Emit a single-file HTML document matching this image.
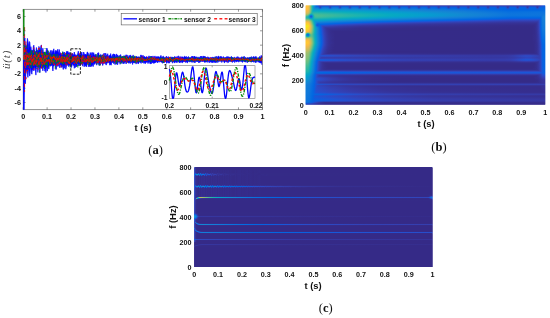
<!DOCTYPE html>
<html><head><meta charset="utf-8"><title>figure</title>
<style>
html,body{margin:0;padding:0;background:#fff;}
svg{display:block}
text{font-family:"Liberation Sans",sans-serif;font-weight:bold;fill:#111}
.tk{font-size:7.2px}
.ti{font-size:6.8px}
.ax{font-size:9.4px}
.cap{font-family:"Liberation Serif",serif;font-weight:normal;font-size:12.5px;fill:#111}
.cap tspan{font-weight:bold}
.lg{font-size:6.6px}
</style></head><body>
<svg width="550" height="318" viewBox="0 0 550 318">
<rect width="550" height="318" fill="#fff"/>

<g id="plotA">
<clipPath id="ca"><rect x="23.2" y="9.3" width="239.2" height="100.4"/></clipPath>
<g clip-path="url(#ca)" fill="none" stroke-linejoin="round">
<path d="M23.4,36.6L23.9,27.9L24.4,41.0L24.9,38.0L25.4,45.4L25.9,45.4L26.4,48.7L26.9,46.0L27.4,38.4L27.9,40.9L28.4,43.6L28.9,49.9L29.4,41.5L29.9,42.6L30.4,50.5L30.9,46.7L31.4,51.0L31.9,51.0L32.4,50.2L32.9,51.1L33.4,45.9L33.9,45.2L34.4,50.6L34.9,50.9L35.4,51.8L35.9,51.9L36.4,47.5L36.9,49.0L37.4,52.2L37.9,50.3L38.4,51.0L38.9,46.4L39.4,48.2L39.9,49.6L40.4,50.2L40.9,45.5L41.4,45.1L41.9,52.0L42.4,52.5L42.9,48.2L43.4,53.1L43.9,52.2L44.4,53.3L44.9,52.6L45.4,53.4L45.9,52.9L46.4,49.2L46.9,48.0L47.4,49.4L47.9,51.6L48.4,51.2L48.9,53.0L49.4,53.7L49.9,52.7L50.4,50.4L50.9,54.0L51.4,54.0L51.9,50.3L52.4,53.6L52.9,51.0L53.3,50.8L53.8,48.8L54.3,53.3L54.8,53.5L55.3,50.4L55.8,50.8L56.3,51.9L56.8,50.5L57.3,52.1L57.8,49.2L58.3,53.9L58.8,51.5L59.3,49.5L59.8,54.1L60.3,52.6L60.8,54.0L61.3,53.6L61.8,54.8L62.3,54.8L62.8,51.7L63.3,53.8L63.8,52.8L64.3,52.0L64.8,54.0L65.3,54.3L65.8,54.9L66.3,51.7L66.8,51.4L67.3,52.3L67.8,51.2L68.3,53.0L68.8,52.7L69.3,55.0L69.8,52.3L70.3,54.7L70.8,54.4L71.3,54.8L71.8,53.8L72.3,53.2L72.8,53.8L73.3,54.9L73.8,55.2L74.3,52.0L74.8,55.0L75.3,54.6L75.8,55.5L76.3,55.1L76.8,55.5L77.3,55.0L77.8,53.2L78.3,51.2L78.8,53.8L79.3,55.3L79.8,53.7L80.3,53.9L80.8,52.6L81.3,54.4L81.8,52.0L82.3,55.0L82.8,55.4L83.2,54.6L83.7,52.0L84.2,53.5L84.7,54.8L85.2,54.8L85.7,54.1L86.2,55.0L86.7,54.6L87.2,51.9L87.7,52.3L88.2,53.0L88.7,55.9L89.2,54.7L89.7,55.5L90.2,52.6L90.7,55.7L91.2,52.5L91.7,55.9L92.2,55.4L92.7,52.4L93.2,54.7L93.7,52.7L94.2,55.0L94.7,56.0L95.2,54.2L95.7,55.2L96.2,55.3L96.7,56.2L97.2,56.2L97.7,53.0L98.2,52.8L98.7,52.8L99.2,55.9L99.7,56.3L100.2,55.2L100.7,54.4L101.2,54.8L101.7,56.4L102.2,56.2L102.7,54.6L103.2,56.4L103.7,53.9L104.2,53.0L104.7,56.3L105.2,56.5L105.7,53.1L106.2,54.5L106.7,55.8L107.2,55.8L107.7,53.7L108.2,56.1L108.7,56.6L109.2,55.3L109.7,56.3L110.2,55.1L110.7,53.6L111.2,56.2L111.7,56.5L112.2,56.7L112.7,54.4L113.1,56.7L113.6,53.8L114.1,55.1L114.6,54.1L115.1,54.6L115.6,56.7L116.1,56.7L116.6,53.9L117.1,56.6L117.6,54.9L118.1,56.8L118.6,56.6L119.1,55.5L119.6,56.7L120.1,55.2L120.6,54.6L121.1,56.6L121.6,56.7L122.1,57.0L122.6,56.4L123.1,57.0L123.6,56.0L124.1,55.6L124.6,56.1L125.1,56.0L125.6,56.0L126.1,54.7L126.6,56.2L127.1,54.9L127.6,56.7L128.1,57.0L128.6,57.0L129.1,55.3L129.6,57.0L130.1,55.5L130.6,54.9L131.1,56.3L131.6,57.1L132.1,56.1L132.6,56.8L133.1,54.9L133.6,57.1L134.1,57.1L134.6,56.6L135.1,56.6L135.6,57.2L136.1,56.9L136.6,56.1L137.1,56.7L137.6,57.3L138.1,56.9L138.6,56.9L139.1,56.8L139.6,57.3L140.1,57.2L140.6,55.1L141.1,55.4L141.6,55.2L142.1,56.0L142.6,56.9L143.0,55.2L143.5,57.2L144.0,56.6L144.5,56.6L145.0,57.0L145.5,57.3L146.0,57.2L146.5,56.5L147.0,57.3L147.5,57.2L148.0,57.2L148.5,57.2L149.0,55.8L149.5,56.8L150.0,57.5L150.5,56.2L151.0,56.9L151.5,56.1L152.0,57.0L152.5,57.3L153.0,55.9L153.5,57.5L154.0,57.4L154.5,57.0L155.0,55.9L155.5,57.5L156.0,57.3L156.5,56.9L157.0,56.5L157.5,57.6L158.0,56.3L158.5,56.9L159.0,57.0L159.5,57.3L160.0,57.4L160.5,55.9L161.0,55.4L161.5,57.6L162.0,57.6L162.5,56.7L163.0,56.4L163.5,56.2L164.0,57.5L164.5,57.6L165.0,57.7L165.5,57.4L166.0,57.0L166.5,56.1L167.0,57.7L167.5,57.7L168.0,56.8L168.5,56.8L169.0,57.7L169.5,57.7L170.0,57.7L170.5,56.8L171.0,57.6L171.5,57.6L172.0,56.8L172.5,57.7L172.9,57.1L173.4,57.7L173.9,57.7L174.4,56.8L174.9,56.4L175.4,57.3L175.9,57.4L176.4,56.7L176.9,57.7L177.4,57.6L177.9,56.1L178.4,55.9L178.9,57.8L179.4,57.8L179.9,56.6L180.4,57.4L180.9,56.6L181.4,56.9L181.9,57.4L182.4,56.8L182.9,57.0L183.4,57.8L183.9,57.3L184.4,56.2L184.9,56.6L185.4,56.9L185.9,57.0L186.4,56.5L186.9,57.6L187.4,57.5L187.9,57.0L188.4,56.5L188.9,57.6L189.4,57.8L189.9,57.7L190.4,57.4L190.9,57.8L191.4,57.0L191.9,56.2L192.4,57.6L192.9,56.0L193.4,57.5L193.9,57.3L194.4,56.0L194.9,56.8L195.4,57.3L195.9,56.7L196.4,57.4L196.9,56.8L197.4,57.8L197.9,57.8L198.4,57.2L198.9,57.3L199.4,57.4L199.9,57.8L200.4,56.2L200.9,57.8L201.4,56.1L201.9,57.7L202.4,57.7L202.8,56.2L203.3,56.1L203.8,56.9L204.3,56.1L204.8,57.8L205.3,56.5L205.8,57.2L206.3,57.7L206.8,57.2L207.3,57.9L207.8,56.7L208.3,57.1L208.8,57.9L209.3,57.8L209.8,57.8L210.3,57.5L210.8,57.8L211.3,57.8L211.8,57.3L212.3,57.9L212.8,56.9L213.3,57.5L213.8,57.6L214.3,57.3L214.8,57.9L215.3,56.5L215.8,57.9L216.3,57.4L216.8,56.2L217.3,57.9L217.8,57.0L218.3,56.2L218.8,56.1L219.3,57.7L219.8,57.2L220.3,56.3L220.8,57.2L221.3,56.5L221.8,57.0L222.3,57.9L222.8,57.7L223.3,56.5L223.8,57.5L224.3,57.6L224.8,57.8L225.3,57.9L225.8,57.1L226.3,57.7L226.8,56.5L227.3,58.0L227.8,56.5L228.3,57.9L228.8,56.7L229.3,57.6L229.8,57.0L230.3,57.6L230.8,57.9L231.3,56.3L231.8,57.2L232.3,57.9L232.7,57.3L233.2,57.9L233.7,57.7L234.2,57.3L234.7,57.3L235.2,57.9L235.7,57.9L236.2,57.6L236.7,57.5L237.2,56.6L237.7,57.4L238.2,56.8L238.7,57.7L239.2,57.9L239.7,57.8L240.2,58.0L240.7,57.7L241.2,57.2L241.7,56.7L242.2,57.9L242.7,57.1L243.2,57.0L243.7,57.1L244.2,56.3L244.7,57.4L245.2,57.6L245.7,57.5L246.2,58.0L246.7,58.0L247.2,57.5L247.7,57.7L248.2,58.0L248.7,57.8L249.2,57.3L249.7,57.5L250.2,57.7L250.7,56.9L251.2,58.0L251.7,56.6L252.2,57.2L252.7,57.7L253.2,57.1L253.7,56.4L254.2,57.2L254.7,57.2L255.2,57.1L255.7,56.5L256.2,56.6L256.7,57.9L257.2,58.0L257.7,57.9L258.2,57.8L258.7,57.9L259.2,57.6L259.7,56.4L260.2,57.8L260.7,57.2L261.2,55.3L261.7,56.8L262.2,56.1L262.2,65.0L261.7,62.6L261.2,63.0L260.7,62.9L260.2,62.8L259.7,62.5L259.2,62.5L258.7,61.0L258.2,62.3L257.7,61.0L257.2,61.2L256.7,61.6L256.2,62.4L255.7,62.2L255.2,62.7L254.7,61.3L254.2,61.1L253.7,62.3L253.2,61.7L252.7,61.2L252.2,62.0L251.7,61.2L251.2,62.3L250.7,61.4L250.2,61.4L249.7,61.2L249.2,61.7L248.7,61.1L248.2,62.1L247.7,61.6L247.2,62.8L246.7,61.1L246.2,61.1L245.7,62.0L245.2,62.0L244.7,61.9L244.2,61.2L243.7,61.1L243.2,61.1L242.7,62.2L242.2,62.3L241.7,61.4L241.2,61.2L240.7,61.3L240.2,61.2L239.7,61.3L239.2,61.2L238.7,62.2L238.2,61.3L237.7,61.1L237.2,61.4L236.7,62.0L236.2,61.8L235.7,61.3L235.2,61.1L234.7,62.6L234.2,61.1L233.7,61.4L233.2,61.2L232.7,61.8L232.3,62.5L231.8,62.0L231.3,61.1L230.8,61.2L230.3,61.5L229.8,61.6L229.3,61.3L228.8,61.4L228.3,62.5L227.8,62.7L227.3,61.1L226.8,62.1L226.3,61.8L225.8,61.5L225.3,61.6L224.8,62.5L224.3,62.8L223.8,61.4L223.3,61.1L222.8,61.1L222.3,61.3L221.8,62.5L221.3,61.3L220.8,61.5L220.3,61.1L219.8,61.1L219.3,61.4L218.8,61.6L218.3,61.2L217.8,62.6L217.3,61.3L216.8,61.1L216.3,62.6L215.8,61.8L215.3,62.7L214.8,61.4L214.3,62.5L213.8,61.5L213.3,62.4L212.8,61.8L212.3,62.8L211.8,61.8L211.3,62.5L210.8,61.2L210.3,62.2L209.8,61.1L209.3,62.8L208.8,61.1L208.3,61.4L207.8,62.4L207.3,61.3L206.8,61.5L206.3,62.2L205.8,61.7L205.3,62.3L204.8,62.2L204.3,62.2L203.8,61.3L203.3,61.1L202.8,61.8L202.4,61.3L201.9,61.4L201.4,61.1L200.9,61.8L200.4,61.1L199.9,62.4L199.4,61.2L198.9,63.0L198.4,61.2L197.9,61.2L197.4,62.0L196.9,61.3L196.4,61.5L195.9,61.5L195.4,61.7L194.9,63.0L194.4,61.4L193.9,62.3L193.4,61.6L192.9,62.3L192.4,61.3L191.9,62.4L191.4,61.2L190.9,61.7L190.4,61.2L189.9,62.2L189.4,61.2L188.9,61.2L188.4,61.6L187.9,61.7L187.4,62.9L186.9,62.6L186.4,62.0L185.9,61.4L185.4,62.5L184.9,61.2L184.4,61.6L183.9,61.9L183.4,61.3L182.9,62.4L182.4,62.8L181.9,61.2L181.4,62.3L180.9,62.6L180.4,62.1L179.9,62.2L179.4,63.0L178.9,61.5L178.4,61.3L177.9,61.2L177.4,62.4L176.9,61.7L176.4,62.5L175.9,62.5L175.4,61.4L174.9,62.5L174.4,62.9L173.9,62.3L173.4,61.4L172.9,61.7L172.5,63.2L172.0,61.8L171.5,61.3L171.0,61.4L170.5,62.0L170.0,61.3L169.5,63.2L169.0,61.8L168.5,63.2L168.0,61.4L167.5,61.7L167.0,63.2L166.5,63.2L166.0,61.6L165.5,61.3L165.0,62.2L164.5,61.9L164.0,63.0L163.5,61.5L163.0,63.2L162.5,63.1L162.0,62.1L161.5,62.0L161.0,62.3L160.5,61.4L160.0,61.4L159.5,61.8L159.0,62.3L158.5,61.6L158.0,61.4L157.5,62.9L157.0,61.7L156.5,61.4L156.0,62.5L155.5,62.2L155.0,62.9L154.5,63.0L154.0,62.7L153.5,63.4L153.0,62.6L152.5,63.1L152.0,61.8L151.5,63.5L151.0,63.5L150.5,63.6L150.0,63.9L149.5,61.8L149.0,62.0L148.5,62.6L148.0,63.6L147.5,61.9L147.0,61.8L146.5,62.3L146.0,62.5L145.5,63.4L145.0,63.4L144.5,61.6L144.0,63.5L143.5,61.6L143.0,62.8L142.6,62.6L142.1,62.1L141.6,61.7L141.1,63.4L140.6,62.6L140.1,62.3L139.6,61.7L139.1,62.5L138.6,63.5L138.1,63.9L137.6,62.9L137.1,62.0L136.6,62.1L136.1,64.1L135.6,61.8L135.1,63.1L134.6,63.0L134.1,61.9L133.6,63.0L133.1,62.4L132.6,64.5L132.1,62.1L131.6,61.9L131.1,62.9L130.6,63.4L130.1,62.6L129.6,63.0L129.1,62.6L128.6,63.3L128.1,62.7L127.6,62.0L127.1,61.9L126.6,62.0L126.1,64.0L125.6,62.0L125.1,62.0L124.6,62.2L124.1,63.6L123.6,62.5L123.1,63.9L122.6,62.4L122.1,62.2L121.6,63.2L121.1,62.1L120.6,62.1L120.1,64.3L119.6,62.1L119.1,62.3L118.6,62.1L118.1,62.5L117.6,64.8L117.1,62.2L116.6,64.3L116.1,62.4L115.6,62.5L115.1,64.7L114.6,63.3L114.1,62.8L113.6,63.6L113.1,62.3L112.7,62.3L112.2,62.5L111.7,62.4L111.2,65.2L110.7,64.5L110.2,64.8L109.7,65.1L109.2,62.7L108.7,62.5L108.2,62.6L107.7,63.0L107.2,62.5L106.7,63.8L106.2,65.1L105.7,64.2L105.2,62.5L104.7,63.1L104.2,63.6L103.7,62.8L103.2,63.9L102.7,65.5L102.2,62.7L101.7,63.0L101.2,63.5L100.7,63.3L100.2,65.3L99.7,63.5L99.2,65.6L98.7,64.3L98.2,63.0L97.7,63.1L97.2,62.7L96.7,65.2L96.2,63.3L95.7,63.1L95.2,62.8L94.7,64.5L94.2,63.0L93.7,63.7L93.2,66.6L92.7,65.6L92.2,64.4L91.7,66.5L91.2,66.0L90.7,65.5L90.2,67.0L89.7,66.5L89.2,65.0L88.7,66.8L88.2,63.2L87.7,63.4L87.2,63.1L86.7,66.9L86.2,66.4L85.7,64.5L85.2,66.3L84.7,63.9L84.2,66.8L83.7,63.2L83.2,63.3L82.8,66.2L82.3,63.6L81.8,64.5L81.3,63.3L80.8,63.5L80.3,64.4L79.8,66.1L79.3,63.4L78.8,64.2L78.3,65.8L77.8,64.3L77.3,63.6L76.8,67.0L76.3,66.5L75.8,63.8L75.3,67.6L74.8,64.0L74.3,68.3L73.8,64.7L73.3,65.4L72.8,64.0L72.3,64.3L71.8,66.3L71.3,67.6L70.8,64.7L70.3,64.0L69.8,65.6L69.3,64.4L68.8,66.7L68.3,65.1L67.8,64.6L67.3,65.4L66.8,64.0L66.3,67.1L65.8,69.2L65.3,64.8L64.8,65.5L64.3,68.3L63.8,65.3L63.3,69.5L62.8,67.7L62.3,65.1L61.8,66.8L61.3,67.5L60.8,65.1L60.3,64.4L59.8,67.9L59.3,64.4L58.8,64.6L58.3,66.2L57.8,66.4L57.3,65.4L56.8,64.7L56.3,69.3L55.8,69.4L55.3,65.0L54.8,64.9L54.3,65.1L53.8,66.1L53.3,66.1L52.9,71.0L52.4,65.7L51.9,65.4L51.4,65.6L50.9,65.8L50.4,66.2L49.9,65.3L49.4,65.2L48.9,69.1L48.4,67.9L47.9,65.8L47.4,71.1L46.9,65.6L46.4,68.5L45.9,72.6L45.4,66.9L44.9,71.2L44.4,65.8L43.9,67.7L43.4,66.2L42.9,70.9L42.4,67.6L41.9,68.1L41.4,68.0L40.9,68.0L40.4,67.0L39.9,72.5L39.4,68.0L38.9,67.2L38.4,67.1L37.9,72.4L37.4,67.1L36.9,67.0L36.4,67.0L35.9,75.1L35.4,69.8L34.9,67.4L34.4,67.4L33.9,70.9L33.4,67.7L32.9,70.3L32.4,67.8L31.9,74.2L31.4,72.4L30.9,68.2L30.4,68.7L29.9,75.8L29.4,75.8L28.9,69.5L28.4,69.3L27.9,77.4L27.4,72.1L26.9,70.3L26.4,70.5L25.9,73.0L25.4,83.8L24.9,73.7L24.4,87.3L23.9,95.4L23.4,109.7Z" stroke="#0000ff" stroke-width="0.7" fill="#0000ff"/>
<path d="M23.2,59.5L23.3,9.3L23.4,84.6L23.5,70.1L23.6,57.3L23.7,36.7L23.9,48.2L24.0,66.0L24.1,67.0L24.2,65.0L24.3,76.3L24.4,66.1L24.5,45.1L24.6,63.4L24.7,67.5L24.8,56.7L24.9,48.6L25.0,59.6L25.2,60.7L25.3,60.2L25.4,59.3L25.5,60.6L25.6,61.1L25.7,56.2L25.8,58.3L25.9,59.9L26.0,55.1L26.1,62.0L26.2,62.1L26.4,61.2L26.5,59.0L26.6,59.3L26.7,45.6L26.8,57.7L26.9,68.6L27.0,63.4L27.1,61.1L27.2,65.5L27.3,57.1L27.4,58.5L27.6,61.3L27.7,66.3L27.8,63.8L27.9,57.4L28.0,52.0L28.1,59.3L28.2,62.6L28.3,57.3L28.4,60.2L28.5,57.0L28.6,53.2L28.7,60.3L28.9,60.5L29.0,58.8L29.1,65.2L29.2,56.3L29.3,51.7L29.4,63.1L29.5,63.6L29.6,52.2L29.7,55.2L29.8,66.3L29.9,61.2L30.1,57.4L30.2,58.1L30.3,56.8L30.4,63.0L30.5,61.5L30.6,63.9L30.7,64.6L30.8,52.5L30.9,49.4L31.0,59.1L31.1,64.5L31.2,69.1L31.4,63.3L31.5,50.1L31.6,52.8L31.7,60.9L31.8,61.1L31.9,60.5L32.0,68.0L32.1,57.3L32.2,51.5L32.3,60.4L32.4,65.2L32.6,56.5L32.7,55.1L32.8,56.1L32.9,59.2L33.0,61.7L33.1,58.2L33.2,61.5L33.3,63.8L33.4,57.3L33.5,59.2L33.6,61.4L33.8,56.2L33.9,60.6L34.0,59.1L34.1,60.0L34.2,66.0L34.3,62.2L34.4,49.3L34.5,53.5L34.6,64.9L34.7,62.6L34.8,62.5L34.9,65.7L35.1,56.5L35.2,51.7L35.3,57.1L35.4,63.1L35.5,63.5L35.6,54.5L35.7,55.5L35.8,59.2L35.9,62.5L36.0,60.5L36.1,60.9L36.3,58.4L36.4,56.2L36.5,61.4L36.6,58.8L36.7,60.3L36.8,69.0L36.9,59.5L37.0,50.7L37.1,61.2L37.2,59.3L37.3,50.1L37.4,57.2L37.6,67.6L37.7,64.6L37.8,63.4L37.9,57.5L38.0,56.3L38.1,53.6L38.2,57.3L38.3,66.9L38.4,67.3L38.5,60.0L38.6,52.6L38.8,54.1L38.9,59.5L39.0,65.7L39.1,61.1L39.2,53.8L39.3,57.5L39.4,63.5L39.5,57.5L39.6,60.8L39.7,72.5L39.8,58.8L40.0,48.6L40.1,58.2L40.2,64.4L40.3,60.7L40.4,61.8L40.5,58.7L40.6,61.6L40.7,60.1L40.8,59.2L40.9,62.0L41.0,62.8L41.1,59.1L41.3,62.9L41.4,60.4L41.5,58.5L41.6,59.4L41.7,55.2L41.8,58.0L41.9,68.1L42.0,63.7L42.1,50.6L42.2,53.6L42.3,62.5L42.5,58.0L42.6,63.5L42.7,66.2L42.8,59.1L42.9,51.9L43.0,53.8L43.1,61.2L43.2,64.7L43.3,60.1L43.4,55.8L43.5,59.2L43.7,58.9L43.8,63.1L43.9,65.3L44.0,60.3L44.1,58.2L44.2,56.2L44.3,52.2L44.4,60.6L44.5,70.4L44.6,56.2L44.7,50.4L44.8,63.4L45.0,59.3L45.1,48.4L45.2,57.0L45.3,65.1L45.4,63.9L45.5,65.3L45.6,62.3L45.7,58.5L45.8,54.7L45.9,52.0L46.0,58.8L46.2,64.7L46.3,64.1L46.4,58.8L46.5,54.5L46.6,58.0L46.7,66.1L46.8,63.3L46.9,54.0L47.0,57.4L47.1,63.2L47.2,56.1L47.3,61.5L47.5,68.8L47.6,57.5L47.7,48.9L47.8,54.8L47.9,59.5L48.0,61.8L48.1,62.4L48.2,63.2L48.3,60.3L48.4,59.2L48.5,55.6L48.7,57.9L48.8,58.2L48.9,59.3L49.0,60.3L49.1,61.0L49.2,60.7L49.3,60.1L49.4,52.6L49.5,56.0L49.6,65.9L49.7,63.7L49.9,55.2L50.0,59.6L50.1,61.6L50.2,56.1L50.3,59.4L50.4,65.2L50.5,59.9L50.6,54.6L50.7,52.6L50.8,58.5L50.9,62.4L51.0,61.6L51.2,59.0L51.3,58.9L51.4,57.6L51.5,60.2L51.6,61.2L51.7,61.5L51.8,63.3L51.9,59.9L52.0,53.9L52.1,61.4L52.2,65.2L52.4,57.5L52.5,55.8L52.6,62.7L52.7,60.0L52.8,55.8L52.9,60.6L53.0,63.2L53.1,60.2L53.2,62.3L53.3,61.0L53.4,60.0L53.5,56.5L53.7,53.8L53.8,56.7L53.9,62.4L54.0,63.9L54.1,58.5L54.2,53.7L54.3,54.6L54.4,62.0L54.5,60.4L54.6,56.6L54.7,59.2L54.9,59.3L55.0,53.9L55.1,61.2L55.2,68.6L55.3,58.5L55.4,55.9L55.5,55.7L55.6,58.0L55.7,60.9L55.8,62.2L55.9,62.2L56.1,63.8L56.2,60.5L56.3,58.2L56.4,56.7L56.5,58.7L56.6,58.2L56.7,60.0L56.8,59.3L56.9,63.4L57.0,62.5L57.1,54.1L57.2,53.0L57.4,63.7L57.5,61.7L57.6,56.5L57.7,60.2L57.8,60.7L57.9,57.1L58.0,60.2L58.1,63.0L58.2,60.3L58.3,56.0L58.4,55.9L58.6,58.2L58.7,64.5L58.8,64.5L58.9,61.1L59.0,58.3L59.1,57.4L59.2,58.5L59.3,58.7L59.4,60.3L59.5,62.7L59.6,59.7L59.7,56.3L59.9,60.6L60.0,62.9L60.1,56.5L60.2,57.6L60.3,62.0L60.4,60.9L60.5,60.1L60.6,59.5L60.7,59.2L60.8,59.7L60.9,60.1L61.1,59.9L61.2,59.3L61.3,59.3L61.4,56.5L61.5,59.0L61.6,61.9L61.7,64.3L61.8,61.7L61.9,56.5L62.0,54.9L62.1,63.3L62.3,60.5L62.4,59.8L62.5,65.1L62.6,58.5L62.7,50.8L62.8,58.9L62.9,64.8L63.0,61.9L63.1,56.5L63.2,59.6L63.3,57.6L63.4,58.0L63.6,59.9L63.7,59.5L63.8,63.6L63.9,60.9L64.0,58.4L64.1,57.4L64.2,58.9L64.3,58.8L64.4,59.0L64.5,58.6L64.6,63.9L64.8,63.2L64.9,54.0L65.0,55.1L65.1,63.5L65.2,61.4L65.3,59.0L65.4,62.9L65.5,60.4L65.6,57.1L65.7,59.5L65.8,61.4L65.9,59.7L66.1,58.6L66.2,55.0L66.3,55.6L66.4,63.1L66.5,63.1L66.6,62.9L66.7,60.2L66.8,57.8L66.9,57.4L67.0,56.1L67.1,58.5L67.3,62.4L67.4,60.8L67.5,54.3L67.6,61.1L67.7,62.8L67.8,55.8L67.9,55.6L68.0,62.2L68.1,60.7L68.2,59.5L68.3,61.5L68.5,60.3L68.6,60.3L68.7,59.4L68.8,57.0L68.9,61.3L69.0,59.8L69.1,57.2L69.2,57.5L69.3,63.1L69.4,64.8L69.5,62.3L69.6,56.9L69.8,56.9L69.9,59.2L70.0,56.6L70.1,62.0L70.2,67.3L70.3,60.7L70.4,52.4L70.5,56.6L70.6,58.8L70.7,59.4L70.8,61.5L71.0,59.6L71.1,58.1L71.2,60.6L71.3,60.5L71.4,60.2L71.5,59.6L71.6,59.1L71.7,59.3L71.8,59.3L71.9,61.4L72.0,61.1L72.1,57.5L72.3,57.9L72.4,62.7L72.5,61.4L72.6,56.1L72.7,58.4L72.8,62.5L72.9,60.0L73.0,60.5L73.1,61.7L73.2,59.0L73.3,57.4L73.5,57.2L73.6,59.7L73.7,61.0L73.8,60.1L73.9,57.3L74.0,58.0L74.1,59.5L74.2,60.7L74.3,61.1L74.4,58.6L74.5,58.6L74.7,58.2L74.8,57.1L74.9,58.2L75.0,63.7L75.1,59.4L75.2,57.2L75.3,60.7L75.4,62.2L75.5,58.3L75.6,59.6L75.7,61.2L75.8,59.7L76.0,60.0L76.1,60.1L76.2,59.4L76.3,59.1L76.4,58.0L76.5,56.7L76.6,60.1L76.7,61.8L76.8,58.1L76.9,55.6L77.0,59.3L77.2,66.6L77.3,63.6L77.4,58.1L77.5,56.8L77.6,58.3L77.7,55.0L77.8,59.1L77.9,68.4L78.0,62.8L78.1,54.5L78.2,56.0L78.3,58.5L78.5,59.0L78.6,60.7L78.7,61.3L78.8,59.0L78.9,62.3L79.0,59.7L79.1,59.3L79.2,60.3L79.3,60.3L79.4,57.8L79.5,58.7L79.7,59.2L79.8,62.4L79.9,58.5L80.0,57.5L80.1,62.3L80.2,61.3L80.3,56.8L80.4,56.5L80.5,60.2L80.6,60.0L80.7,61.5L80.9,63.9L81.0,59.0L81.1,54.8L81.2,55.7L81.3,58.8L81.4,62.3L81.5,65.4L81.6,60.3L81.7,57.4L81.8,59.7L81.9,60.3L82.0,59.2L82.2,61.4L82.3,61.3L82.4,60.0L82.5,55.8L82.6,58.0L82.7,63.3L82.8,59.1L82.9,55.1L83.0,59.6L83.1,60.6L83.2,58.1L83.4,59.2L83.5,60.3L83.6,58.3L83.7,59.5L83.8,60.3L83.9,59.2L84.0,60.0L84.1,58.6L84.2,59.5L84.3,59.0L84.4,61.4L84.6,59.5L84.7,58.7L84.8,59.1L84.9,60.7L85.0,61.4L85.1,59.6L85.2,60.3L85.3,60.4L85.4,58.6L85.5,58.7L85.6,62.8L85.7,59.2L85.9,57.7L86.0,58.8L86.1,58.8L86.2,58.9L86.3,61.1L86.4,59.9L86.5,60.0L86.6,60.8L86.7,59.3L86.8,59.3L86.9,61.5L87.1,59.6L87.2,56.8L87.3,57.5L87.4,59.9L87.5,62.2L87.6,58.9L87.7,57.5L87.8,64.6L87.9,63.3L88.0,55.3L88.1,59.2L88.2,60.4L88.4,57.6L88.5,61.0L88.6,65.0L88.7,61.7L88.8,56.4L88.9,54.7L89.0,53.9L89.1,61.3L89.2,64.3L89.3,62.3L89.4,58.9L89.6,59.0L89.7,58.3L89.8,58.8L89.9,58.4L90.0,60.5L90.1,58.7L90.2,56.6L90.3,59.2L90.4,65.2L90.5,60.4L90.6,57.1L90.8,61.0L90.9,60.5L91.0,58.0L91.1,60.5L91.2,60.1L91.3,60.9L91.4,61.4L91.5,60.2L91.6,58.2L91.7,59.0L91.8,57.2L91.9,57.5L92.1,60.7L92.2,62.4L92.3,62.6L92.4,58.0L92.5,57.3L92.6,58.7L92.7,60.4L92.8,57.9L92.9,60.7L93.0,59.9L93.1,56.3L93.3,58.0L93.4,61.5L93.5,60.9L93.6,59.1L93.7,59.5L93.8,57.6L93.9,60.8L94.0,63.0L94.1,60.1L94.2,60.1L94.3,59.9L94.4,58.3L94.6,58.3L94.7,60.0L94.8,60.9L94.9,59.6L95.0,58.1L95.1,61.3L95.2,62.5L95.3,57.3L95.4,57.5L95.5,62.2L95.6,61.5L95.8,58.3L95.9,59.4L96.0,60.1L96.1,54.5L96.2,59.3L96.3,62.7L96.4,60.8L96.5,60.3L96.6,56.4L96.7,54.1L96.8,59.4L97.0,64.6L97.1,61.4L97.2,59.7L97.3,59.0L97.4,58.5L97.5,57.8L97.6,60.0L97.7,62.9L97.8,60.6L97.9,55.1L98.0,59.5L98.1,64.4L98.3,61.1L98.4,58.5L98.5,61.0L98.6,58.7L98.7,56.3L98.8,60.3L98.9,58.0L99.0,59.5L99.1,61.0L99.2,59.8L99.3,56.7L99.5,59.8L99.6,56.7L99.7,55.1L99.8,59.8L99.9,65.4L100.0,62.8L100.1,59.1L100.2,56.9L100.3,59.1L100.4,58.4L100.5,58.3L100.6,62.6L100.8,61.3L100.9,55.8L101.0,58.7L101.1,62.2L101.2,60.8L101.3,60.9L101.4,57.0L101.5,56.7L101.6,59.1L101.7,62.0L101.8,59.6L102.0,60.9L102.1,60.7L102.2,55.2L102.3,55.6L102.4,59.2L102.5,61.0L102.6,59.5L102.7,59.9L102.8,61.5L102.9,61.6L103.0,57.3L103.2,56.5L103.3,60.7L103.4,59.5L103.5,59.8L103.6,63.0L103.7,59.8L103.8,56.7L103.9,56.6L104.0,60.1L104.1,61.7L104.2,62.6L104.3,59.5L104.5,56.6L104.6,61.0L104.7,62.1L104.8,59.9L104.9,60.3L105.0,58.8L105.1,57.2L105.2,57.1L105.3,59.3L105.4,62.4L105.5,60.4L105.7,56.1L105.8,58.6L105.9,60.0L106.0,59.9L106.1,59.8L106.2,62.1L106.3,59.6L106.4,59.5L106.5,59.8L106.6,59.2L106.7,59.4L106.8,59.8L107.0,59.1L107.1,59.9L107.2,60.7L107.3,59.0L107.4,57.6L107.5,59.5L107.6,60.9L107.7,61.3L107.8,59.6L107.9,58.9L108.0,60.1L108.2,58.4L108.3,58.9L108.4,61.9L108.5,59.9L108.6,57.9L108.7,58.2L108.8,59.6L108.9,60.0L109.0,60.5L109.1,58.9L109.2,59.2L109.4,59.1L109.5,60.7L109.6,59.1L109.7,60.9L109.8,61.2L109.9,58.8L110.0,57.9L110.1,59.1L110.2,60.5L110.3,60.1L110.4,59.8L110.5,61.1L110.7,61.2L110.8,58.4L110.9,58.9L111.0,59.2L111.1,58.8L111.2,59.9L111.3,61.6L111.4,60.1L111.5,59.6L111.6,58.5L111.7,59.0L111.9,59.2L112.0,61.0L112.1,60.7L112.2,58.0L112.3,60.1L112.4,60.4L112.5,59.9L112.6,60.5L112.7,59.9L112.8,58.0L112.9,56.5L113.0,58.8L113.2,62.4L113.3,62.0L113.4,59.1L113.5,58.9L113.6,60.0L113.7,57.9L113.8,59.7L113.9,60.8L114.0,59.9L114.1,61.0L114.2,59.9L114.4,58.0L114.5,58.7L114.6,58.8L114.7,57.3L114.8,59.1L114.9,62.7L115.0,60.6L115.1,56.9L115.2,58.7L115.3,61.1L115.4,60.7L115.6,59.3L115.7,59.2L115.8,58.7L115.9,56.5L116.0,58.4L116.1,63.9L116.2,62.1L116.3,57.3L116.4,57.3L116.5,57.4L116.6,60.7L116.7,63.2L116.9,61.1L117.0,57.7L117.1,59.3L117.2,58.4L117.3,57.2L117.4,61.1L117.5,62.7L117.6,57.8L117.7,56.9L117.8,60.1L117.9,60.1L118.1,59.1L118.2,58.0L118.3,62.4L118.4,62.5L118.5,57.9L118.6,58.4L118.7,59.4L118.8,56.2L118.9,59.2L119.0,61.0L119.1,61.1L119.2,59.9L119.4,59.0L119.5,56.9L119.6,60.6L119.7,62.6L119.8,60.2L119.9,57.6L120.0,59.8L120.1,60.3L120.2,59.4L120.3,60.3L120.4,60.9L120.6,58.6L120.7,55.5L120.8,57.6L120.9,62.2L121.0,63.6L121.1,58.8L121.2,59.4L121.3,59.5L121.4,57.4L121.5,58.2L121.6,59.1L121.8,59.3L121.9,60.7L122.0,60.7L122.1,57.9L122.2,60.6L122.3,59.6L122.4,56.4L122.5,59.4L122.6,62.9L122.7,61.3L122.8,59.0L122.9,59.5L123.1,60.5L123.2,60.0L123.3,59.2L123.4,59.8L123.5,58.8L123.6,56.3L123.7,58.3L123.8,62.5L123.9,61.8L124.0,59.0L124.1,58.4L124.3,56.3L124.4,58.3L124.5,61.6L124.6,60.2L124.7,60.3L124.8,59.8L124.9,58.4L125.0,55.9L125.1,59.6L125.2,60.3L125.3,58.9L125.5,57.8L125.6,60.5L125.7,61.0L125.8,59.4L125.9,58.3L126.0,60.5L126.1,60.4L126.2,58.8L126.3,59.7L126.4,59.9L126.5,57.9L126.6,59.6L126.8,60.7L126.9,60.6L127.0,60.5L127.1,58.8L127.2,56.7L127.3,58.9L127.4,62.5L127.5,60.5L127.6,58.5L127.7,59.0L127.8,58.4L128.0,58.1L128.1,59.9L128.2,61.1L128.3,60.2L128.4,57.2L128.5,58.1L128.6,60.7L128.7,60.9L128.8,59.9L128.9,60.4L129.0,59.4L129.1,58.9L129.3,59.3L129.4,59.5L129.5,58.9L129.6,60.8L129.7,59.8L129.8,58.1L129.9,60.3L130.0,60.2L130.1,56.8L130.2,58.8L130.3,61.6L130.5,61.0L130.6,59.1L130.7,58.5L130.8,58.8L130.9,59.2L131.0,58.9L131.1,59.3L131.2,59.5L131.3,56.5L131.4,57.5L131.5,61.4L131.7,62.2L131.8,61.5L131.9,59.7L132.0,56.3L132.1,57.2L132.2,60.4L132.3,60.0L132.4,60.5L132.5,61.9L132.6,58.4L132.7,56.4L132.8,59.3L133.0,61.2L133.1,58.5L133.2,58.8L133.3,60.7L133.4,62.4L133.5,60.3L133.6,58.4L133.7,59.9L133.8,58.4L133.9,57.9L134.0,59.7L134.2,60.0L134.3,57.9L134.4,59.2L134.5,60.2L134.6,59.4L134.7,61.3L134.8,58.8L134.9,54.4L135.0,58.9L135.1,63.3L135.2,61.5L135.3,60.5L135.5,60.8L135.6,57.2L135.7,56.0L135.8,58.5L135.9,62.3L136.0,62.1L136.1,58.3L136.2,58.1L136.3,60.5L136.4,59.7L136.5,59.8L136.7,60.8L136.8,58.9L136.9,59.0L137.0,60.2L137.1,59.1L137.2,59.4L137.3,61.3L137.4,58.5L137.5,57.9L137.6,61.3L137.7,60.6L137.9,57.4L138.0,59.1L138.1,61.8L138.2,61.2L138.3,58.9L138.4,59.1L138.5,58.6L138.6,58.4L138.7,59.2L138.8,61.6L138.9,62.1L139.0,57.9L139.2,57.9L139.3,59.7L139.4,61.0L139.5,61.7L139.6,60.4L139.7,57.7L139.8,57.8L139.9,60.1L140.0,58.0L140.1,60.0L140.2,61.0L140.4,59.1L140.5,56.9L140.6,59.4L140.7,60.4L140.8,59.5L140.9,58.8L141.0,59.7L141.1,61.2L141.2,59.5L141.3,58.7L141.4,59.6L141.5,58.9L141.7,58.6L141.8,59.8L141.9,60.0L142.0,59.6L142.1,59.4L142.2,58.9L142.3,59.9L142.4,62.2L142.5,59.1L142.6,57.0L142.7,59.0L142.9,60.3L143.0,60.1L143.1,60.7L143.2,60.5L143.3,58.0L143.4,56.9L143.5,58.4L143.6,60.4L143.7,61.1L143.8,59.5L143.9,59.3L144.1,59.8L144.2,59.9L144.3,59.1L144.4,59.5L144.5,58.8L144.6,59.0L144.7,59.4L144.8,58.8L144.9,59.9L145.0,61.0L145.1,58.9L145.2,58.2L145.4,60.4L145.5,60.1L145.6,58.4L145.7,59.4L145.8,60.2L145.9,60.2L146.0,59.6L146.1,59.3L146.2,58.4L146.3,58.6L146.4,58.9L146.6,60.4L146.7,60.7L146.8,60.0L146.9,59.2L147.0,58.9L147.1,59.1L147.2,59.7L147.3,59.7L147.4,58.5L147.5,59.3L147.6,58.9L147.7,58.8L147.9,60.0L148.0,60.9L148.1,58.9L148.2,58.0L148.3,59.4L148.4,60.2L148.5,59.8L148.6,59.7L148.7,59.9L148.8,59.8L148.9,58.5L149.1,58.4L149.2,59.7L149.3,58.8L149.4,59.3L149.5,60.2L149.6,59.5L149.7,59.2L149.8,59.4L149.9,58.1L150.0,59.1L150.1,62.5L150.3,60.2L150.4,57.3L150.5,58.8L150.6,59.3L150.7,58.3L150.8,60.2L150.9,61.5L151.0,59.2L151.1,56.8L151.2,57.8L151.3,60.4L151.4,61.3L151.6,59.9L151.7,59.0L151.8,59.5L151.9,59.4L152.0,59.6L152.1,59.5L152.2,58.9L152.3,59.2L152.4,59.2L152.5,58.3L152.6,60.8L152.8,61.6L152.9,59.3L153.0,58.9L153.1,60.8L153.2,59.6L153.3,58.0L153.4,59.4L153.5,59.6L153.6,60.1L153.7,59.6L153.8,59.5L153.9,59.4L154.1,58.5L154.2,58.7L154.3,60.2L154.4,60.3L154.5,59.3L154.6,59.7L154.7,59.3L154.8,59.6L154.9,59.0L155.0,59.6L155.1,59.6L155.3,60.0L155.4,58.9L155.5,59.0L155.6,60.4L155.7,60.6L155.8,59.4L155.9,58.6L156.0,59.4L156.1,59.5L156.2,60.2L156.3,59.8L156.5,59.5L156.6,59.6L156.7,59.3L156.8,58.9L156.9,58.8L157.0,59.0L157.1,59.4L157.2,60.2L157.3,60.2L157.4,60.1L157.5,59.5L157.6,57.9L157.8,58.8L157.9,60.8L158.0,60.7L158.1,59.0L158.2,59.2L158.3,59.3L158.4,58.3L158.5,59.7L158.6,60.3L158.7,59.7L158.8,58.7L159.0,58.5L159.1,59.9L159.2,60.8L159.3,60.5L159.4,59.8L159.5,59.0L159.6,59.1L159.7,58.8L159.8,59.1L159.9,59.6L160.0,60.6L160.1,59.0L160.3,58.1L160.4,60.0L160.5,60.6L160.6,58.8L160.7,59.2L160.8,60.8L160.9,60.2L161.0,59.3L161.1,58.3L161.2,59.4L161.3,59.3L161.5,60.5L161.6,60.1L161.7,60.1L161.8,58.5L161.9,57.2L162.0,59.9L162.1,61.3L162.2,61.2L162.3,60.4L162.4,57.5L162.5,57.8L162.7,60.1L162.8,58.8L162.9,58.6L163.0,60.9L163.1,59.3L163.2,57.2L163.3,60.4L163.4,62.8L163.5,59.5L163.6,58.5L163.7,58.6L163.8,59.7L164.0,59.5L164.1,59.9L164.2,60.1L164.3,60.5L164.4,59.2L164.5,58.5L164.6,59.2L164.7,59.0L164.8,59.5L164.9,60.5L165.0,60.8L165.2,61.4L165.3,60.2L165.4,56.9L165.5,58.0L165.6,60.8L165.7,59.9L165.8,58.8L165.9,60.3L166.0,59.6L166.1,58.1L166.2,58.6L166.4,60.5L166.5,60.4L166.6,59.0L166.7,58.2L166.8,59.8L166.9,60.3L167.0,60.1L167.1,60.0L167.2,58.9L167.3,58.4L167.4,58.9L167.5,59.1L167.7,59.9L167.8,61.3L167.9,60.1L168.0,58.0L168.1,60.2L168.2,60.4L168.3,58.2L168.4,59.3L168.5,60.6L168.6,60.1L168.7,58.9L168.9,58.9L169.0,58.8L169.1,58.6L169.2,59.4L169.3,59.9L169.4,60.3L169.5,59.4L169.6,58.3L169.7,59.1L169.8,60.6L169.9,61.0L170.0,60.4L170.2,57.5L170.3,58.3L170.4,60.4L170.5,59.1L170.6,59.9L170.7,62.2L170.8,59.5L170.9,56.9L171.0,59.3L171.1,61.7L171.2,60.2L171.4,59.1L171.5,60.0L171.6,59.6L171.7,58.9L171.8,59.4L171.9,59.4L172.0,60.1L172.1,59.3L172.2,59.2L172.3,58.4L172.4,59.4L172.6,59.2L172.7,58.9L172.8,59.7L172.9,61.7L173.0,61.3L173.1,57.0L173.2,57.8L173.3,60.2L173.4,58.9L173.5,59.9L173.6,61.3L173.7,59.5L173.9,57.9L174.0,59.1L174.1,60.5L174.2,61.0L174.3,59.7L174.4,58.5L174.5,58.6L174.6,60.3L174.7,60.2L174.8,59.9L174.9,59.6L175.1,58.8L175.2,58.8L175.3,58.6L175.4,59.5L175.5,61.7L175.6,60.0L175.7,58.1L175.8,60.0L175.9,60.0L176.0,58.5L176.1,59.2L176.2,59.8L176.4,59.9L176.5,60.0L176.6,59.9L176.7,59.2L176.8,59.4L176.9,58.6L177.0,59.8L177.1,60.8L177.2,60.1L177.3,59.0L177.4,59.1L177.6,59.5L177.7,60.7L177.8,60.0L177.9,58.5L178.0,58.3L178.1,59.3L178.2,58.8L178.3,60.4L178.4,62.2L178.5,59.9L178.6,58.0L178.8,58.9L178.9,59.7L179.0,59.9L179.1,60.1L179.2,59.6L179.3,59.8L179.4,59.4L179.5,58.9L179.6,59.4L179.7,59.4L179.8,60.1L179.9,59.3L180.1,59.6L180.2,60.0L180.3,59.9L180.4,59.1L180.5,59.3L180.6,60.1L180.7,60.2L180.8,58.2L180.9,58.9L181.0,59.7L181.1,59.3L181.3,60.2L181.4,60.5L181.5,59.5L181.6,58.7L181.7,59.2L181.8,59.4L181.9,60.4L182.0,59.7L182.1,59.2L182.2,59.2L182.3,59.1L182.4,59.7L182.6,59.5L182.7,59.4L182.8,59.9L182.9,59.5L183.0,58.6L183.1,59.3L183.2,60.5L183.3,59.8L183.4,59.1L183.5,59.9L183.6,59.8L183.8,59.3L183.9,59.5L184.0,58.9L184.1,59.8L184.2,59.8L184.3,60.0L184.4,59.3L184.5,59.7L184.6,58.4L184.7,59.0L184.8,60.1L185.0,59.7L185.1,59.5L185.2,58.9L185.3,59.2L185.4,60.4L185.5,60.2L185.6,59.0L185.7,58.9L185.8,58.8L185.9,58.5L186.0,60.1L186.1,61.5L186.3,60.1L186.4,58.5L186.5,59.0L186.6,59.0L186.7,59.7L186.8,60.1L186.9,59.9L187.0,60.1L187.1,59.8L187.2,59.0L187.3,59.1L187.5,59.8L187.6,59.5L187.7,60.0L187.8,59.8L187.9,60.2L188.0,60.6L188.1,58.6L188.2,58.4L188.3,60.7L188.4,59.6L188.5,58.2L188.6,59.4L188.8,59.8L188.9,59.0L189.0,60.3L189.1,61.1L189.2,59.8L189.3,58.5L189.4,57.7L189.5,59.2L189.6,61.1L189.7,61.6L189.8,59.6L190.0,58.5L190.1,58.6L190.2,58.9L190.3,59.1L190.4,59.8L190.5,60.5L190.6,59.9L190.7,58.0L190.8,59.6L190.9,61.5L191.0,59.2L191.2,58.1L191.3,60.1L191.4,59.6L191.5,58.2L191.6,58.8L191.7,59.5L191.8,59.2L191.9,59.8L192.0,59.5L192.1,59.6L192.2,59.5L192.3,58.5L192.5,59.0L192.6,60.4L192.7,60.8L192.8,59.7L192.9,57.6L193.0,58.4L193.1,60.3L193.2,59.8L193.3,58.8L193.4,60.3L193.5,59.4L193.7,57.7L193.8,59.3L193.9,61.7L194.0,60.3L194.1,58.6L194.2,58.8L194.3,58.8L194.4,59.3L194.5,59.4L194.6,59.1L194.7,60.3L194.8,59.8L195.0,59.0L195.1,59.3L195.2,60.0L195.3,59.7L195.4,59.0L195.5,59.0L195.6,60.2L195.7,60.8L195.8,58.3L195.9,58.3L196.0,60.2L196.2,59.6L196.3,59.1L196.4,59.8L196.5,59.5L196.6,58.5L196.7,59.8L196.8,60.9L196.9,60.4L197.0,59.2L197.1,58.3L197.2,57.8L197.4,60.0L197.5,60.9L197.6,60.5L197.7,59.3L197.8,59.1L197.9,58.4L198.0,58.5L198.1,59.4L198.2,60.7L198.3,60.3L198.4,58.6L198.5,59.9L198.7,60.7L198.8,58.9L198.9,58.5L199.0,59.6L199.1,59.3L199.2,58.9L199.3,59.6L199.4,59.4L199.5,59.6L199.6,60.0L199.7,59.5L199.9,59.6L200.0,59.7L200.1,58.8L200.2,59.2L200.3,60.6L200.4,61.2L200.5,60.1L200.6,58.0L200.7,58.2L200.8,59.2L200.9,59.1L201.0,59.3L201.2,61.0L201.3,59.9L201.4,57.8L201.5,59.2L201.6,60.4L201.7,59.7L201.8,59.1L201.9,58.8L202.0,58.9L202.1,59.3L202.2,59.8L202.4,59.3L202.5,60.1L202.6,59.8L202.7,58.6L202.8,58.9L202.9,60.4L203.0,60.3L203.1,59.7L203.2,59.5L203.3,60.5L203.4,60.9L203.6,58.1L203.7,57.6L203.8,60.3L203.9,59.7L204.0,59.0L204.1,60.7L204.2,59.2L204.3,57.9L204.4,58.8L204.5,60.1L204.6,61.1L204.7,60.5L204.9,57.7L205.0,56.7L205.1,58.9L205.2,61.0L205.3,60.4L205.4,59.9L205.5,59.4L205.6,58.9L205.7,58.4L205.8,59.5L205.9,62.1L206.1,61.1L206.2,57.6L206.3,59.7L206.4,61.5L206.5,59.1L206.6,58.9L206.7,60.0L206.8,58.8L206.9,58.7L207.0,59.6L207.1,59.3L207.3,59.7L207.4,60.0L207.5,58.9L207.6,59.1L207.7,60.1L207.8,58.6L207.9,58.0L208.0,59.4L208.1,60.9L208.2,60.6L208.3,58.9L208.4,58.6L208.6,59.4L208.7,58.9L208.8,59.3L208.9,61.6L209.0,60.6L209.1,58.9L209.2,59.3L209.3,60.2L209.4,59.8L209.5,59.7L209.6,59.4L209.8,58.7L209.9,59.9L210.0,59.5L210.1,59.7L210.2,60.0L210.3,59.5L210.4,58.3L210.5,58.8L210.6,59.9L210.7,60.6L210.8,59.3L210.9,59.3L211.1,59.8L211.2,60.2L211.3,58.1L211.4,58.3L211.5,59.3L211.6,59.4L211.7,60.0L211.8,61.0L211.9,59.9L212.0,58.6L212.1,58.9L212.3,59.0L212.4,60.5L212.5,60.7L212.6,59.5L212.7,58.4L212.8,59.0L212.9,59.7L213.0,59.7L213.1,60.3L213.2,59.8L213.3,59.0L213.5,58.2L213.6,59.9L213.7,61.8L213.8,60.3L213.9,57.9L214.0,59.1L214.1,60.1L214.2,58.7L214.3,58.9L214.4,60.2L214.5,58.9L214.6,60.0L214.8,59.9L214.9,58.9L215.0,59.5L215.1,59.5L215.2,59.4L215.3,60.2L215.4,60.9L215.5,58.9L215.6,57.6L215.7,58.8L215.8,60.9L216.0,60.7L216.1,59.1L216.2,59.1L216.3,59.0L216.4,57.8L216.5,59.0L216.6,62.1L216.7,60.8L216.8,58.7L216.9,58.5L217.0,59.0L217.1,59.4L217.3,60.3L217.4,59.3L217.5,58.9L217.6,59.7L217.7,59.5L217.8,59.6L217.9,60.5L218.0,60.4L218.1,58.8L218.2,58.2L218.3,59.7L218.5,60.1L218.6,59.4L218.7,59.1L218.8,60.4L218.9,60.4L219.0,58.3L219.1,59.0L219.2,59.3L219.3,59.0L219.4,60.0L219.5,61.6L219.7,60.8L219.8,59.1L219.9,58.0L220.0,57.5L220.1,59.4L220.2,60.9L220.3,59.2L220.4,58.2L220.5,59.4L220.6,59.8L220.7,59.1L220.8,60.0L221.0,60.0L221.1,59.0L221.2,58.1L221.3,59.4L221.4,61.9L221.5,60.7L221.6,58.1L221.7,59.8L221.8,59.1L221.9,57.9L222.0,59.7L222.2,60.1L222.3,59.9L222.4,60.3L222.5,60.3L222.6,58.9L222.7,59.9L222.8,59.3L222.9,58.6L223.0,59.9L223.1,61.7L223.2,59.7L223.3,58.3L223.5,57.9L223.6,59.7L223.7,59.9L223.8,59.3L223.9,59.6L224.0,60.0L224.1,57.7L224.2,59.2L224.3,61.0L224.4,60.7L224.5,58.6L224.7,58.9L224.8,58.3L224.9,59.1L225.0,60.9L225.1,59.8L225.2,59.6L225.3,60.1L225.4,59.3L225.5,58.9L225.6,60.2L225.7,60.7L225.9,59.0L226.0,58.6L226.1,60.2L226.2,59.7L226.3,58.6L226.4,58.5L226.5,59.8L226.6,59.9L226.7,58.9L226.8,58.9L226.9,59.6L227.0,58.6L227.2,59.4L227.3,60.3L227.4,60.0L227.5,59.7L227.6,59.3L227.7,58.2L227.8,59.2L227.9,60.3L228.0,59.6L228.1,59.5L228.2,59.4L228.4,59.6L228.5,59.4L228.6,60.3L228.7,59.9L228.8,59.4L228.9,57.8L229.0,59.0L229.1,60.4L229.2,59.8L229.3,59.2L229.4,59.5L229.5,58.9L229.7,58.1L229.8,59.6L229.9,59.7L230.0,59.8L230.1,60.6L230.2,60.0L230.3,59.5L230.4,60.1L230.5,58.8L230.6,57.5L230.7,59.5L230.9,61.3L231.0,60.5L231.1,58.6L231.2,58.4L231.3,59.3L231.4,59.3L231.5,59.1L231.6,60.6L231.7,60.4L231.8,58.0L231.9,59.3L232.1,61.0L232.2,60.4L232.3,59.8L232.4,58.6L232.5,57.7L232.6,58.8L232.7,60.6L232.8,60.2L232.9,60.2L233.0,60.4L233.1,58.1L233.2,57.9L233.4,59.9L233.5,59.8L233.6,59.5L233.7,58.7L233.8,59.8L233.9,60.2L234.0,59.1L234.1,57.9L234.2,60.0L234.3,59.8L234.4,59.3L234.6,60.3L234.7,60.6L234.8,58.9L234.9,59.1L235.0,59.7L235.1,60.2L235.2,60.0L235.3,58.7L235.4,57.0L235.5,59.4L235.6,61.3L235.7,60.0L235.9,59.4L236.0,59.6L236.1,58.6L236.2,58.4L236.3,59.8L236.4,61.0L236.5,60.1L236.6,58.3L236.7,58.4L236.8,59.9L236.9,59.3L237.1,59.5L237.2,59.9L237.3,59.1L237.4,58.6L237.5,60.0L237.6,59.5L237.7,59.7L237.8,60.1L237.9,60.0L238.0,60.0L238.1,60.3L238.3,59.2L238.4,58.7L238.5,59.3L238.6,60.1L238.7,59.9L238.8,59.1L238.9,59.1L239.0,59.6L239.1,59.0L239.2,59.1L239.3,60.5L239.4,60.1L239.6,58.4L239.7,58.7L239.8,60.4L239.9,59.9L240.0,59.9L240.1,59.3L240.2,58.3L240.3,59.5L240.4,59.7L240.5,59.9L240.6,60.7L240.8,60.8L240.9,58.9L241.0,58.1L241.1,59.6L241.2,60.0L241.3,59.0L241.4,59.0L241.5,60.0L241.6,60.3L241.7,59.0L241.8,58.7L241.9,59.7L242.1,59.0L242.2,59.4L242.3,60.8L242.4,59.9L242.5,59.7L242.6,59.3L242.7,59.2L242.8,58.8L242.9,60.2L243.0,58.7L243.1,56.8L243.3,59.4L243.4,60.6L243.5,59.8L243.6,60.5L243.7,60.3L243.8,58.5L243.9,57.8L244.0,59.4L244.1,61.3L244.2,61.3L244.3,58.9L244.5,59.1L244.6,59.3L244.7,59.1L244.8,59.2L244.9,60.3L245.0,59.1L245.1,59.7L245.2,60.4L245.3,59.3L245.4,59.5L245.5,60.1L245.6,58.3L245.8,59.1L245.9,61.0L246.0,59.3L246.1,58.1L246.2,59.1L246.3,60.1L246.4,60.5L246.5,59.5L246.6,59.1L246.7,59.5L246.8,58.8L247.0,59.0L247.1,61.7L247.2,61.0L247.3,58.3L247.4,58.1L247.5,58.6L247.6,59.8L247.7,61.1L247.8,59.7L247.9,58.3L248.0,59.0L248.2,59.5L248.3,58.5L248.4,60.7L248.5,61.9L248.6,59.0L248.7,57.3L248.8,59.0L248.9,59.7L249.0,58.6L249.1,58.5L249.2,59.9L249.3,60.9L249.5,59.3L249.6,59.0L249.7,59.6L249.8,59.1L249.9,59.3L250.0,61.0L250.1,60.9L250.2,59.5L250.3,59.3L250.4,58.4L250.5,59.5L250.7,61.5L250.8,59.4L250.9,57.3L251.0,59.2L251.1,60.2L251.2,59.9L251.3,61.5L251.4,61.4L251.5,58.7L251.6,57.5L251.7,57.9L251.8,60.3L252.0,61.2L252.1,59.1L252.2,59.2L252.3,59.5L252.4,58.6L252.5,59.1L252.6,59.9L252.7,59.4L252.8,59.9L252.9,60.4L253.0,59.1L253.2,60.2L253.3,60.1L253.4,58.0L253.5,58.6L253.6,60.5L253.7,60.1L253.8,58.8L253.9,59.1L254.0,60.6L254.1,60.9L254.2,60.1L254.4,59.7L254.5,59.5L254.6,58.4L254.7,58.7L254.8,61.0L254.9,61.4L255.0,59.3L255.1,58.2L255.2,57.6L255.3,58.2L255.4,60.5L255.5,60.5L255.7,59.0L255.8,60.0L255.9,59.2L256.0,58.0L256.1,60.6L256.2,60.9L256.3,59.0L256.4,58.5L256.5,59.5L256.6,60.5L256.7,59.7L256.9,59.0L257.0,59.7L257.1,60.3L257.2,58.7L257.3,59.4L257.4,60.1L257.5,59.2L257.6,59.6L257.7,61.0L257.8,60.0L257.9,59.6L258.0,58.9L258.2,57.2L258.3,58.8L258.4,61.7L258.5,59.9L258.6,58.1L258.7,59.3L258.8,59.1L258.9,58.9L259.0,60.3L259.1,61.2L259.2,59.6L259.4,57.7L259.5,57.7L259.6,60.2L259.7,60.8L259.8,59.1L259.9,59.5L260.0,59.8L260.1,59.3L260.2,59.3L260.3,59.7L260.4,59.8L260.6,60.0L260.7,59.2L260.8,58.7L260.9,60.6L261.0,60.4L261.1,57.9L261.2,58.9L261.3,61.4L261.4,59.3L261.5,58.5L261.6,60.3L261.7,60.8L261.9,57.5L262.0,58.1L262.1,58.4L262.2,57.0L262.3,58.5L262.4,55.9" stroke="#0a8a0a" stroke-width="0.8" stroke-dasharray="3 3 1 3"/>
<path d="M23.2,59.5L23.3,27.2L23.4,88.2L23.5,48.5L23.6,61.9L23.7,51.1L23.9,50.4L24.0,73.2L24.1,68.4L24.2,47.1L24.3,49.3L24.4,64.5L24.5,58.4L24.6,64.3L24.7,68.6L24.8,65.6L24.9,68.3L25.0,55.4L25.2,45.5L25.3,53.0L25.4,54.2L25.5,63.3L25.6,68.5L25.7,64.2L25.8,64.3L25.9,54.3L26.0,39.9L26.1,61.1L26.2,79.1L26.4,58.9L26.5,52.2L26.6,64.7L26.7,53.5L26.8,57.9L26.9,66.0L27.0,61.6L27.1,52.1L27.2,50.9L27.3,55.9L27.4,70.9L27.6,69.1L27.7,59.0L27.8,54.4L27.9,54.8L28.0,54.9L28.1,56.4L28.2,61.2L28.3,60.0L28.4,65.1L28.5,56.9L28.6,56.5L28.7,63.9L28.9,59.5L29.0,52.4L29.1,61.8L29.2,68.9L29.3,58.6L29.4,58.3L29.5,56.8L29.6,55.9L29.7,59.6L29.8,58.0L29.9,58.3L30.1,54.7L30.2,55.6L30.3,59.0L30.4,63.5L30.5,65.2L30.6,60.2L30.7,55.0L30.8,54.0L30.9,61.2L31.0,65.2L31.1,60.0L31.2,59.4L31.4,61.4L31.5,55.0L31.6,52.8L31.7,63.6L31.8,62.3L31.9,57.5L32.0,58.0L32.1,63.2L32.2,60.0L32.3,60.8L32.4,56.7L32.6,59.7L32.7,64.0L32.8,59.5L32.9,56.1L33.0,55.9L33.1,54.8L33.2,58.5L33.3,61.9L33.4,61.7L33.5,65.6L33.6,56.2L33.8,46.3L33.9,59.2L34.0,70.0L34.1,59.2L34.2,56.4L34.3,60.9L34.4,55.5L34.5,58.1L34.6,66.5L34.7,61.9L34.8,60.3L34.9,54.4L35.1,55.0L35.2,62.6L35.3,66.3L35.4,64.8L35.5,58.6L35.6,55.2L35.7,57.1L35.8,57.0L35.9,56.6L36.0,59.7L36.1,65.2L36.3,60.1L36.4,58.2L36.5,63.5L36.6,58.9L36.7,51.9L36.8,60.2L36.9,66.9L37.0,63.5L37.1,59.4L37.2,58.0L37.3,57.1L37.4,59.0L37.6,59.4L37.7,60.0L37.8,59.4L37.9,57.7L38.0,55.1L38.1,65.5L38.2,69.9L38.3,66.8L38.4,55.5L38.5,48.2L38.6,57.0L38.8,63.0L38.9,60.0L39.0,63.5L39.1,67.7L39.2,51.5L39.3,47.5L39.4,62.2L39.5,62.9L39.6,57.9L39.7,59.6L39.8,62.3L40.0,61.1L40.1,59.8L40.2,54.5L40.3,54.9L40.4,62.0L40.5,63.2L40.6,59.4L40.7,60.8L40.8,60.6L40.9,60.1L41.0,58.2L41.1,62.8L41.3,68.4L41.4,57.4L41.5,45.2L41.6,61.4L41.7,68.7L41.8,58.4L41.9,60.6L42.0,61.1L42.1,51.8L42.2,52.1L42.3,63.0L42.5,64.4L42.6,64.3L42.7,56.2L42.8,51.7L42.9,58.7L43.0,61.7L43.1,62.0L43.2,59.4L43.3,60.2L43.4,58.6L43.5,58.4L43.7,58.0L43.8,62.0L43.9,65.1L44.0,59.0L44.1,59.7L44.2,66.8L44.3,59.9L44.4,53.2L44.5,59.4L44.6,61.5L44.7,60.0L44.8,59.1L45.0,56.8L45.1,56.6L45.2,58.4L45.3,59.1L45.4,61.1L45.5,62.5L45.6,58.8L45.7,56.0L45.8,58.9L45.9,62.6L46.0,62.3L46.2,58.7L46.3,54.4L46.4,56.8L46.5,59.5L46.6,57.8L46.7,63.4L46.8,64.3L46.9,56.5L47.0,55.3L47.1,60.7L47.2,60.6L47.3,58.9L47.5,61.0L47.6,60.8L47.7,61.7L47.8,61.3L47.9,56.9L48.0,55.1L48.1,59.1L48.2,59.2L48.3,58.3L48.4,60.5L48.5,62.3L48.7,59.4L48.8,58.4L48.9,59.4L49.0,64.0L49.1,58.2L49.2,53.3L49.3,59.5L49.4,62.8L49.5,60.1L49.6,62.7L49.7,61.4L49.9,55.6L50.0,56.0L50.1,58.7L50.2,63.9L50.3,63.4L50.4,61.7L50.5,57.2L50.6,59.5L50.7,61.1L50.8,61.1L50.9,59.0L51.0,58.9L51.2,61.6L51.3,57.8L51.4,57.1L51.5,61.9L51.6,62.3L51.7,56.9L51.8,58.2L51.9,62.5L52.0,58.7L52.1,55.8L52.2,60.9L52.4,61.1L52.5,59.9L52.6,59.3L52.7,58.5L52.8,57.2L52.9,59.3L53.0,60.0L53.1,60.3L53.2,63.3L53.3,58.7L53.4,55.6L53.5,55.8L53.7,62.3L53.8,64.5L53.9,58.8L54.0,56.3L54.1,58.8L54.2,56.6L54.3,56.2L54.4,62.9L54.5,65.0L54.6,56.8L54.7,56.8L54.9,61.0L55.0,58.5L55.1,59.5L55.2,59.7L55.3,57.3L55.4,60.1L55.5,59.8L55.6,57.3L55.7,58.0L55.8,58.7L55.9,58.4L56.1,58.4L56.2,61.5L56.3,61.9L56.4,60.8L56.5,57.0L56.6,60.2L56.7,66.3L56.8,58.1L56.9,54.4L57.0,58.8L57.1,60.1L57.2,59.2L57.4,65.6L57.5,64.4L57.6,57.6L57.7,55.8L57.8,55.6L57.9,58.5L58.0,65.5L58.1,62.3L58.2,57.9L58.3,57.7L58.4,59.3L58.6,58.5L58.7,55.9L58.8,58.1L58.9,61.3L59.0,58.8L59.1,56.8L59.2,64.4L59.3,63.2L59.4,55.7L59.5,56.8L59.6,64.0L59.7,59.1L59.9,57.6L60.0,61.1L60.1,60.9L60.2,59.9L60.3,61.8L60.4,56.2L60.5,56.0L60.6,58.5L60.7,58.6L60.8,62.0L60.9,67.6L61.1,62.8L61.2,55.6L61.3,51.9L61.4,57.6L61.5,62.5L61.6,58.3L61.7,59.3L61.8,60.3L61.9,58.0L62.0,53.9L62.1,62.6L62.3,63.8L62.4,58.6L62.5,59.0L62.6,60.5L62.7,59.2L62.8,62.1L62.9,59.4L63.0,58.4L63.1,59.4L63.2,61.4L63.3,57.3L63.4,59.5L63.6,59.8L63.7,59.6L63.8,58.6L63.9,60.3L64.0,61.1L64.1,60.3L64.2,55.5L64.3,58.4L64.4,64.7L64.5,60.6L64.6,55.6L64.8,58.4L64.9,56.3L65.0,56.7L65.1,64.2L65.2,64.4L65.3,60.3L65.4,58.1L65.5,53.1L65.6,59.0L65.7,66.3L65.8,65.2L65.9,58.1L66.1,58.3L66.2,59.3L66.3,57.6L66.4,58.3L66.5,60.3L66.6,62.2L66.7,58.3L66.8,55.7L66.9,65.2L67.0,64.2L67.1,54.5L67.3,57.6L67.4,62.9L67.5,57.3L67.6,56.4L67.7,59.1L67.8,59.3L67.9,60.8L68.0,63.5L68.1,58.3L68.2,58.3L68.3,56.9L68.5,56.7L68.6,58.9L68.7,66.2L68.8,65.1L68.9,58.2L69.0,53.5L69.1,57.0L69.2,60.5L69.3,59.2L69.4,61.5L69.5,63.9L69.6,60.2L69.8,55.6L69.9,61.6L70.0,63.6L70.1,58.4L70.2,56.4L70.3,57.3L70.4,57.9L70.5,62.1L70.6,61.6L70.7,58.4L70.8,58.6L71.0,59.7L71.1,55.3L71.2,57.2L71.3,62.4L71.4,60.4L71.5,60.4L71.6,60.7L71.7,63.5L71.8,58.5L71.9,53.3L72.0,57.0L72.1,63.1L72.3,61.3L72.4,59.9L72.5,61.9L72.6,56.9L72.7,57.5L72.8,61.3L72.9,62.2L73.0,61.7L73.1,59.9L73.2,55.4L73.3,57.8L73.5,64.0L73.6,61.9L73.7,56.0L73.8,58.3L73.9,58.4L74.0,56.9L74.1,57.7L74.2,61.6L74.3,64.0L74.4,57.6L74.5,56.1L74.7,61.0L74.8,60.7L74.9,56.1L75.0,59.8L75.1,60.8L75.2,59.7L75.3,59.4L75.4,58.5L75.5,55.6L75.6,60.8L75.7,63.3L75.8,60.4L76.0,62.8L76.1,60.8L76.2,57.3L76.3,57.2L76.4,63.2L76.5,63.8L76.6,60.3L76.7,56.3L76.8,58.1L76.9,59.2L77.0,58.2L77.2,61.8L77.3,62.5L77.4,58.9L77.5,55.9L77.6,61.1L77.7,61.7L77.8,59.6L77.9,58.8L78.0,56.3L78.1,58.1L78.2,60.9L78.3,60.9L78.5,60.2L78.6,61.4L78.7,60.1L78.8,56.6L78.9,57.6L79.0,61.6L79.1,61.2L79.2,58.9L79.3,62.2L79.4,63.4L79.5,60.1L79.7,53.6L79.8,56.2L79.9,60.3L80.0,60.5L80.1,60.9L80.2,62.6L80.3,57.4L80.4,57.0L80.5,59.3L80.6,59.1L80.7,60.7L80.9,60.9L81.0,54.8L81.1,56.8L81.2,62.8L81.3,61.4L81.4,58.5L81.5,59.5L81.6,57.6L81.7,57.2L81.8,58.5L81.9,63.8L82.0,66.1L82.2,60.7L82.3,57.2L82.4,61.1L82.5,59.9L82.6,55.1L82.7,59.4L82.8,61.8L82.9,60.6L83.0,62.0L83.1,59.6L83.2,56.3L83.4,58.1L83.5,58.5L83.6,58.7L83.7,62.1L83.8,61.4L83.9,57.8L84.0,55.4L84.1,60.3L84.2,61.9L84.3,60.2L84.4,57.8L84.6,58.6L84.7,59.2L84.8,58.2L84.9,62.4L85.0,63.5L85.1,58.7L85.2,57.1L85.3,59.0L85.4,60.6L85.5,61.0L85.6,62.4L85.7,57.8L85.9,57.7L86.0,61.0L86.1,57.4L86.2,57.7L86.3,62.1L86.4,61.6L86.5,57.6L86.6,59.4L86.7,60.7L86.8,58.8L86.9,56.8L87.1,59.0L87.2,63.6L87.3,60.0L87.4,54.7L87.5,55.6L87.6,58.6L87.7,59.2L87.8,63.3L87.9,64.0L88.0,58.6L88.1,57.3L88.2,57.8L88.4,59.0L88.5,63.6L88.6,62.5L88.7,55.7L88.8,55.3L88.9,61.7L89.0,60.7L89.1,60.1L89.2,60.3L89.3,59.5L89.4,56.7L89.6,56.5L89.7,61.1L89.8,63.6L89.9,58.6L90.0,57.7L90.1,60.0L90.2,58.1L90.3,55.3L90.4,58.3L90.5,58.9L90.6,60.3L90.8,61.3L90.9,60.3L91.0,57.2L91.1,59.7L91.2,58.2L91.3,57.6L91.4,63.2L91.5,63.2L91.6,58.7L91.7,57.3L91.8,60.0L91.9,61.0L92.1,59.4L92.2,58.4L92.3,58.3L92.4,58.0L92.5,58.3L92.6,61.8L92.7,62.9L92.8,60.1L92.9,57.4L93.0,56.5L93.1,57.4L93.3,59.8L93.4,62.5L93.5,58.5L93.6,58.6L93.7,60.4L93.8,58.7L93.9,57.3L94.0,61.2L94.1,60.5L94.2,58.7L94.3,60.4L94.4,62.3L94.6,60.6L94.7,56.8L94.8,58.4L94.9,61.8L95.0,59.9L95.1,57.5L95.2,59.5L95.3,59.3L95.4,58.3L95.5,60.6L95.6,62.7L95.8,58.6L95.9,58.6L96.0,57.0L96.1,57.7L96.2,63.1L96.3,62.7L96.4,57.6L96.5,57.3L96.6,59.0L96.7,58.5L96.8,59.8L97.0,61.7L97.1,60.2L97.2,57.8L97.3,56.5L97.4,60.0L97.5,62.4L97.6,58.5L97.7,59.3L97.8,61.0L97.9,58.2L98.0,58.0L98.1,59.4L98.3,58.4L98.4,60.0L98.5,63.0L98.6,59.7L98.7,59.4L98.8,61.0L98.9,57.2L99.0,56.4L99.1,62.8L99.2,63.2L99.3,58.3L99.5,55.3L99.6,57.7L99.7,60.7L99.8,59.5L99.9,58.4L100.0,61.0L100.1,57.6L100.2,57.2L100.3,61.2L100.4,64.0L100.5,61.4L100.6,57.5L100.8,56.8L100.9,55.2L101.0,59.9L101.1,61.4L101.2,59.5L101.3,60.7L101.4,62.7L101.5,57.1L101.6,57.9L101.7,60.9L101.8,59.3L102.0,58.5L102.1,61.4L102.2,63.4L102.3,61.1L102.4,56.2L102.5,56.8L102.6,60.5L102.7,59.4L102.8,57.7L102.9,59.4L103.0,59.4L103.2,58.5L103.3,61.7L103.4,63.1L103.5,60.0L103.6,59.3L103.7,54.1L103.8,54.2L103.9,64.3L104.0,65.1L104.1,58.2L104.2,58.6L104.3,58.3L104.5,56.8L104.6,58.5L104.7,62.1L104.8,63.7L104.9,60.6L105.0,57.1L105.1,60.5L105.2,61.0L105.3,57.8L105.4,57.7L105.5,59.9L105.7,58.8L105.8,59.7L105.9,59.0L106.0,58.1L106.1,60.0L106.2,61.4L106.3,57.8L106.4,58.8L106.5,61.9L106.6,57.2L106.7,55.6L106.8,61.7L107.0,62.7L107.1,58.0L107.2,55.9L107.3,57.9L107.4,58.7L107.5,59.8L107.6,61.6L107.7,61.7L107.8,59.0L107.9,56.2L108.0,59.0L108.2,62.2L108.3,60.9L108.4,61.0L108.5,57.9L108.6,56.2L108.7,59.9L108.8,60.3L108.9,58.8L109.0,61.3L109.1,61.4L109.2,57.2L109.4,59.1L109.5,60.9L109.6,59.8L109.7,58.3L109.8,59.5L109.9,61.1L110.0,60.3L110.1,58.9L110.2,58.5L110.3,59.5L110.4,59.4L110.5,59.9L110.7,60.1L110.8,59.2L110.9,59.1L111.0,60.3L111.1,60.7L111.2,61.0L111.3,61.4L111.4,56.6L111.5,56.2L111.6,61.1L111.7,61.8L111.9,60.6L112.0,60.3L112.1,59.7L112.2,57.5L112.3,58.2L112.4,60.1L112.5,61.7L112.6,60.5L112.7,58.4L112.8,59.5L112.9,59.5L113.0,58.1L113.2,58.8L113.3,59.1L113.4,58.5L113.5,60.9L113.6,60.0L113.7,59.0L113.8,60.1L113.9,60.9L114.0,57.7L114.1,59.9L114.2,60.9L114.4,57.4L114.5,57.3L114.6,60.9L114.7,62.2L114.8,59.5L114.9,57.4L115.0,57.3L115.1,57.8L115.2,58.8L115.3,61.1L115.4,63.0L115.6,60.9L115.7,57.0L115.8,57.9L115.9,58.6L116.0,60.8L116.1,60.6L116.2,59.0L116.3,57.7L116.4,60.7L116.5,59.8L116.6,58.5L116.7,61.3L116.9,60.7L117.0,57.4L117.1,58.3L117.2,61.0L117.3,59.6L117.4,58.8L117.5,58.7L117.6,60.4L117.7,59.6L117.8,57.4L117.9,57.3L118.1,59.9L118.2,59.3L118.3,60.3L118.4,61.2L118.5,59.2L118.6,59.1L118.7,58.6L118.8,58.8L118.9,61.1L119.0,61.0L119.1,57.1L119.2,56.0L119.4,59.8L119.5,59.8L119.6,59.3L119.7,60.9L119.8,60.4L119.9,58.6L120.0,57.6L120.1,59.8L120.2,61.5L120.3,59.8L120.4,59.4L120.6,58.7L120.7,60.1L120.8,59.3L120.9,58.6L121.0,59.0L121.1,58.8L121.2,60.3L121.3,60.0L121.4,58.4L121.5,60.6L121.6,60.5L121.8,58.0L121.9,59.6L122.0,60.6L122.1,57.7L122.2,57.5L122.3,59.3L122.4,61.0L122.5,60.6L122.6,59.2L122.7,58.5L122.8,58.1L122.9,58.3L123.1,60.2L123.2,62.0L123.3,60.9L123.4,59.3L123.5,58.0L123.6,57.5L123.7,59.7L123.8,61.3L123.9,58.9L124.0,59.1L124.1,61.3L124.3,59.9L124.4,58.2L124.5,61.1L124.6,60.4L124.7,57.0L124.8,58.4L124.9,61.1L125.0,60.0L125.1,59.2L125.2,60.1L125.3,60.0L125.5,60.1L125.6,57.6L125.7,57.8L125.8,58.4L125.9,59.6L126.0,61.8L126.1,61.9L126.2,59.7L126.3,58.8L126.4,57.0L126.5,56.4L126.6,60.8L126.8,63.0L126.9,59.2L127.0,57.8L127.1,60.1L127.2,59.6L127.3,58.5L127.4,60.9L127.5,60.8L127.6,58.5L127.7,57.8L127.8,59.8L128.0,61.2L128.1,60.2L128.2,58.2L128.3,58.8L128.4,59.1L128.5,58.9L128.6,59.1L128.7,59.0L128.8,59.7L128.9,60.8L129.0,58.3L129.1,58.7L129.3,60.4L129.4,59.4L129.5,57.5L129.6,61.6L129.7,61.7L129.8,58.4L129.9,57.1L130.0,59.2L130.1,61.0L130.2,61.0L130.3,60.3L130.5,60.0L130.6,58.7L130.7,57.6L130.8,58.7L130.9,62.1L131.0,61.8L131.1,59.2L131.2,56.9L131.3,56.9L131.4,59.6L131.5,60.8L131.7,58.9L131.8,59.3L131.9,61.2L132.0,59.2L132.1,58.1L132.2,61.5L132.3,59.7L132.4,58.5L132.5,59.0L132.6,59.6L132.7,59.8L132.8,59.6L133.0,59.4L133.1,60.2L133.2,60.5L133.3,59.4L133.4,58.7L133.5,59.3L133.6,59.1L133.7,60.7L133.8,60.7L133.9,60.3L134.0,59.7L134.2,57.4L134.3,55.9L134.4,59.7L134.5,62.1L134.6,59.1L134.7,58.4L134.8,60.7L134.9,59.0L135.0,58.9L135.1,60.8L135.2,60.4L135.3,58.5L135.5,57.5L135.6,58.8L135.7,61.5L135.8,61.5L135.9,59.2L136.0,58.1L136.1,58.4L136.2,58.8L136.3,60.1L136.4,59.7L136.5,60.8L136.7,62.7L136.8,59.8L136.9,58.0L137.0,61.0L137.1,57.9L137.2,55.8L137.3,60.5L137.4,62.8L137.5,59.5L137.6,58.0L137.7,58.3L137.9,58.7L138.0,59.8L138.1,60.4L138.2,61.0L138.3,59.7L138.4,57.8L138.5,58.7L138.6,60.6L138.7,60.8L138.8,59.4L138.9,58.7L139.0,58.0L139.2,59.7L139.3,61.0L139.4,59.5L139.5,60.2L139.6,60.6L139.7,58.1L139.8,58.3L139.9,61.1L140.0,60.8L140.1,58.8L140.2,59.1L140.4,59.3L140.5,59.2L140.6,59.0L140.7,59.0L140.8,59.8L140.9,60.2L141.0,60.1L141.1,59.6L141.2,59.2L141.3,58.4L141.4,59.3L141.5,59.4L141.7,59.8L141.8,60.4L141.9,57.8L142.0,56.5L142.1,59.9L142.2,61.3L142.3,59.9L142.4,60.1L142.5,60.0L142.6,58.5L142.7,59.3L142.9,60.3L143.0,60.4L143.1,58.9L143.2,58.2L143.3,58.7L143.4,60.6L143.5,60.4L143.6,60.1L143.7,59.0L143.8,58.3L143.9,58.9L144.1,59.2L144.2,59.2L144.3,60.1L144.4,60.5L144.5,59.3L144.6,58.8L144.7,60.8L144.8,57.7L144.9,56.9L145.0,60.1L145.1,61.0L145.2,60.3L145.4,59.9L145.5,59.4L145.6,59.0L145.7,59.6L145.8,59.6L145.9,60.5L146.0,60.3L146.1,58.8L146.2,58.4L146.3,59.1L146.4,60.4L146.6,60.7L146.7,57.9L146.8,57.2L146.9,60.0L147.0,60.5L147.1,59.4L147.2,60.7L147.3,61.6L147.4,57.7L147.5,57.1L147.6,59.8L147.7,59.7L147.9,59.5L148.0,59.8L148.1,59.7L148.2,59.7L148.3,59.3L148.4,58.5L148.5,58.4L148.6,59.3L148.7,59.8L148.8,59.5L148.9,59.9L149.1,59.2L149.2,59.4L149.3,58.6L149.4,59.8L149.5,60.4L149.6,59.4L149.7,58.1L149.8,59.6L149.9,59.7L150.0,59.6L150.1,60.0L150.3,60.0L150.4,58.2L150.5,58.9L150.6,59.4L150.7,60.1L150.8,60.4L150.9,58.6L151.0,58.4L151.1,59.1L151.2,59.3L151.3,59.5L151.4,59.7L151.6,58.9L151.7,60.2L151.8,59.1L151.9,58.9L152.0,60.1L152.1,60.3L152.2,58.2L152.3,59.4L152.4,61.2L152.5,58.7L152.6,57.4L152.8,59.3L152.9,60.3L153.0,60.3L153.1,60.5L153.2,59.6L153.3,58.6L153.4,58.8L153.5,59.7L153.6,60.2L153.7,60.1L153.8,58.6L153.9,58.0L154.1,58.3L154.2,60.0L154.3,60.9L154.4,59.0L154.5,57.4L154.6,59.4L154.7,59.9L154.8,59.8L154.9,61.5L155.0,61.8L155.1,58.0L155.3,57.8L155.4,58.9L155.5,59.5L155.6,59.9L155.7,59.7L155.8,60.3L155.9,60.9L156.0,60.1L156.1,58.7L156.2,59.2L156.3,59.4L156.5,59.6L156.6,60.4L156.7,60.5L156.8,60.0L156.9,58.6L157.0,57.3L157.1,59.7L157.2,60.8L157.3,58.8L157.4,57.5L157.5,60.3L157.6,60.2L157.8,59.7L157.9,61.3L158.0,59.9L158.1,58.5L158.2,57.7L158.3,59.0L158.4,60.4L158.5,60.8L158.6,59.8L158.7,58.6L158.8,59.4L159.0,59.5L159.1,60.1L159.2,59.4L159.3,59.4L159.4,60.9L159.5,59.8L159.6,59.2L159.7,60.4L159.8,59.6L159.9,58.3L160.0,59.6L160.1,60.8L160.3,59.7L160.4,59.1L160.5,59.7L160.6,60.0L160.7,59.7L160.8,60.0L160.9,59.5L161.0,59.1L161.1,59.0L161.2,59.0L161.3,60.1L161.5,60.8L161.6,59.4L161.7,58.7L161.8,58.2L161.9,60.4L162.0,61.5L162.1,60.2L162.2,59.1L162.3,60.4L162.4,59.0L162.5,58.3L162.7,61.0L162.8,61.3L162.9,58.5L163.0,58.5L163.1,59.3L163.2,59.3L163.3,59.2L163.4,59.5L163.5,60.1L163.6,60.5L163.7,59.9L163.8,59.0L164.0,59.2L164.1,58.8L164.2,59.6L164.3,59.8L164.4,59.9L164.5,60.3L164.6,59.6L164.7,57.4L164.8,59.5L164.9,61.8L165.0,59.0L165.2,58.2L165.3,60.1L165.4,59.3L165.5,59.9L165.6,62.3L165.7,61.0L165.8,58.6L165.9,58.0L166.0,57.5L166.1,59.5L166.2,61.9L166.4,60.4L166.5,59.0L166.6,59.3L166.7,59.2L166.8,58.7L166.9,58.8L167.0,59.6L167.1,60.8L167.2,59.0L167.3,58.7L167.4,60.5L167.5,59.5L167.7,57.1L167.8,59.0L167.9,61.3L168.0,59.8L168.1,59.5L168.2,60.1L168.3,59.7L168.4,60.6L168.5,60.6L168.6,59.2L168.7,58.7L168.9,58.7L169.0,58.2L169.1,60.1L169.2,61.7L169.3,60.4L169.4,57.9L169.5,56.6L169.6,58.9L169.7,60.5L169.8,59.7L169.9,59.8L170.0,60.9L170.2,58.9L170.3,57.7L170.4,59.8L170.5,60.0L170.6,58.7L170.7,58.7L170.8,59.4L170.9,59.9L171.0,60.3L171.1,59.8L171.2,59.3L171.4,59.9L171.5,59.6L171.6,59.4L171.7,59.4L171.8,59.6L171.9,59.7L172.0,59.6L172.1,59.7L172.2,60.3L172.3,58.7L172.4,57.5L172.6,59.4L172.7,61.3L172.8,60.0L172.9,59.1L173.0,59.8L173.1,58.6L173.2,58.8L173.3,60.4L173.4,60.4L173.5,59.7L173.6,59.1L173.7,57.7L173.9,58.9L174.0,60.9L174.1,60.1L174.2,59.7L174.3,59.5L174.4,59.8L174.5,59.5L174.6,59.2L174.7,60.2L174.8,60.7L174.9,59.2L175.1,58.9L175.2,60.6L175.3,59.9L175.4,57.8L175.5,59.3L175.6,60.2L175.7,59.6L175.8,59.2L175.9,59.1L176.0,59.3L176.1,59.8L176.2,60.0L176.4,59.7L176.5,58.7L176.6,59.0L176.7,58.0L176.8,59.3L176.9,61.2L177.0,61.0L177.1,59.2L177.2,57.9L177.3,58.9L177.4,60.1L177.6,59.3L177.7,61.0L177.8,61.0L177.9,59.2L178.0,58.2L178.1,60.0L178.2,59.6L178.3,59.1L178.4,59.5L178.5,59.6L178.6,59.5L178.8,60.9L178.9,59.8L179.0,58.9L179.1,59.9L179.2,59.4L179.3,58.9L179.4,59.4L179.5,60.1L179.6,60.1L179.7,59.3L179.8,59.7L179.9,60.9L180.1,58.8L180.2,56.7L180.3,59.3L180.4,61.1L180.5,60.3L180.6,60.6L180.7,60.4L180.8,58.3L180.9,58.3L181.0,59.7L181.1,60.2L181.3,60.5L181.4,60.5L181.5,58.1L181.6,58.9L181.7,60.5L181.8,60.0L181.9,59.2L182.0,59.0L182.1,59.9L182.2,59.4L182.3,59.1L182.4,60.3L182.6,60.1L182.7,58.3L182.8,58.2L182.9,59.9L183.0,59.3L183.1,58.0L183.2,59.6L183.3,60.3L183.4,59.8L183.5,60.0L183.6,59.5L183.8,58.6L183.9,59.4L184.0,59.6L184.1,59.4L184.2,60.2L184.3,59.3L184.4,58.3L184.5,58.7L184.6,60.3L184.7,61.3L184.8,59.2L185.0,58.9L185.1,58.9L185.2,59.6L185.3,58.4L185.4,60.4L185.5,60.6L185.6,58.4L185.7,58.3L185.8,59.5L185.9,59.9L186.0,59.2L186.1,59.5L186.3,59.0L186.4,59.8L186.5,60.0L186.6,59.9L186.7,59.4L186.8,59.8L186.9,59.8L187.0,59.1L187.1,59.5L187.2,59.6L187.3,59.4L187.5,59.3L187.6,59.7L187.7,60.8L187.8,59.5L187.9,58.1L188.0,59.0L188.1,59.6L188.2,59.6L188.3,60.2L188.4,60.4L188.5,58.9L188.6,58.2L188.8,59.0L188.9,59.0L189.0,60.4L189.1,59.7L189.2,59.3L189.3,59.2L189.4,59.9L189.5,59.9L189.6,59.1L189.7,59.1L189.8,59.8L190.0,59.4L190.1,59.0L190.2,60.5L190.3,60.8L190.4,59.0L190.5,58.9L190.6,60.0L190.7,59.5L190.8,58.4L190.9,59.9L191.0,60.2L191.2,60.3L191.3,60.5L191.4,59.0L191.5,57.8L191.6,59.0L191.7,58.8L191.8,59.4L191.9,61.1L192.0,60.7L192.1,58.1L192.2,57.8L192.3,59.4L192.5,61.0L192.6,59.8L192.7,59.2L192.8,59.7L192.9,59.4L193.0,58.0L193.1,60.3L193.2,61.4L193.3,58.6L193.4,57.9L193.5,59.0L193.7,59.5L193.8,60.9L193.9,60.7L194.0,59.3L194.1,59.8L194.2,60.3L194.3,58.6L194.4,59.1L194.5,60.1L194.6,59.5L194.7,59.1L194.8,59.5L195.0,59.7L195.1,58.9L195.2,58.2L195.3,59.5L195.4,61.5L195.5,59.9L195.6,58.5L195.7,59.0L195.8,59.4L195.9,59.0L196.0,61.3L196.2,61.0L196.3,58.8L196.4,58.4L196.5,58.1L196.6,58.9L196.7,61.0L196.8,60.8L196.9,58.9L197.0,58.9L197.1,60.2L197.2,59.9L197.4,59.9L197.5,60.0L197.6,59.8L197.7,58.9L197.8,58.5L197.9,59.9L198.0,60.1L198.1,59.2L198.2,58.9L198.3,59.9L198.4,59.4L198.5,58.9L198.7,59.9L198.8,59.7L198.9,60.2L199.0,61.4L199.1,59.4L199.2,58.6L199.3,58.9L199.4,58.4L199.5,58.7L199.6,60.8L199.7,61.2L199.9,59.0L200.0,58.8L200.1,59.2L200.2,60.7L200.3,59.5L200.4,59.6L200.5,60.1L200.6,58.8L200.7,58.7L200.8,60.4L200.9,60.5L201.0,58.9L201.2,58.5L201.3,58.4L201.4,59.0L201.5,60.4L201.6,60.7L201.7,59.4L201.8,60.1L201.9,59.5L202.0,58.1L202.1,58.9L202.2,60.0L202.4,59.4L202.5,59.0L202.6,59.9L202.7,61.0L202.8,59.5L202.9,57.8L203.0,59.0L203.1,61.1L203.2,60.4L203.3,59.5L203.4,60.1L203.6,58.9L203.7,58.6L203.8,60.2L203.9,60.1L204.0,59.5L204.1,59.1L204.2,58.1L204.3,59.2L204.4,61.0L204.5,61.0L204.6,59.0L204.7,58.7L204.9,59.3L205.0,58.7L205.1,59.3L205.2,59.9L205.3,60.2L205.4,58.8L205.5,58.6L205.6,59.9L205.7,60.4L205.8,59.0L205.9,59.3L206.1,60.4L206.2,59.6L206.3,59.8L206.4,59.8L206.5,59.0L206.6,60.1L206.7,60.2L206.8,59.4L206.9,59.1L207.0,60.2L207.1,57.9L207.3,58.7L207.4,61.1L207.5,61.1L207.6,59.9L207.7,58.5L207.8,58.8L207.9,59.8L208.0,59.1L208.1,59.4L208.2,60.0L208.3,58.4L208.4,57.5L208.6,60.1L208.7,60.8L208.8,59.9L208.9,59.4L209.0,58.4L209.1,58.6L209.2,60.5L209.3,60.4L209.4,59.8L209.5,60.7L209.6,60.4L209.8,58.4L209.9,58.5L210.0,59.5L210.1,59.7L210.2,59.2L210.3,60.3L210.4,61.0L210.5,59.8L210.6,57.7L210.7,58.8L210.8,60.1L210.9,59.6L211.1,59.9L211.2,60.3L211.3,58.8L211.4,58.9L211.5,59.3L211.6,59.6L211.7,59.4L211.8,59.2L211.9,58.2L212.0,58.3L212.1,60.9L212.3,61.4L212.4,59.3L212.5,59.5L212.6,58.8L212.7,58.5L212.8,58.9L212.9,60.2L213.0,60.7L213.1,59.5L213.2,58.8L213.3,60.2L213.5,59.8L213.6,59.0L213.7,59.4L213.8,60.0L213.9,59.6L214.0,59.9L214.1,59.9L214.2,58.7L214.3,59.4L214.4,60.0L214.5,58.9L214.6,59.3L214.8,59.8L214.9,58.2L215.0,58.5L215.1,60.2L215.2,60.7L215.3,59.5L215.4,58.6L215.5,58.4L215.6,59.5L215.7,59.6L215.8,60.2L216.0,60.9L216.1,58.6L216.2,57.9L216.3,59.3L216.4,60.2L216.5,60.3L216.6,60.5L216.7,59.1L216.8,58.5L216.9,60.2L217.0,59.8L217.1,59.1L217.3,60.5L217.4,59.9L217.5,58.6L217.6,58.6L217.7,59.7L217.8,59.2L217.9,58.9L218.0,59.5L218.1,60.8L218.2,60.1L218.3,58.7L218.5,58.8L218.6,59.6L218.7,59.1L218.8,59.9L218.9,60.6L219.0,59.3L219.1,58.8L219.2,59.3L219.3,59.2L219.4,60.3L219.5,60.7L219.7,58.0L219.8,57.9L219.9,60.5L220.0,60.7L220.1,60.1L220.2,59.9L220.3,59.4L220.4,57.6L220.5,57.9L220.6,59.9L220.7,61.1L220.8,59.7L221.0,58.8L221.1,59.8L221.2,59.9L221.3,58.7L221.4,59.2L221.5,59.8L221.6,59.3L221.7,61.0L221.8,59.9L221.9,58.8L222.0,59.6L222.2,59.4L222.3,58.1L222.4,60.1L222.5,60.9L222.6,58.8L222.7,58.8L222.8,60.4L222.9,61.3L223.0,59.9L223.1,59.0L223.2,58.8L223.3,58.7L223.5,58.7L223.6,60.4L223.7,61.7L223.8,59.9L223.9,58.0L224.0,58.1L224.1,58.8L224.2,60.3L224.3,61.2L224.4,59.8L224.5,59.2L224.7,60.2L224.8,58.9L224.9,58.5L225.0,60.3L225.1,59.9L225.2,58.0L225.3,59.6L225.4,60.5L225.5,59.6L225.6,58.4L225.7,59.2L225.9,60.8L226.0,60.2L226.1,58.5L226.2,59.1L226.3,59.5L226.4,59.1L226.5,60.2L226.6,60.2L226.7,59.1L226.8,58.7L226.9,58.5L227.0,58.8L227.2,60.9L227.3,61.3L227.4,58.3L227.5,57.9L227.6,59.7L227.7,59.8L227.8,59.4L227.9,60.1L228.0,59.6L228.1,58.4L228.2,58.0L228.4,59.3L228.5,61.0L228.6,59.9L228.7,58.8L228.8,59.6L228.9,59.9L229.0,58.8L229.1,59.2L229.2,59.0L229.3,59.6L229.4,60.6L229.5,59.6L229.7,58.2L229.8,59.9L229.9,58.9L230.0,57.9L230.1,60.4L230.2,61.4L230.3,58.6L230.4,58.2L230.5,59.7L230.6,59.9L230.7,59.9L230.9,59.4L231.0,58.8L231.1,58.7L231.2,58.0L231.3,59.9L231.4,61.4L231.5,60.5L231.6,58.7L231.7,58.8L231.8,58.7L231.9,60.2L232.1,60.7L232.2,59.4L232.3,60.2L232.4,60.4L232.5,58.7L232.6,58.8L232.7,59.6L232.8,59.6L232.9,58.3L233.0,59.5L233.1,60.5L233.2,59.8L233.4,59.5L233.5,59.4L233.6,60.1L233.7,59.6L233.8,58.7L233.9,59.1L234.0,58.9L234.1,59.2L234.2,60.4L234.3,60.5L234.4,59.5L234.6,59.2L234.7,58.3L234.8,58.1L234.9,60.7L235.0,61.8L235.1,59.8L235.2,59.1L235.3,59.5L235.4,58.8L235.5,58.9L235.6,60.1L235.7,60.3L235.9,58.9L236.0,58.5L236.1,59.7L236.2,60.7L236.3,59.8L236.4,58.9L236.5,59.3L236.6,59.1L236.7,59.5L236.8,59.9L236.9,59.2L237.1,59.6L237.2,60.3L237.3,58.7L237.4,58.8L237.5,60.0L237.6,58.7L237.7,58.5L237.8,60.3L237.9,61.0L238.0,59.6L238.1,58.7L238.3,59.0L238.4,59.5L238.5,60.0L238.6,59.9L238.7,60.1L238.8,58.9L238.9,58.3L239.0,59.5L239.1,60.4L239.2,60.1L239.3,59.6L239.4,58.7L239.6,58.8L239.7,59.7L239.8,60.2L239.9,58.7L240.0,59.7L240.1,60.7L240.2,58.7L240.3,58.7L240.4,59.8L240.5,59.4L240.6,58.6L240.8,59.2L240.9,60.2L241.0,60.1L241.1,59.7L241.2,59.4L241.3,60.2L241.4,59.3L241.5,59.2L241.6,59.5L241.7,59.2L241.8,59.1L241.9,60.0L242.1,60.3L242.2,60.2L242.3,60.1L242.4,58.1L242.5,58.0L242.6,60.3L242.7,60.9L242.8,59.9L242.9,59.6L243.0,59.3L243.1,58.8L243.3,58.6L243.4,59.9L243.5,60.0L243.6,59.5L243.7,59.4L243.8,59.5L243.9,60.4L244.0,59.6L244.1,59.4L244.2,59.5L244.3,58.8L244.5,59.7L244.6,59.8L244.7,59.4L244.8,60.0L244.9,60.5L245.0,58.9L245.1,59.2L245.2,59.9L245.3,59.0L245.4,58.7L245.5,60.0L245.6,60.7L245.8,59.9L245.9,59.4L246.0,58.5L246.1,59.2L246.2,59.4L246.3,59.8L246.4,60.1L246.5,59.7L246.6,58.8L246.7,59.0L246.8,60.2L247.0,60.2L247.1,60.1L247.2,59.3L247.3,58.6L247.4,60.0L247.5,60.0L247.6,58.9L247.7,59.8L247.8,60.0L247.9,58.2L248.0,58.4L248.2,60.4L248.3,60.3L248.4,59.5L248.5,59.9L248.6,60.3L248.7,60.0L248.8,59.1L248.9,58.5L249.0,59.8L249.1,59.6L249.2,59.9L249.3,59.6L249.5,58.6L249.6,58.7L249.7,59.0L249.8,59.4L249.9,60.7L250.0,61.1L250.1,58.3L250.2,57.5L250.3,59.4L250.4,60.8L250.5,59.4L250.7,59.9L250.8,59.7L250.9,58.6L251.0,58.9L251.1,59.6L251.2,60.3L251.3,59.8L251.4,59.1L251.5,59.4L251.6,60.4L251.7,59.7L251.8,59.8L252.0,59.6L252.1,59.1L252.2,59.3L252.3,59.0L252.4,58.8L252.5,60.1L252.6,60.0L252.7,58.6L252.8,59.5L252.9,60.4L253.0,58.7L253.2,58.3L253.3,60.1L253.4,61.0L253.5,60.1L253.6,59.7L253.7,59.0L253.8,58.9L253.9,58.9L254.0,59.3L254.1,60.5L254.2,59.9L254.4,59.1L254.5,59.1L254.6,59.4L254.7,60.1L254.8,60.5L254.9,59.1L255.0,58.5L255.1,60.1L255.2,59.8L255.3,58.9L255.4,60.7L255.5,60.0L255.7,57.7L255.8,58.4L255.9,60.0L256.0,60.1L256.1,59.6L256.2,60.1L256.3,59.5L256.4,59.5L256.5,59.0L256.6,58.6L256.7,59.2L256.9,59.6L257.0,60.2L257.1,60.5L257.2,59.2L257.3,59.2L257.4,59.1L257.5,58.5L257.6,60.1L257.7,61.1L257.8,59.1L257.9,58.3L258.0,60.3L258.2,60.0L258.3,59.6L258.4,60.0L258.5,59.7L258.6,58.8L258.7,58.8L258.8,59.3L258.9,60.4L259.0,60.3L259.1,59.4L259.2,58.9L259.4,59.8L259.5,59.3L259.6,59.5L259.7,59.4L259.8,59.3L259.9,60.0L260.0,59.3L260.1,58.3L260.2,59.9L260.3,59.7L260.4,58.5L260.6,59.6L260.7,60.7L260.8,58.8L260.9,58.4L261.0,59.0L261.1,59.5L261.2,61.0L261.3,61.3L261.4,58.0L261.5,57.0L261.6,60.7L261.7,58.3L261.9,60.5L262.0,58.2L262.1,61.2L262.2,62.6L262.3,55.7L262.4,57.3" stroke="#ff0000" stroke-width="0.8" stroke-dasharray="2 5.5"/>
</g>
<rect x="23.2" y="9.3" width="239.2" height="100.4" fill="none" stroke="#666" stroke-width="0.7"/>
<path d="M23.20,109.7v-2.4M23.20,9.3v2.4M47.12,109.7v-2.4M47.12,9.3v2.4M71.04,109.7v-2.4M71.04,9.3v2.4M94.96,109.7v-2.4M94.96,9.3v2.4M118.88,109.7v-2.4M118.88,9.3v2.4M142.80,109.7v-2.4M142.80,9.3v2.4M166.72,109.7v-2.4M166.72,9.3v2.4M190.64,109.7v-2.4M190.64,9.3v2.4M214.56,109.7v-2.4M214.56,9.3v2.4M238.48,109.7v-2.4M238.48,9.3v2.4M262.40,109.7v-2.4M262.40,9.3v2.4M23.2,102.53h2.4M262.4,102.53h-2.4M23.2,88.19h2.4M262.4,88.19h-2.4M23.2,73.84h2.4M262.4,73.84h-2.4M23.2,59.50h2.4M262.4,59.50h-2.4M23.2,45.16h2.4M262.4,45.16h-2.4M23.2,30.81h2.4M262.4,30.81h-2.4M23.2,16.47h2.4M262.4,16.47h-2.4" stroke="#555" stroke-width="0.6" fill="none"/>
<path d="M23.9,60V109.7" stroke="#0000ff" stroke-width="1.5" fill="none"/><path d="M24.6,27V92" stroke="#ff0000" stroke-width="0.8" stroke-dasharray="4 3" fill="none"/><path d="M23.8,9.3V36" stroke="#0a8a0a" stroke-width="1.4" fill="none"/>
<text class="tk" x="23.2" y="119.2" text-anchor="middle">0</text>
<text class="tk" x="47.1" y="119.2" text-anchor="middle">0.1</text>
<text class="tk" x="71.0" y="119.2" text-anchor="middle">0.2</text>
<text class="tk" x="95.0" y="119.2" text-anchor="middle">0.3</text>
<text class="tk" x="118.9" y="119.2" text-anchor="middle">0.4</text>
<text class="tk" x="142.8" y="119.2" text-anchor="middle">0.5</text>
<text class="tk" x="166.7" y="119.2" text-anchor="middle">0.6</text>
<text class="tk" x="190.6" y="119.2" text-anchor="middle">0.7</text>
<text class="tk" x="214.6" y="119.2" text-anchor="middle">0.8</text>
<text class="tk" x="238.5" y="119.2" text-anchor="middle">0.9</text>
<text class="tk" x="262.4" y="119.2" text-anchor="middle">1</text>
<text class="tk" x="21" y="105.1" text-anchor="end">-6</text>
<text class="tk" x="21" y="90.8" text-anchor="end">-4</text>
<text class="tk" x="21" y="76.4" text-anchor="end">-2</text>
<text class="tk" x="21" y="62.1" text-anchor="end">0</text>
<text class="tk" x="21" y="47.8" text-anchor="end">2</text>
<text class="tk" x="21" y="33.4" text-anchor="end">4</text>
<text class="tk" x="21" y="19.1" text-anchor="end">6</text>
<text class="ax" x="143" y="130.8" text-anchor="middle">t (s)</text>
<text x="10.4" y="59.4" text-anchor="middle" transform="rotate(-90 10.4 59.4)" style="font-family:'Liberation Serif',serif;font-style:italic;font-weight:normal;font-size:11.2px;letter-spacing:0.8px;fill:#444">ü(t)</text>
<rect x="70.8" y="48.8" width="9.6" height="25.4" fill="none" stroke="#222" stroke-width="1" stroke-dasharray="2.6 1.4"/>
<rect x="121.2" y="13.6" width="136" height="11.3" fill="#fff" stroke="#555" stroke-width="0.6"/>
<path d="M123.4,18.8H137" stroke="#2222ff" stroke-width="1.5"/>
<path d="M168.4,18.8H182" stroke="#1a8c1a" stroke-width="1.4" stroke-dasharray="3 1 1 1"/>
<path d="M214.2,18.8H227.6" stroke="#ff2020" stroke-width="1.4" stroke-dasharray="2.9 2.3"/>
<text class="lg" x="138.6" y="21.6">sensor 1</text>
<text class="lg" x="183.9" y="21.6">sensor 2</text>
<text class="lg" x="228.6" y="21.6">sensor 3</text>
<rect x="169.4" y="65.7" width="85.6" height="32.6" fill="#fff" stroke="#777" stroke-width="0.6"/>
<g fill="none" stroke-linejoin="round"><path d="M169.4,69.1L169.8,70.5L170.2,73.1L170.6,76.7L171.0,81.2L171.4,86.0L171.7,90.7L172.1,94.8L172.5,97.8L172.9,98.3L173.3,98.3L173.7,97.3L174.1,94.0L174.5,89.8L174.9,85.2L175.3,80.6L175.7,76.8L176.0,74.1L176.4,72.8L176.8,72.9L177.2,74.3L177.6,76.6L178.0,79.4L178.4,82.2L178.8,84.4L179.2,85.8L179.6,86.1L180.0,85.2L180.3,83.4L180.7,80.9L181.1,78.2L181.5,75.6L181.9,73.6L182.3,72.4L182.7,72.2L183.1,73.1L183.5,74.9L183.9,77.3L184.3,80.2L184.6,83.1L185.0,85.8L185.4,88.1L185.8,89.8L186.2,91.1L186.6,91.8L187.0,92.1L187.4,92.1L187.8,91.8L188.2,91.3L188.6,90.4L188.9,89.2L189.3,87.5L189.7,85.4L190.1,82.7L190.5,79.6L190.9,76.3L191.3,73.0L191.7,70.1L192.1,67.9L192.5,66.8L192.9,66.9L193.2,68.4L193.6,71.1L194.0,74.8L194.4,79.1L194.8,83.5L195.2,87.5L195.6,90.6L196.0,92.5L196.4,92.9L196.8,91.9L197.2,89.7L197.5,86.8L197.9,83.5L198.3,80.6L198.7,78.3L199.1,77.2L199.5,77.3L199.9,78.7L200.3,81.1L200.7,84.1L201.1,87.3L201.5,90.1L201.8,92.1L202.2,92.8L202.6,92.2L203.0,90.3L203.4,87.3L203.8,83.5L204.2,79.4L204.6,75.4L205.0,72.1L205.4,69.6L205.8,68.3L206.1,68.1L206.5,68.9L206.9,70.6L207.3,72.9L207.7,75.5L208.1,78.2L208.5,80.7L208.9,83.1L209.3,85.2L209.7,87.0L210.1,88.7L210.4,90.2L210.8,91.6L211.2,92.6L211.6,93.3L212.0,93.5L212.4,93.0L212.8,91.7L213.2,89.7L213.6,87.0L214.0,83.7L214.3,80.3L214.7,77.0L215.1,74.2L215.5,72.3L215.9,71.5L216.3,71.8L216.7,73.3L217.1,75.7L217.5,78.6L217.9,81.6L218.3,84.2L218.6,86.0L219.0,86.6L219.4,86.0L219.8,84.3L220.2,81.7L220.6,78.7L221.0,75.8L221.4,73.4L221.8,72.1L222.2,72.2L222.6,73.7L222.9,76.6L223.3,80.6L223.7,85.1L224.1,89.8L224.5,93.8L224.9,96.9L225.3,98.3L225.7,98.3L226.1,97.2L226.5,94.5L226.9,90.7L227.2,86.5L227.6,82.1L228.0,78.2L228.4,74.9L228.8,72.5L229.2,71.1L229.6,70.5L230.0,70.7L230.4,71.4L230.8,72.4L231.2,73.6L231.5,75.0L231.9,76.3L232.3,77.7L232.7,79.2L233.1,80.9L233.5,82.7L233.9,84.6L234.3,86.5L234.7,88.2L235.1,89.6L235.5,90.4L235.8,90.5L236.2,89.8L236.6,88.4L237.0,86.4L237.4,84.2L237.8,82.0L238.2,80.1L238.6,79.0L239.0,78.8L239.4,79.5L239.8,81.1L240.1,83.2L240.5,85.5L240.9,87.6L241.3,89.0L241.7,89.4L242.1,88.5L242.5,86.2L242.9,82.9L243.3,78.7L243.7,74.3L244.1,70.2L244.4,67.0L244.8,65.7L245.2,65.7L245.6,66.3L246.0,69.4L246.4,73.8L246.8,78.9L247.2,84.3L247.6,89.4L248.0,93.5L248.4,96.4L248.7,97.8L249.1,97.8L249.5,96.4L249.9,94.1L250.3,91.1L250.7,87.9L251.1,85.0L251.5,82.4L251.9,80.4L252.3,79.0L252.7,78.2L253.0,77.7L253.4,77.5L253.8,77.4L254.2,77.2L254.6,77.1L255.0,76.9" stroke="#0000ff" stroke-width="1.3"/>
<path d="M169.4,80.6L169.8,77.8L170.2,75.2L170.6,72.8L171.0,70.8L171.4,69.1L171.7,67.9L172.1,67.2L172.5,67.0L172.9,67.4L173.3,68.4L173.7,69.8L174.1,71.7L174.5,74.0L174.9,76.5L175.3,79.1L175.7,81.9L176.0,84.5L176.4,87.0L176.8,89.2L177.2,91.1L177.6,92.6L178.0,93.7L178.4,94.2L178.8,94.3L179.2,93.9L179.6,93.2L180.0,92.0L180.3,90.5L180.7,88.9L181.1,87.1L181.5,85.2L181.9,83.4L182.3,81.7L182.7,80.1L183.1,78.9L183.5,77.8L183.9,77.1L184.3,76.6L184.6,76.5L185.0,76.6L185.4,76.9L185.8,77.4L186.2,77.9L186.6,78.6L187.0,79.2L187.4,79.8L187.8,80.2L188.2,80.6L188.6,80.8L188.9,80.8L189.3,80.7L189.7,80.4L190.1,80.0L190.5,79.6L190.9,79.1L191.3,78.7L191.7,78.4L192.1,78.3L192.5,78.3L192.9,78.5L193.2,79.1L193.6,79.8L194.0,80.8L194.4,82.0L194.8,83.4L195.2,85.0L195.6,86.5L196.0,88.1L196.4,89.6L196.8,90.9L197.2,92.0L197.5,92.7L197.9,93.1L198.3,93.1L198.7,92.6L199.1,91.7L199.5,90.3L199.9,88.6L200.3,86.5L200.7,84.2L201.1,81.7L201.5,79.1L201.8,76.5L202.2,74.1L202.6,71.9L203.0,70.0L203.4,68.6L203.8,67.6L204.2,67.2L204.6,67.3L205.0,67.9L205.4,69.1L205.8,70.8L206.1,72.9L206.5,75.3L206.9,77.9L207.3,80.7L207.7,83.5L208.1,86.2L208.5,88.7L208.9,90.9L209.3,92.8L209.7,94.2L210.1,95.1L210.4,95.4L210.8,95.3L211.2,94.7L211.6,93.7L212.0,92.2L212.4,90.5L212.8,88.5L213.2,86.4L213.6,84.3L214.0,82.2L214.3,80.3L214.7,78.6L215.1,77.1L215.5,75.9L215.9,75.1L216.3,74.7L216.7,74.5L217.1,74.7L217.5,75.1L217.9,75.8L218.3,76.6L218.6,77.5L219.0,78.4L219.4,79.3L219.8,80.1L220.2,80.7L220.6,81.3L221.0,81.6L221.4,81.8L221.8,81.8L222.2,81.6L222.6,81.4L222.9,81.1L223.3,80.8L223.7,80.5L224.1,80.3L224.5,80.3L224.9,80.4L225.3,80.7L225.7,81.3L226.1,82.0L226.5,82.9L226.9,84.0L227.2,85.2L227.6,86.5L228.0,87.8L228.4,89.0L228.8,90.0L229.2,90.8L229.6,91.3L230.0,91.5L230.4,91.4L230.8,90.8L231.2,89.8L231.5,88.5L231.9,86.8L232.3,84.8L232.7,82.6L233.1,80.2L233.5,77.8L233.9,75.5L234.3,73.3L234.7,71.3L235.1,69.7L235.5,68.5L235.8,67.8L236.2,67.6L236.6,68.0L237.0,68.8L237.4,70.2L237.8,72.1L238.2,74.3L238.6,76.8L239.0,79.6L239.4,82.4L239.8,85.2L240.1,87.9L240.5,90.4L240.9,92.5L241.3,94.2L241.7,95.4L242.1,96.1L242.5,96.3L242.9,95.9L243.3,95.1L243.7,93.8L244.1,92.1L244.4,90.0L244.8,87.8L245.2,85.5L245.6,83.1L246.0,80.8L246.4,78.7L246.8,76.8L247.2,75.2L247.6,74.0L248.0,73.2L248.4,72.8L248.7,72.7L249.1,73.0L249.5,73.6L249.9,74.5L250.3,75.6L250.7,76.7L251.1,78.0L251.5,79.2L251.9,80.3L252.3,81.3L252.7,82.2L253.0,82.8L253.4,83.2L253.8,83.4L254.2,83.5L254.6,83.4L255.0,83.1" stroke="#0f8f0f" stroke-width="1.4" stroke-dasharray="3.4 1.2 1.2 1.2"/>
<path d="M169.4,76.7L169.8,74.9L170.2,73.3L170.6,72.0L171.0,71.2L171.4,70.8L171.7,71.0L172.1,71.6L172.5,72.6L172.9,74.0L173.3,75.7L173.7,77.6L174.1,79.6L174.5,81.6L174.9,83.6L175.3,85.4L175.7,87.0L176.0,88.2L176.4,89.2L176.8,89.8L177.2,90.0L177.6,90.0L178.0,89.6L178.4,89.1L178.8,88.3L179.2,87.4L179.6,86.5L180.0,85.5L180.3,84.5L180.7,83.5L181.1,82.6L181.5,81.8L181.9,81.1L182.3,80.4L182.7,79.9L183.1,79.5L183.5,79.1L183.9,78.9L184.3,78.8L184.6,78.7L185.0,78.8L185.4,78.9L185.8,79.1L186.2,79.4L186.6,79.7L187.0,80.0L187.4,80.3L187.8,80.6L188.2,80.8L188.6,81.0L188.9,81.1L189.3,81.1L189.7,81.0L190.1,80.9L190.5,80.7L190.9,80.4L191.3,80.2L191.7,80.1L192.1,80.1L192.5,80.2L192.9,80.5L193.2,80.9L193.6,81.6L194.0,82.5L194.4,83.5L194.8,84.6L195.2,85.8L195.6,87.0L196.0,88.1L196.4,89.1L196.8,89.8L197.2,90.2L197.5,90.3L197.9,89.9L198.3,89.2L198.7,88.1L199.1,86.7L199.5,84.9L199.9,83.0L200.3,80.9L200.7,78.9L201.1,76.9L201.5,75.1L201.8,73.6L202.2,72.5L202.6,71.7L203.0,71.4L203.4,71.5L203.8,72.0L204.2,72.9L204.6,74.1L205.0,75.6L205.4,77.3L205.8,79.1L206.1,81.0L206.5,82.8L206.9,84.5L207.3,86.0L207.7,87.3L208.1,88.4L208.5,89.2L208.9,89.8L209.3,90.1L209.7,90.2L210.1,90.0L210.4,89.6L210.8,89.0L211.2,88.2L211.6,87.2L212.0,86.1L212.4,85.0L212.8,83.8L213.2,82.5L213.6,81.3L214.0,80.2L214.3,79.1L214.7,78.2L215.1,77.5L215.5,76.9L215.9,76.6L216.3,76.5L216.7,76.7L217.1,77.0L217.5,77.6L217.9,78.3L218.3,79.0L218.6,79.8L219.0,80.6L219.4,81.4L219.8,82.0L220.2,82.4L220.6,82.7L221.0,82.8L221.4,82.7L221.8,82.4L222.2,82.0L222.6,81.6L222.9,81.1L223.3,80.7L223.7,80.4L224.1,80.3L224.5,80.4L224.9,80.7L225.3,81.3L225.7,82.1L226.1,83.0L226.5,84.1L226.9,85.3L227.2,86.4L227.6,87.5L228.0,88.4L228.4,89.1L228.8,89.4L229.2,89.4L229.6,89.1L230.0,88.4L230.4,87.4L230.8,86.0L231.2,84.5L231.5,82.8L231.9,81.0L232.3,79.2L232.7,77.5L233.1,76.0L233.5,74.7L233.9,73.7L234.3,72.9L234.7,72.6L235.1,72.5L235.5,72.8L235.8,73.4L236.2,74.3L236.6,75.5L237.0,76.8L237.4,78.2L237.8,79.8L238.2,81.4L238.6,83.0L239.0,84.6L239.4,86.1L239.8,87.5L240.1,88.7L240.5,89.7L240.9,90.4L241.3,90.9L241.7,91.1L242.1,91.0L242.5,90.6L242.9,89.9L243.3,88.9L243.7,87.7L244.1,86.3L244.4,84.7L244.8,83.0L245.2,81.3L245.6,79.7L246.0,78.2L246.4,76.9L246.8,75.9L247.2,75.2L247.6,74.8L248.0,74.8L248.4,75.1L248.7,75.7L249.1,76.5L249.5,77.5L249.9,78.6L250.3,79.8L250.7,80.9L251.1,81.9L251.5,82.7L251.9,83.3L252.3,83.6L252.7,83.7L253.0,83.6L253.4,83.4L253.8,83.0L254.2,82.5L254.6,82.0L255.0,81.5" stroke="#ff0000" stroke-width="1.4" stroke-dasharray="2.4 2"/></g>
<path d="M212.2,98.3v-1.6M212.2,65.7v1.6M169.4,82.0h1.6M255.0,82.0h-1.6" stroke="#555" stroke-width="0.6"/>
<text class="tk ti" x="167.6" y="68.6" text-anchor="end">1</text>
<text class="tk ti" x="167.6" y="84.6" text-anchor="end">0</text>
<text class="tk ti" x="167.6" y="100.4" text-anchor="end">-1</text>
<text class="tk ti" x="169.4" y="107.8" text-anchor="middle">0.2</text>
<text class="tk ti" x="212.2" y="107.8" text-anchor="middle">0.21</text>
<text class="tk ti" x="256" y="107.8" text-anchor="middle">0.22</text>
<text class="cap" x="155.5" y="154.2" text-anchor="middle">(<tspan>a</tspan>)</text>
</g>
<g id="plotB">
<defs><linearGradient id="b0"><stop offset="0.0021" stop-color="#ffc337"/><stop offset="0.0063" stop-color="#ffc337"/><stop offset="0.0104" stop-color="#fdbe3d"/><stop offset="0.0146" stop-color="#ddba54"/><stop offset="0.0187" stop-color="#a8be6a"/><stop offset="0.0229" stop-color="#5fbe88"/><stop offset="0.0271" stop-color="#1cb3af"/><stop offset="0.0312" stop-color="#06a3ca"/><stop offset="0.0354" stop-color="#128cd2"/><stop offset="0.0396" stop-color="#1079da"/><stop offset="0.0437" stop-color="#036be1"/><stop offset="0.0479" stop-color="#125adc"/><stop offset="0.0521" stop-color="#2d49c4"/><stop offset="0.0563" stop-color="#343fb0"/><stop offset="0.0604" stop-color="#353cab"/><stop offset="0.0729" stop-color="#343fb1"/><stop offset="0.0896" stop-color="#343fb1"/><stop offset="0.1021" stop-color="#353baa"/><stop offset="0.1146" stop-color="#343fb0"/><stop offset="0.1313" stop-color="#343eb0"/><stop offset="0.1437" stop-color="#353ba9"/><stop offset="0.1521" stop-color="#353eaf"/><stop offset="0.1688" stop-color="#353eaf"/><stop offset="0.1854" stop-color="#353ba8"/><stop offset="0.1938" stop-color="#353dae"/><stop offset="0.2104" stop-color="#353dae"/><stop offset="0.2229" stop-color="#353ba8"/><stop offset="0.2354" stop-color="#353dad"/><stop offset="0.2521" stop-color="#353dad"/><stop offset="0.2646" stop-color="#363aa7"/><stop offset="0.2771" stop-color="#353cac"/><stop offset="0.2979" stop-color="#353cab"/><stop offset="0.3063" stop-color="#363aa6"/><stop offset="0.3187" stop-color="#353cab"/><stop offset="0.3396" stop-color="#353baa"/><stop offset="0.3479" stop-color="#3639a5"/><stop offset="0.3646" stop-color="#353baa"/><stop offset="0.3812" stop-color="#353ba9"/><stop offset="0.3896" stop-color="#3638a4"/><stop offset="0.3979" stop-color="#353aa8"/><stop offset="0.4188" stop-color="#353ba8"/><stop offset="0.4313" stop-color="#3638a3"/><stop offset="0.4396" stop-color="#363aa7"/><stop offset="0.4604" stop-color="#363aa7"/><stop offset="0.4729" stop-color="#3637a1"/><stop offset="0.4979" stop-color="#3639a6"/><stop offset="0.5146" stop-color="#3637a0"/><stop offset="0.5312" stop-color="#3639a5"/><stop offset="0.5563" stop-color="#36369f"/><stop offset="0.5646" stop-color="#3638a3"/><stop offset="0.5854" stop-color="#3638a3"/><stop offset="0.5979" stop-color="#36369e"/><stop offset="0.6062" stop-color="#3638a2"/><stop offset="0.6396" stop-color="#36369e"/><stop offset="0.6479" stop-color="#3638a2"/><stop offset="0.6687" stop-color="#3638a2"/><stop offset="0.6771" stop-color="#36369e"/><stop offset="0.6896" stop-color="#3638a2"/><stop offset="0.7104" stop-color="#3638a2"/><stop offset="0.7188" stop-color="#36369e"/><stop offset="0.7312" stop-color="#3638a2"/><stop offset="0.7521" stop-color="#3638a2"/><stop offset="0.7604" stop-color="#36369e"/><stop offset="0.7729" stop-color="#3638a2"/><stop offset="0.7937" stop-color="#3637a2"/><stop offset="0.8021" stop-color="#36369e"/><stop offset="0.8146" stop-color="#3638a2"/><stop offset="0.8354" stop-color="#3637a2"/><stop offset="0.8438" stop-color="#36369e"/><stop offset="0.8521" stop-color="#3637a2"/><stop offset="0.8771" stop-color="#3637a2"/><stop offset="0.8854" stop-color="#36369e"/><stop offset="0.8938" stop-color="#3637a2"/><stop offset="0.9187" stop-color="#3637a2"/><stop offset="0.9271" stop-color="#36369e"/><stop offset="0.9354" stop-color="#3637a2"/><stop offset="0.9563" stop-color="#3638a2"/><stop offset="0.9688" stop-color="#36369e"/><stop offset="0.9771" stop-color="#363aa7"/><stop offset="0.9812" stop-color="#3342b6"/><stop offset="0.9854" stop-color="#2a4bc8"/><stop offset="0.9896" stop-color="#1a56d7"/><stop offset="0.9979" stop-color="#1559da"/></linearGradient><linearGradient id="b1"><stop offset="0.0021" stop-color="#fec239"/><stop offset="0.0063" stop-color="#fec239"/><stop offset="0.0104" stop-color="#fcbd3f"/><stop offset="0.0146" stop-color="#dbba55"/><stop offset="0.0187" stop-color="#a7be6a"/><stop offset="0.0229" stop-color="#60be88"/><stop offset="0.0271" stop-color="#1db3af"/><stop offset="0.0312" stop-color="#06a4ca"/><stop offset="0.0354" stop-color="#118dd2"/><stop offset="0.0396" stop-color="#117ad9"/><stop offset="0.0437" stop-color="#046ce0"/><stop offset="0.0521" stop-color="#0269e1"/><stop offset="0.0563" stop-color="#1e54d5"/><stop offset="0.0604" stop-color="#3341b4"/><stop offset="0.0646" stop-color="#1f53d4"/><stop offset="0.0688" stop-color="#0268e1"/><stop offset="0.0813" stop-color="#036ce0"/><stop offset="0.0938" stop-color="#0267e1"/><stop offset="0.0979" stop-color="#254fce"/><stop offset="0.1021" stop-color="#3340b4"/><stop offset="0.1062" stop-color="#1b55d7"/><stop offset="0.1104" stop-color="#0268e1"/><stop offset="0.1313" stop-color="#026ae1"/><stop offset="0.1354" stop-color="#0364e1"/><stop offset="0.1396" stop-color="#2b4bc8"/><stop offset="0.1437" stop-color="#3340b4"/><stop offset="0.1479" stop-color="#1857d9"/><stop offset="0.1521" stop-color="#0267e1"/><stop offset="0.1688" stop-color="#0269e1"/><stop offset="0.1771" stop-color="#0562e0"/><stop offset="0.1812" stop-color="#2e48c2"/><stop offset="0.1854" stop-color="#3341b4"/><stop offset="0.1896" stop-color="#1559da"/><stop offset="0.1938" stop-color="#0267e1"/><stop offset="0.2146" stop-color="#0267e1"/><stop offset="0.2188" stop-color="#0a5edf"/><stop offset="0.2229" stop-color="#3145bc"/><stop offset="0.2271" stop-color="#3341b5"/><stop offset="0.2313" stop-color="#135adb"/><stop offset="0.2354" stop-color="#0266e1"/><stop offset="0.2562" stop-color="#0265e1"/><stop offset="0.2604" stop-color="#105bdd"/><stop offset="0.2646" stop-color="#3342b7"/><stop offset="0.2687" stop-color="#3342b7"/><stop offset="0.2729" stop-color="#125adc"/><stop offset="0.2771" stop-color="#0265e1"/><stop offset="0.2938" stop-color="#0265e1"/><stop offset="0.2979" stop-color="#0364e1"/><stop offset="0.3021" stop-color="#1957d8"/><stop offset="0.3063" stop-color="#3440b3"/><stop offset="0.3104" stop-color="#3243b9"/><stop offset="0.3146" stop-color="#115bdc"/><stop offset="0.3187" stop-color="#0364e1"/><stop offset="0.3354" stop-color="#0364e1"/><stop offset="0.3396" stop-color="#0561e0"/><stop offset="0.3438" stop-color="#2152d3"/><stop offset="0.3479" stop-color="#353eaf"/><stop offset="0.3521" stop-color="#3144bb"/><stop offset="0.3563" stop-color="#115bdc"/><stop offset="0.3604" stop-color="#0462e1"/><stop offset="0.3771" stop-color="#0462e1"/><stop offset="0.3812" stop-color="#0a5fdf"/><stop offset="0.3854" stop-color="#264ecd"/><stop offset="0.3896" stop-color="#353dac"/><stop offset="0.3937" stop-color="#3145bc"/><stop offset="0.3979" stop-color="#125adc"/><stop offset="0.4021" stop-color="#0760e0"/><stop offset="0.4146" stop-color="#0760e0"/><stop offset="0.4229" stop-color="#0e5cde"/><stop offset="0.4271" stop-color="#2c4ac6"/><stop offset="0.4313" stop-color="#353baa"/><stop offset="0.4354" stop-color="#3046be"/><stop offset="0.4396" stop-color="#1459db"/><stop offset="0.4437" stop-color="#0a5edf"/><stop offset="0.4562" stop-color="#0b5edf"/><stop offset="0.4604" stop-color="#0c5ede"/><stop offset="0.4646" stop-color="#1459db"/><stop offset="0.4688" stop-color="#2f47c0"/><stop offset="0.4729" stop-color="#353ba8"/><stop offset="0.4771" stop-color="#2f47c0"/><stop offset="0.4813" stop-color="#1658d9"/><stop offset="0.4854" stop-color="#0e5dde"/><stop offset="0.4979" stop-color="#0e5cde"/><stop offset="0.5021" stop-color="#0f5cdd"/><stop offset="0.5062" stop-color="#1b55d7"/><stop offset="0.5104" stop-color="#3244ba"/><stop offset="0.5146" stop-color="#363aa7"/><stop offset="0.5188" stop-color="#2e47c1"/><stop offset="0.5229" stop-color="#1957d8"/><stop offset="0.5271" stop-color="#125adc"/><stop offset="0.5312" stop-color="#125adc"/><stop offset="0.5437" stop-color="#1559da"/><stop offset="0.5479" stop-color="#2152d2"/><stop offset="0.5521" stop-color="#3341b5"/><stop offset="0.5563" stop-color="#363aa6"/><stop offset="0.5604" stop-color="#2e48c1"/><stop offset="0.5646" stop-color="#1c55d6"/><stop offset="0.5729" stop-color="#1757d9"/><stop offset="0.5854" stop-color="#1956d8"/><stop offset="0.5896" stop-color="#254fce"/><stop offset="0.5938" stop-color="#343fb0"/><stop offset="0.5979" stop-color="#363aa7"/><stop offset="0.6021" stop-color="#2d49c4"/><stop offset="0.6062" stop-color="#1c55d6"/><stop offset="0.6104" stop-color="#1857d8"/><stop offset="0.6271" stop-color="#1a56d7"/><stop offset="0.6312" stop-color="#274ecc"/><stop offset="0.6354" stop-color="#353dad"/><stop offset="0.6396" stop-color="#353ba9"/><stop offset="0.6438" stop-color="#2c4ac6"/><stop offset="0.6479" stop-color="#1b55d6"/><stop offset="0.6521" stop-color="#1857d8"/><stop offset="0.6687" stop-color="#1a56d7"/><stop offset="0.6729" stop-color="#294cc9"/><stop offset="0.6771" stop-color="#353cab"/><stop offset="0.6813" stop-color="#353cab"/><stop offset="0.6854" stop-color="#294cc9"/><stop offset="0.6896" stop-color="#1a56d7"/><stop offset="0.7021" stop-color="#1757d9"/><stop offset="0.7104" stop-color="#1b55d6"/><stop offset="0.7146" stop-color="#2c4ac6"/><stop offset="0.7188" stop-color="#353ba9"/><stop offset="0.7229" stop-color="#353dad"/><stop offset="0.7271" stop-color="#274ecc"/><stop offset="0.7312" stop-color="#1a56d7"/><stop offset="0.7479" stop-color="#1857d8"/><stop offset="0.7521" stop-color="#1c55d6"/><stop offset="0.7562" stop-color="#2d49c4"/><stop offset="0.7604" stop-color="#363aa7"/><stop offset="0.7646" stop-color="#343fb0"/><stop offset="0.7688" stop-color="#254fce"/><stop offset="0.7729" stop-color="#1956d8"/><stop offset="0.7854" stop-color="#1757d9"/><stop offset="0.7937" stop-color="#1d54d5"/><stop offset="0.7979" stop-color="#2f47c0"/><stop offset="0.8021" stop-color="#3639a6"/><stop offset="0.8063" stop-color="#3340b3"/><stop offset="0.8104" stop-color="#2350d0"/><stop offset="0.8146" stop-color="#1957d8"/><stop offset="0.8271" stop-color="#1757d9"/><stop offset="0.8313" stop-color="#1857d8"/><stop offset="0.8354" stop-color="#1f53d4"/><stop offset="0.8396" stop-color="#3045bd"/><stop offset="0.8438" stop-color="#3639a5"/><stop offset="0.8479" stop-color="#3342b7"/><stop offset="0.8521" stop-color="#2251d2"/><stop offset="0.8562" stop-color="#1857d8"/><stop offset="0.8688" stop-color="#1757d9"/><stop offset="0.8729" stop-color="#1857d8"/><stop offset="0.8771" stop-color="#2052d3"/><stop offset="0.8812" stop-color="#3244ba"/><stop offset="0.8854" stop-color="#3639a5"/><stop offset="0.8896" stop-color="#3244ba"/><stop offset="0.8938" stop-color="#2052d3"/><stop offset="0.8979" stop-color="#1857d8"/><stop offset="0.9104" stop-color="#1757d9"/><stop offset="0.9146" stop-color="#1857d8"/><stop offset="0.9187" stop-color="#2251d2"/><stop offset="0.9229" stop-color="#3342b7"/><stop offset="0.9271" stop-color="#3639a5"/><stop offset="0.9313" stop-color="#3045bd"/><stop offset="0.9354" stop-color="#1f53d4"/><stop offset="0.9396" stop-color="#1857d8"/><stop offset="0.9521" stop-color="#1857d9"/><stop offset="0.9563" stop-color="#1957d8"/><stop offset="0.9604" stop-color="#2350d0"/><stop offset="0.9646" stop-color="#3340b3"/><stop offset="0.9688" stop-color="#3639a6"/><stop offset="0.9729" stop-color="#2f47c0"/><stop offset="0.9771" stop-color="#1d54d5"/><stop offset="0.9854" stop-color="#1757d9"/><stop offset="0.9938" stop-color="#0a5fdf"/><stop offset="0.9979" stop-color="#0a5fdf"/></linearGradient><linearGradient id="b2"><stop offset="0.0021" stop-color="#fec03b"/><stop offset="0.0063" stop-color="#fec03b"/><stop offset="0.0104" stop-color="#fbbc41"/><stop offset="0.0146" stop-color="#daba55"/><stop offset="0.0187" stop-color="#a6be6a"/><stop offset="0.0229" stop-color="#60be88"/><stop offset="0.0271" stop-color="#1eb3ae"/><stop offset="0.0312" stop-color="#06a4c9"/><stop offset="0.0354" stop-color="#118ed2"/><stop offset="0.0396" stop-color="#137dd8"/><stop offset="0.0479" stop-color="#127cd8"/><stop offset="0.0521" stop-color="#0f77db"/><stop offset="0.0563" stop-color="#0c5dde"/><stop offset="0.0604" stop-color="#353ba9"/><stop offset="0.0646" stop-color="#0d5dde"/><stop offset="0.0688" stop-color="#0e77db"/><stop offset="0.0729" stop-color="#127cd8"/><stop offset="0.0896" stop-color="#117bd9"/><stop offset="0.0938" stop-color="#0c75dc"/><stop offset="0.0979" stop-color="#1a56d7"/><stop offset="0.1021" stop-color="#353ba9"/><stop offset="0.1062" stop-color="#0761e0"/><stop offset="0.1104" stop-color="#0e77db"/><stop offset="0.1187" stop-color="#117bd9"/><stop offset="0.1313" stop-color="#1079da"/><stop offset="0.1354" stop-color="#0a72de"/><stop offset="0.1396" stop-color="#254fce"/><stop offset="0.1437" stop-color="#353caa"/><stop offset="0.1479" stop-color="#0363e1"/><stop offset="0.1521" stop-color="#0e76dc"/><stop offset="0.1562" stop-color="#1079da"/><stop offset="0.1729" stop-color="#0f78db"/><stop offset="0.1771" stop-color="#076fdf"/><stop offset="0.1812" stop-color="#2d49c4"/><stop offset="0.1854" stop-color="#353dac"/><stop offset="0.1896" stop-color="#0265e1"/><stop offset="0.1938" stop-color="#0d75dc"/><stop offset="0.1979" stop-color="#0f78db"/><stop offset="0.2146" stop-color="#0e76dc"/><stop offset="0.2188" stop-color="#046ce0"/><stop offset="0.2229" stop-color="#3144bb"/><stop offset="0.2271" stop-color="#343eb0"/><stop offset="0.2313" stop-color="#0267e1"/><stop offset="0.2354" stop-color="#0c75dc"/><stop offset="0.2521" stop-color="#0e76dc"/><stop offset="0.2562" stop-color="#0c74dd"/><stop offset="0.2604" stop-color="#0269e1"/><stop offset="0.2646" stop-color="#3340b4"/><stop offset="0.2687" stop-color="#3340b4"/><stop offset="0.2729" stop-color="#0268e1"/><stop offset="0.2771" stop-color="#0b74dd"/><stop offset="0.2938" stop-color="#0c75dd"/><stop offset="0.2979" stop-color="#0a72de"/><stop offset="0.3021" stop-color="#0365e1"/><stop offset="0.3063" stop-color="#353dad"/><stop offset="0.3104" stop-color="#3243b8"/><stop offset="0.3146" stop-color="#0269e1"/><stop offset="0.3187" stop-color="#0a72de"/><stop offset="0.3354" stop-color="#0a73dd"/><stop offset="0.3396" stop-color="#0870df"/><stop offset="0.3438" stop-color="#0860df"/><stop offset="0.3479" stop-color="#353aa8"/><stop offset="0.3521" stop-color="#3045bd"/><stop offset="0.3563" stop-color="#0269e1"/><stop offset="0.3604" stop-color="#0971de"/><stop offset="0.3646" stop-color="#0972de"/><stop offset="0.3812" stop-color="#066ee0"/><stop offset="0.3854" stop-color="#135adb"/><stop offset="0.3896" stop-color="#3638a4"/><stop offset="0.3937" stop-color="#2e48c1"/><stop offset="0.3979" stop-color="#0269e1"/><stop offset="0.4021" stop-color="#0770df"/><stop offset="0.4229" stop-color="#046ce0"/><stop offset="0.4271" stop-color="#2053d4"/><stop offset="0.4313" stop-color="#3637a1"/><stop offset="0.4354" stop-color="#2c4ac6"/><stop offset="0.4396" stop-color="#0269e1"/><stop offset="0.4437" stop-color="#066edf"/><stop offset="0.4604" stop-color="#056ee0"/><stop offset="0.4646" stop-color="#0269e1"/><stop offset="0.4688" stop-color="#284dca"/><stop offset="0.4729" stop-color="#3636a0"/><stop offset="0.4771" stop-color="#294cca"/><stop offset="0.4813" stop-color="#0268e1"/><stop offset="0.4854" stop-color="#046de0"/><stop offset="0.4938" stop-color="#046de0"/><stop offset="0.5021" stop-color="#046ce0"/><stop offset="0.5062" stop-color="#0266e1"/><stop offset="0.5104" stop-color="#2e47c1"/><stop offset="0.5146" stop-color="#36369f"/><stop offset="0.5188" stop-color="#264ecd"/><stop offset="0.5229" stop-color="#0267e1"/><stop offset="0.5271" stop-color="#036be1"/><stop offset="0.5354" stop-color="#036be1"/><stop offset="0.5437" stop-color="#0269e1"/><stop offset="0.5479" stop-color="#0462e1"/><stop offset="0.5521" stop-color="#3243b8"/><stop offset="0.5563" stop-color="#36369f"/><stop offset="0.5604" stop-color="#2450cf"/><stop offset="0.5646" stop-color="#0266e1"/><stop offset="0.5687" stop-color="#0269e1"/><stop offset="0.5854" stop-color="#0267e1"/><stop offset="0.5896" stop-color="#0c5ede"/><stop offset="0.5938" stop-color="#343fb1"/><stop offset="0.5979" stop-color="#3637a0"/><stop offset="0.6021" stop-color="#2251d1"/><stop offset="0.6062" stop-color="#0364e1"/><stop offset="0.6271" stop-color="#0364e1"/><stop offset="0.6312" stop-color="#1559da"/><stop offset="0.6354" stop-color="#353caa"/><stop offset="0.6396" stop-color="#3638a2"/><stop offset="0.6438" stop-color="#2053d4"/><stop offset="0.6479" stop-color="#0364e1"/><stop offset="0.6687" stop-color="#0364e1"/><stop offset="0.6729" stop-color="#1a56d7"/><stop offset="0.6771" stop-color="#363aa6"/><stop offset="0.6813" stop-color="#363aa6"/><stop offset="0.6854" stop-color="#1a56d7"/><stop offset="0.6896" stop-color="#0364e1"/><stop offset="0.7104" stop-color="#0364e1"/><stop offset="0.7146" stop-color="#2053d4"/><stop offset="0.7188" stop-color="#3638a2"/><stop offset="0.7229" stop-color="#353caa"/><stop offset="0.7271" stop-color="#1559da"/><stop offset="0.7312" stop-color="#0364e1"/><stop offset="0.7438" stop-color="#0266e1"/><stop offset="0.7521" stop-color="#0363e1"/><stop offset="0.7562" stop-color="#2450cf"/><stop offset="0.7604" stop-color="#36369f"/><stop offset="0.7646" stop-color="#353eaf"/><stop offset="0.7688" stop-color="#105bdd"/><stop offset="0.7729" stop-color="#0265e1"/><stop offset="0.7854" stop-color="#0266e1"/><stop offset="0.7937" stop-color="#0462e1"/><stop offset="0.7979" stop-color="#294cca"/><stop offset="0.8021" stop-color="#36359d"/><stop offset="0.8063" stop-color="#3341b4"/><stop offset="0.8104" stop-color="#0d5dde"/><stop offset="0.8146" stop-color="#0265e1"/><stop offset="0.8313" stop-color="#0265e1"/><stop offset="0.8354" stop-color="#0561e0"/><stop offset="0.8396" stop-color="#2d49c4"/><stop offset="0.8438" stop-color="#36359c"/><stop offset="0.8479" stop-color="#3243b9"/><stop offset="0.8521" stop-color="#0a5fdf"/><stop offset="0.8562" stop-color="#0265e1"/><stop offset="0.8729" stop-color="#0265e1"/><stop offset="0.8771" stop-color="#0860e0"/><stop offset="0.8812" stop-color="#2f46bf"/><stop offset="0.8854" stop-color="#36349c"/><stop offset="0.8896" stop-color="#2f46bf"/><stop offset="0.8938" stop-color="#0860e0"/><stop offset="0.8979" stop-color="#0265e1"/><stop offset="0.9146" stop-color="#0265e1"/><stop offset="0.9187" stop-color="#0a5fdf"/><stop offset="0.9229" stop-color="#3243b9"/><stop offset="0.9271" stop-color="#36359c"/><stop offset="0.9313" stop-color="#2d49c4"/><stop offset="0.9354" stop-color="#0561e0"/><stop offset="0.9437" stop-color="#0266e1"/><stop offset="0.9563" stop-color="#0265e1"/><stop offset="0.9604" stop-color="#0d5dde"/><stop offset="0.9646" stop-color="#3341b4"/><stop offset="0.9688" stop-color="#36359d"/><stop offset="0.9729" stop-color="#294cca"/><stop offset="0.9771" stop-color="#0462e1"/><stop offset="0.9854" stop-color="#0266e1"/><stop offset="0.9979" stop-color="#0265e1"/></linearGradient><linearGradient id="b3"><stop offset="0.0021" stop-color="#febe3d"/><stop offset="0.0063" stop-color="#febe3d"/><stop offset="0.0104" stop-color="#f9bb43"/><stop offset="0.0146" stop-color="#d8ba56"/><stop offset="0.0187" stop-color="#a6be6b"/><stop offset="0.0229" stop-color="#60be88"/><stop offset="0.0271" stop-color="#1fb3ae"/><stop offset="0.0312" stop-color="#06a5c9"/><stop offset="0.0354" stop-color="#108fd2"/><stop offset="0.0521" stop-color="#1487d3"/><stop offset="0.0604" stop-color="#0c74dd"/><stop offset="0.0688" stop-color="#1486d3"/><stop offset="0.0854" stop-color="#1389d3"/><stop offset="0.0938" stop-color="#1485d4"/><stop offset="0.1021" stop-color="#0b73dd"/><stop offset="0.1104" stop-color="#1485d4"/><stop offset="0.1271" stop-color="#1487d3"/><stop offset="0.1354" stop-color="#1482d5"/><stop offset="0.1396" stop-color="#0f77db"/><stop offset="0.1437" stop-color="#0a72de"/><stop offset="0.1479" stop-color="#127cd8"/><stop offset="0.1521" stop-color="#1484d4"/><stop offset="0.1688" stop-color="#1485d4"/><stop offset="0.1771" stop-color="#1480d6"/><stop offset="0.1812" stop-color="#0d75dc"/><stop offset="0.1854" stop-color="#0971de"/><stop offset="0.1896" stop-color="#127bd9"/><stop offset="0.1938" stop-color="#1482d5"/><stop offset="0.2104" stop-color="#1483d5"/><stop offset="0.2188" stop-color="#137dd8"/><stop offset="0.2229" stop-color="#0a73de"/><stop offset="0.2271" stop-color="#0871de"/><stop offset="0.2313" stop-color="#117bd9"/><stop offset="0.2354" stop-color="#1481d6"/><stop offset="0.2521" stop-color="#1481d6"/><stop offset="0.2604" stop-color="#117bd9"/><stop offset="0.2646" stop-color="#0870df"/><stop offset="0.2687" stop-color="#0770df"/><stop offset="0.2729" stop-color="#117ad9"/><stop offset="0.2771" stop-color="#137fd7"/><stop offset="0.2938" stop-color="#137fd7"/><stop offset="0.3021" stop-color="#0f78db"/><stop offset="0.3063" stop-color="#056ee0"/><stop offset="0.3104" stop-color="#076fdf"/><stop offset="0.3146" stop-color="#1079da"/><stop offset="0.3187" stop-color="#137dd8"/><stop offset="0.3396" stop-color="#127cd9"/><stop offset="0.3479" stop-color="#046ce0"/><stop offset="0.3521" stop-color="#066fdf"/><stop offset="0.3563" stop-color="#0f78db"/><stop offset="0.3604" stop-color="#127bd9"/><stop offset="0.3771" stop-color="#117bd9"/><stop offset="0.3812" stop-color="#1079da"/><stop offset="0.3896" stop-color="#026ae1"/><stop offset="0.3979" stop-color="#0e77db"/><stop offset="0.4188" stop-color="#1079da"/><stop offset="0.4229" stop-color="#0f77db"/><stop offset="0.4313" stop-color="#0267e1"/><stop offset="0.4396" stop-color="#0d75dc"/><stop offset="0.4437" stop-color="#0f77db"/><stop offset="0.4646" stop-color="#0c75dc"/><stop offset="0.4688" stop-color="#046de0"/><stop offset="0.4729" stop-color="#0265e1"/><stop offset="0.4771" stop-color="#046de0"/><stop offset="0.4813" stop-color="#0c74dd"/><stop offset="0.4854" stop-color="#0d75dc"/><stop offset="0.5021" stop-color="#0c75dd"/><stop offset="0.5104" stop-color="#036ae1"/><stop offset="0.5146" stop-color="#0363e1"/><stop offset="0.5229" stop-color="#0a72de"/><stop offset="0.5271" stop-color="#0b73dd"/><stop offset="0.5479" stop-color="#0770df"/><stop offset="0.5521" stop-color="#0267e1"/><stop offset="0.5563" stop-color="#0561e0"/><stop offset="0.5604" stop-color="#036be1"/><stop offset="0.5687" stop-color="#0971de"/><stop offset="0.5854" stop-color="#0770df"/><stop offset="0.5896" stop-color="#046de0"/><stop offset="0.5938" stop-color="#0364e1"/><stop offset="0.5979" stop-color="#095fdf"/><stop offset="0.6021" stop-color="#0269e1"/><stop offset="0.6104" stop-color="#066fdf"/><stop offset="0.6271" stop-color="#056ee0"/><stop offset="0.6312" stop-color="#036ae1"/><stop offset="0.6354" stop-color="#0960df"/><stop offset="0.6396" stop-color="#0c5dde"/><stop offset="0.6438" stop-color="#0268e1"/><stop offset="0.6521" stop-color="#046de0"/><stop offset="0.6687" stop-color="#036be0"/><stop offset="0.6729" stop-color="#0267e1"/><stop offset="0.6771" stop-color="#0f5cdd"/><stop offset="0.6813" stop-color="#105bdd"/><stop offset="0.6854" stop-color="#0266e1"/><stop offset="0.6896" stop-color="#026ae1"/><stop offset="0.7104" stop-color="#0268e1"/><stop offset="0.7146" stop-color="#0363e1"/><stop offset="0.7188" stop-color="#1857d8"/><stop offset="0.7229" stop-color="#1559da"/><stop offset="0.7271" stop-color="#0364e1"/><stop offset="0.7312" stop-color="#0267e1"/><stop offset="0.7521" stop-color="#0266e1"/><stop offset="0.7562" stop-color="#0860e0"/><stop offset="0.7604" stop-color="#1d54d5"/><stop offset="0.7646" stop-color="#1558da"/><stop offset="0.7688" stop-color="#0364e1"/><stop offset="0.7729" stop-color="#0267e1"/><stop offset="0.7937" stop-color="#0266e1"/><stop offset="0.7979" stop-color="#0a5fdf"/><stop offset="0.8021" stop-color="#1f53d5"/><stop offset="0.8104" stop-color="#0364e1"/><stop offset="0.8146" stop-color="#0267e1"/><stop offset="0.8354" stop-color="#0265e1"/><stop offset="0.8396" stop-color="#0c5ede"/><stop offset="0.8438" stop-color="#1f53d4"/><stop offset="0.8521" stop-color="#0265e1"/><stop offset="0.8771" stop-color="#0265e1"/><stop offset="0.8812" stop-color="#0e5dde"/><stop offset="0.8854" stop-color="#1f53d4"/><stop offset="0.8896" stop-color="#0e5dde"/><stop offset="0.8938" stop-color="#0265e1"/><stop offset="0.9187" stop-color="#0265e1"/><stop offset="0.9271" stop-color="#1f53d4"/><stop offset="0.9313" stop-color="#0c5ede"/><stop offset="0.9354" stop-color="#0265e1"/><stop offset="0.9563" stop-color="#0267e1"/><stop offset="0.9604" stop-color="#0364e1"/><stop offset="0.9688" stop-color="#1f53d5"/><stop offset="0.9729" stop-color="#0a5fdf"/><stop offset="0.9771" stop-color="#0266e1"/><stop offset="0.9979" stop-color="#0268e1"/></linearGradient><linearGradient id="b4"><stop offset="0.0021" stop-color="#fbbc41"/><stop offset="0.0063" stop-color="#fbbc41"/><stop offset="0.0104" stop-color="#f5ba47"/><stop offset="0.0146" stop-color="#d4bb58"/><stop offset="0.0187" stop-color="#a2be6c"/><stop offset="0.0229" stop-color="#5ebe89"/><stop offset="0.0271" stop-color="#1eb3ae"/><stop offset="0.0312" stop-color="#06a5c8"/><stop offset="0.0354" stop-color="#079cd0"/><stop offset="0.0604" stop-color="#0a97d1"/><stop offset="0.0688" stop-color="#089ad1"/><stop offset="0.0896" stop-color="#0899d1"/><stop offset="0.1021" stop-color="#0c94d2"/><stop offset="0.1229" stop-color="#0a97d1"/><stop offset="0.1437" stop-color="#0e92d2"/><stop offset="0.1646" stop-color="#0c94d2"/><stop offset="0.1854" stop-color="#108fd2"/><stop offset="0.2062" stop-color="#0e91d2"/><stop offset="0.2646" stop-color="#138ad3"/><stop offset="0.4562" stop-color="#1480d6"/><stop offset="0.6146" stop-color="#0e76dc"/><stop offset="0.7604" stop-color="#036be1"/><stop offset="0.8438" stop-color="#0364e1"/><stop offset="0.9688" stop-color="#0364e1"/><stop offset="0.9979" stop-color="#036be0"/></linearGradient><linearGradient id="b5"><stop offset="0.0021" stop-color="#f4ba47"/><stop offset="0.0063" stop-color="#f4ba47"/><stop offset="0.0104" stop-color="#edb94c"/><stop offset="0.0146" stop-color="#cdbb5b"/><stop offset="0.0187" stop-color="#9cbf6e"/><stop offset="0.0229" stop-color="#59bd8c"/><stop offset="0.0271" stop-color="#1cb3af"/><stop offset="0.0312" stop-color="#06a7c5"/><stop offset="0.2479" stop-color="#079bd0"/><stop offset="0.4729" stop-color="#1487d3"/><stop offset="0.6562" stop-color="#117ada"/><stop offset="0.8438" stop-color="#036be0"/><stop offset="0.9771" stop-color="#036be0"/><stop offset="0.9979" stop-color="#066fdf"/></linearGradient><linearGradient id="b6"><stop offset="0.0021" stop-color="#ebb94d"/><stop offset="0.0063" stop-color="#ebb94d"/><stop offset="0.0104" stop-color="#e4b950"/><stop offset="0.0146" stop-color="#c5bc5e"/><stop offset="0.0187" stop-color="#94bf72"/><stop offset="0.0229" stop-color="#52bd8f"/><stop offset="0.0271" stop-color="#1ab2b1"/><stop offset="0.0312" stop-color="#12afb7"/><stop offset="0.1479" stop-color="#07aac1"/><stop offset="0.3354" stop-color="#069ece"/><stop offset="0.5396" stop-color="#138ad3"/><stop offset="0.6479" stop-color="#1480d6"/><stop offset="0.8479" stop-color="#076fdf"/><stop offset="0.9979" stop-color="#0972de"/></linearGradient><linearGradient id="b7"><stop offset="0.0021" stop-color="#deba54"/><stop offset="0.0063" stop-color="#ddba54"/><stop offset="0.0104" stop-color="#d6ba57"/><stop offset="0.0146" stop-color="#b6bd64"/><stop offset="0.0187" stop-color="#83bf78"/><stop offset="0.0229" stop-color="#43bb97"/><stop offset="0.0271" stop-color="#23b4ab"/><stop offset="0.0396" stop-color="#26b5a9"/><stop offset="0.1688" stop-color="#10afb8"/><stop offset="0.2812" stop-color="#06a8c4"/><stop offset="0.4521" stop-color="#079bd0"/><stop offset="0.6229" stop-color="#1487d3"/><stop offset="0.7312" stop-color="#137dd8"/><stop offset="0.8521" stop-color="#0a72de"/><stop offset="0.9979" stop-color="#0c74dd"/></linearGradient><linearGradient id="b8"><stop offset="0.0021" stop-color="#c7bc5d"/><stop offset="0.0063" stop-color="#c5bc5e"/><stop offset="0.0104" stop-color="#bcbd62"/><stop offset="0.0146" stop-color="#93bf72"/><stop offset="0.0187" stop-color="#50bc90"/><stop offset="0.0229" stop-color="#1db3af"/><stop offset="0.0271" stop-color="#1fb4ad"/><stop offset="0.0312" stop-color="#2eb7a4"/><stop offset="0.0354" stop-color="#37b99e"/><stop offset="0.0437" stop-color="#39b99d"/><stop offset="0.2104" stop-color="#15b1b4"/><stop offset="0.3396" stop-color="#06a9c3"/><stop offset="0.4979" stop-color="#079bd0"/><stop offset="0.6562" stop-color="#1487d3"/><stop offset="0.7562" stop-color="#137dd8"/><stop offset="0.8521" stop-color="#0c74dd"/><stop offset="0.9854" stop-color="#0c74dd"/><stop offset="0.9979" stop-color="#0f77db"/></linearGradient><linearGradient id="b9"><stop offset="0.0021" stop-color="#a3be6c"/><stop offset="0.0063" stop-color="#9cbf6e"/><stop offset="0.0104" stop-color="#89bf76"/><stop offset="0.0146" stop-color="#42bb98"/><stop offset="0.0187" stop-color="#07a9c3"/><stop offset="0.0229" stop-color="#0899d1"/><stop offset="0.0271" stop-color="#06a6c7"/><stop offset="0.0312" stop-color="#1fb3ae"/><stop offset="0.0354" stop-color="#3cba9b"/><stop offset="0.0396" stop-color="#46bb96"/><stop offset="0.0437" stop-color="#47bb95"/><stop offset="0.2229" stop-color="#1ab2b1"/><stop offset="0.3521" stop-color="#07aac1"/><stop offset="0.5188" stop-color="#079bd0"/><stop offset="0.6687" stop-color="#1487d3"/><stop offset="0.7396" stop-color="#1480d6"/><stop offset="0.8479" stop-color="#0d75dc"/><stop offset="0.9854" stop-color="#0d75dc"/><stop offset="0.9979" stop-color="#117ad9"/></linearGradient><linearGradient id="b10"><stop offset="0.0021" stop-color="#6cbf83"/><stop offset="0.0063" stop-color="#5ebe89"/><stop offset="0.0104" stop-color="#41ba98"/><stop offset="0.0146" stop-color="#07a9c3"/><stop offset="0.0187" stop-color="#117bd9"/><stop offset="0.0229" stop-color="#0267e1"/><stop offset="0.0271" stop-color="#1482d5"/><stop offset="0.0312" stop-color="#08abc0"/><stop offset="0.0354" stop-color="#34b8a0"/><stop offset="0.0396" stop-color="#49bc94"/><stop offset="0.0479" stop-color="#4cbc92"/><stop offset="0.1479" stop-color="#2eb7a3"/><stop offset="0.2562" stop-color="#15b1b4"/><stop offset="0.3729" stop-color="#06a8c3"/><stop offset="0.5146" stop-color="#079bd0"/><stop offset="0.6604" stop-color="#1487d3"/><stop offset="0.7562" stop-color="#137dd8"/><stop offset="0.8438" stop-color="#0c74dd"/><stop offset="0.9854" stop-color="#0b73dd"/><stop offset="0.9896" stop-color="#117ad9"/><stop offset="0.9979" stop-color="#127dd8"/></linearGradient><linearGradient id="b11"><stop offset="0.0021" stop-color="#37b99e"/><stop offset="0.0104" stop-color="#18b1b3"/><stop offset="0.0146" stop-color="#079bd0"/><stop offset="0.0187" stop-color="#036be0"/><stop offset="0.0229" stop-color="#2c49c5"/><stop offset="0.0271" stop-color="#0d75dc"/><stop offset="0.0312" stop-color="#06a5c8"/><stop offset="0.0354" stop-color="#2cb6a5"/><stop offset="0.0396" stop-color="#42bb98"/><stop offset="0.0479" stop-color="#46bb96"/><stop offset="0.1229" stop-color="#2eb7a3"/><stop offset="0.2229" stop-color="#15b1b4"/><stop offset="0.3146" stop-color="#07aac1"/><stop offset="0.4688" stop-color="#079bd0"/><stop offset="0.6188" stop-color="#1487d3"/><stop offset="0.7104" stop-color="#137dd8"/><stop offset="0.8562" stop-color="#076fdf"/><stop offset="0.9812" stop-color="#066fdf"/><stop offset="0.9854" stop-color="#0a72de"/><stop offset="0.9896" stop-color="#127dd8"/><stop offset="0.9979" stop-color="#1480d6"/></linearGradient><linearGradient id="b12"><stop offset="0.0021" stop-color="#31b8a2"/><stop offset="0.0104" stop-color="#1bb2b0"/><stop offset="0.0146" stop-color="#06a6c7"/><stop offset="0.0187" stop-color="#1485d4"/><stop offset="0.0229" stop-color="#0d75dc"/><stop offset="0.0271" stop-color="#1389d3"/><stop offset="0.0312" stop-color="#07a9c2"/><stop offset="0.0354" stop-color="#25b5aa"/><stop offset="0.0396" stop-color="#33b8a1"/><stop offset="0.0437" stop-color="#36b89f"/><stop offset="0.0521" stop-color="#34b8a0"/><stop offset="0.1104" stop-color="#21b4ac"/><stop offset="0.1896" stop-color="#0eaeba"/><stop offset="0.2604" stop-color="#06a8c4"/><stop offset="0.3812" stop-color="#079cd0"/><stop offset="0.5146" stop-color="#138ad3"/><stop offset="0.6062" stop-color="#1480d6"/><stop offset="0.8479" stop-color="#0269e1"/><stop offset="0.9812" stop-color="#0267e1"/><stop offset="0.9896" stop-color="#137ed7"/><stop offset="0.9979" stop-color="#1481d6"/></linearGradient><linearGradient id="b13"><stop offset="0.0021" stop-color="#4dbc92"/><stop offset="0.0063" stop-color="#41ba98"/><stop offset="0.0104" stop-color="#3dba9b"/><stop offset="0.0146" stop-color="#26b5a9"/><stop offset="0.0187" stop-color="#0aacbd"/><stop offset="0.0229" stop-color="#06a4c9"/><stop offset="0.0271" stop-color="#06a3ca"/><stop offset="0.0312" stop-color="#0cadbc"/><stop offset="0.0354" stop-color="#1ab2b1"/><stop offset="0.0437" stop-color="#1fb3ad"/><stop offset="0.1104" stop-color="#0daeba"/><stop offset="0.1646" stop-color="#06a8c3"/><stop offset="0.2771" stop-color="#079cd0"/><stop offset="0.4271" stop-color="#1487d3"/><stop offset="0.5271" stop-color="#137dd8"/><stop offset="0.7438" stop-color="#026ae1"/><stop offset="0.8146" stop-color="#0363e1"/><stop offset="0.8562" stop-color="#0b5edf"/><stop offset="0.9771" stop-color="#0e5cde"/><stop offset="0.9812" stop-color="#0265e1"/><stop offset="0.9896" stop-color="#137dd8"/><stop offset="0.9979" stop-color="#1480d6"/></linearGradient><linearGradient id="b14"><stop offset="0.0021" stop-color="#89bf76"/><stop offset="0.0063" stop-color="#81bf79"/><stop offset="0.0104" stop-color="#80bf7a"/><stop offset="0.0146" stop-color="#6fbf81"/><stop offset="0.0229" stop-color="#31b8a2"/><stop offset="0.0271" stop-color="#19b2b2"/><stop offset="0.0312" stop-color="#08abc0"/><stop offset="0.0437" stop-color="#0aacbd"/><stop offset="0.0771" stop-color="#06a8c4"/><stop offset="0.1688" stop-color="#079cd0"/><stop offset="0.2771" stop-color="#138ad3"/><stop offset="0.3604" stop-color="#1480d6"/><stop offset="0.5938" stop-color="#036be0"/><stop offset="0.6687" stop-color="#0265e1"/><stop offset="0.6937" stop-color="#0363e1"/><stop offset="0.7479" stop-color="#0e5cde"/><stop offset="0.8521" stop-color="#254fce"/><stop offset="0.9729" stop-color="#284dcb"/><stop offset="0.9771" stop-color="#2450cf"/><stop offset="0.9812" stop-color="#0364e1"/><stop offset="0.9896" stop-color="#127dd8"/><stop offset="0.9979" stop-color="#1480d6"/></linearGradient><linearGradient id="b15"><stop offset="0.0021" stop-color="#c1bc60"/><stop offset="0.0104" stop-color="#bbbd62"/><stop offset="0.0146" stop-color="#aabe69"/><stop offset="0.0187" stop-color="#8dbf74"/><stop offset="0.0229" stop-color="#63be87"/><stop offset="0.0271" stop-color="#34b8a0"/><stop offset="0.0312" stop-color="#10afb8"/><stop offset="0.0354" stop-color="#06a3cb"/><stop offset="0.0896" stop-color="#0899d1"/><stop offset="0.1771" stop-color="#1487d3"/><stop offset="0.2313" stop-color="#1480d6"/><stop offset="0.4562" stop-color="#026ae1"/><stop offset="0.5396" stop-color="#0462e1"/><stop offset="0.5979" stop-color="#0f5cde"/><stop offset="0.6979" stop-color="#2450d0"/><stop offset="0.7562" stop-color="#2c4ac7"/><stop offset="0.8479" stop-color="#3243ba"/><stop offset="0.9729" stop-color="#3342b6"/><stop offset="0.9771" stop-color="#254fcf"/><stop offset="0.9812" stop-color="#0364e1"/><stop offset="0.9896" stop-color="#127cd8"/><stop offset="0.9979" stop-color="#137fd7"/></linearGradient><linearGradient id="b16"><stop offset="0.0021" stop-color="#eab94e"/><stop offset="0.0104" stop-color="#e5b950"/><stop offset="0.0146" stop-color="#d0bb59"/><stop offset="0.0187" stop-color="#b0bd66"/><stop offset="0.0229" stop-color="#84bf78"/><stop offset="0.0271" stop-color="#4cbc92"/><stop offset="0.0312" stop-color="#1cb3af"/><stop offset="0.0354" stop-color="#06a7c6"/><stop offset="0.0396" stop-color="#0a97d1"/><stop offset="0.0437" stop-color="#0e91d2"/><stop offset="0.0979" stop-color="#1484d4"/><stop offset="0.1437" stop-color="#137dd8"/><stop offset="0.3063" stop-color="#0269e1"/><stop offset="0.3729" stop-color="#0462e1"/><stop offset="0.4271" stop-color="#0f5cde"/><stop offset="0.4979" stop-color="#2053d4"/><stop offset="0.5854" stop-color="#2c4ac6"/><stop offset="0.7021" stop-color="#3342b7"/><stop offset="0.8313" stop-color="#353baa"/><stop offset="0.9688" stop-color="#3639a6"/><stop offset="0.9729" stop-color="#3341b4"/><stop offset="0.9771" stop-color="#254fce"/><stop offset="0.9812" stop-color="#0363e1"/><stop offset="0.9896" stop-color="#127cd8"/><stop offset="0.9979" stop-color="#137ed7"/></linearGradient><linearGradient id="b17"><stop offset="0.0021" stop-color="#fec239"/><stop offset="0.0104" stop-color="#febe3d"/><stop offset="0.0146" stop-color="#eab94e"/><stop offset="0.0187" stop-color="#c8bc5d"/><stop offset="0.0229" stop-color="#9bbf6f"/><stop offset="0.0271" stop-color="#61be87"/><stop offset="0.0312" stop-color="#29b6a7"/><stop offset="0.0354" stop-color="#08abc0"/><stop offset="0.0396" stop-color="#079bd0"/><stop offset="0.0437" stop-color="#1486d4"/><stop offset="0.0479" stop-color="#127cd8"/><stop offset="0.0938" stop-color="#0f77db"/><stop offset="0.1604" stop-color="#046de0"/><stop offset="0.2188" stop-color="#0265e1"/><stop offset="0.2729" stop-color="#0e5cde"/><stop offset="0.3354" stop-color="#2052d3"/><stop offset="0.4062" stop-color="#2c4ac6"/><stop offset="0.4896" stop-color="#3244ba"/><stop offset="0.6396" stop-color="#353caa"/><stop offset="0.7812" stop-color="#3636a0"/><stop offset="0.8562" stop-color="#36349b"/><stop offset="0.9646" stop-color="#36349a"/><stop offset="0.9688" stop-color="#3638a2"/><stop offset="0.9729" stop-color="#3340b4"/><stop offset="0.9771" stop-color="#264ecd"/><stop offset="0.9812" stop-color="#0363e1"/><stop offset="0.9896" stop-color="#117bd9"/><stop offset="0.9979" stop-color="#137ed7"/></linearGradient><linearGradient id="b18"><stop offset="0.0021" stop-color="#fbcf2c"/><stop offset="0.0104" stop-color="#fdcc2f"/><stop offset="0.0146" stop-color="#fbbc41"/><stop offset="0.0187" stop-color="#d9ba56"/><stop offset="0.0229" stop-color="#adbe68"/><stop offset="0.0271" stop-color="#75bf7e"/><stop offset="0.0312" stop-color="#37b99e"/><stop offset="0.0354" stop-color="#0daebb"/><stop offset="0.0396" stop-color="#079cd0"/><stop offset="0.0437" stop-color="#137fd7"/><stop offset="0.0479" stop-color="#056ee0"/><stop offset="0.0521" stop-color="#0269e1"/><stop offset="0.0604" stop-color="#0770df"/><stop offset="0.0979" stop-color="#0269e1"/><stop offset="0.1313" stop-color="#0363e1"/><stop offset="0.1646" stop-color="#0f5cde"/><stop offset="0.2062" stop-color="#2053d4"/><stop offset="0.2479" stop-color="#2a4cc9"/><stop offset="0.3229" stop-color="#3244ba"/><stop offset="0.4354" stop-color="#353cab"/><stop offset="0.5687" stop-color="#3637a0"/><stop offset="0.8104" stop-color="#363194"/><stop offset="0.9604" stop-color="#363092"/><stop offset="0.9646" stop-color="#363296"/><stop offset="0.9729" stop-color="#3340b3"/><stop offset="0.9771" stop-color="#264ecc"/><stop offset="0.9812" stop-color="#0462e1"/><stop offset="0.9896" stop-color="#117bd9"/><stop offset="0.9979" stop-color="#137dd8"/></linearGradient><linearGradient id="b19"><stop offset="0.0021" stop-color="#f7da24"/><stop offset="0.0104" stop-color="#f8d627"/><stop offset="0.0146" stop-color="#fec635"/><stop offset="0.0187" stop-color="#e8b94f"/><stop offset="0.0229" stop-color="#bcbd62"/><stop offset="0.0271" stop-color="#87bf77"/><stop offset="0.0312" stop-color="#47bb95"/><stop offset="0.0354" stop-color="#14b0b5"/><stop offset="0.0396" stop-color="#089ad1"/><stop offset="0.0437" stop-color="#0871de"/><stop offset="0.0479" stop-color="#2450cf"/><stop offset="0.0521" stop-color="#105bdd"/><stop offset="0.0563" stop-color="#0364e1"/><stop offset="0.0771" stop-color="#0b5edf"/><stop offset="0.1313" stop-color="#254fcf"/><stop offset="0.1562" stop-color="#2c4ac6"/><stop offset="0.2188" stop-color="#3342b7"/><stop offset="0.3396" stop-color="#3639a4"/><stop offset="0.4854" stop-color="#363399"/><stop offset="0.7229" stop-color="#362f90"/><stop offset="0.9563" stop-color="#362d8d"/><stop offset="0.9646" stop-color="#363296"/><stop offset="0.9688" stop-color="#3637a1"/><stop offset="0.9729" stop-color="#3440b3"/><stop offset="0.9771" stop-color="#274ecc"/><stop offset="0.9812" stop-color="#0562e0"/><stop offset="0.9854" stop-color="#0770df"/><stop offset="0.9896" stop-color="#117ad9"/><stop offset="0.9979" stop-color="#127dd8"/></linearGradient><linearGradient id="b20"><stop offset="0.0021" stop-color="#f5e61c"/><stop offset="0.0104" stop-color="#f5e11f"/><stop offset="0.0146" stop-color="#fbcf2d"/><stop offset="0.0187" stop-color="#f6ba46"/><stop offset="0.0229" stop-color="#cbbb5c"/><stop offset="0.0271" stop-color="#98bf70"/><stop offset="0.0312" stop-color="#58bd8c"/><stop offset="0.0354" stop-color="#1eb3ae"/><stop offset="0.0396" stop-color="#069ece"/><stop offset="0.0437" stop-color="#0b73dd"/><stop offset="0.0479" stop-color="#2053d4"/><stop offset="0.0521" stop-color="#095fdf"/><stop offset="0.0563" stop-color="#0268e1"/><stop offset="0.0604" stop-color="#0562e0"/><stop offset="0.0646" stop-color="#1e54d5"/><stop offset="0.0688" stop-color="#274ecc"/><stop offset="0.1104" stop-color="#3145bd"/><stop offset="0.1437" stop-color="#3440b3"/><stop offset="0.2396" stop-color="#3637a1"/><stop offset="0.3812" stop-color="#363195"/><stop offset="0.8438" stop-color="#352c8a"/><stop offset="0.9521" stop-color="#352c8a"/><stop offset="0.9604" stop-color="#362f8f"/><stop offset="0.9688" stop-color="#3637a1"/><stop offset="0.9729" stop-color="#3440b2"/><stop offset="0.9771" stop-color="#284dcb"/><stop offset="0.9812" stop-color="#0661e0"/><stop offset="0.9854" stop-color="#076fdf"/><stop offset="0.9896" stop-color="#1079da"/><stop offset="0.9979" stop-color="#127cd8"/></linearGradient><linearGradient id="b21"><stop offset="0.0021" stop-color="#f5e81a"/><stop offset="0.0104" stop-color="#f5e31e"/><stop offset="0.0146" stop-color="#fad12b"/><stop offset="0.0187" stop-color="#f9bb43"/><stop offset="0.0229" stop-color="#cfbb5a"/><stop offset="0.0271" stop-color="#9ebe6e"/><stop offset="0.0312" stop-color="#60be88"/><stop offset="0.0354" stop-color="#25b5a9"/><stop offset="0.0396" stop-color="#06a6c7"/><stop offset="0.0437" stop-color="#1388d3"/><stop offset="0.0479" stop-color="#0d75dc"/><stop offset="0.0563" stop-color="#056de0"/><stop offset="0.0604" stop-color="#0265e1"/><stop offset="0.0646" stop-color="#1757d9"/><stop offset="0.0688" stop-color="#2c4ac6"/><stop offset="0.0729" stop-color="#3342b6"/><stop offset="0.1396" stop-color="#3638a3"/><stop offset="0.2271" stop-color="#363298"/><stop offset="0.4271" stop-color="#362e8d"/><stop offset="0.9479" stop-color="#352b88"/><stop offset="0.9604" stop-color="#362e8f"/><stop offset="0.9688" stop-color="#3637a1"/><stop offset="0.9729" stop-color="#343fb2"/><stop offset="0.9771" stop-color="#284dca"/><stop offset="0.9812" stop-color="#0761e0"/><stop offset="0.9854" stop-color="#066fdf"/><stop offset="0.9896" stop-color="#1079da"/><stop offset="0.9979" stop-color="#127cd8"/></linearGradient><linearGradient id="b22"><stop offset="0.0021" stop-color="#f5e120"/><stop offset="0.0104" stop-color="#f6dd22"/><stop offset="0.0146" stop-color="#fdcc2f"/><stop offset="0.0187" stop-color="#f3ba48"/><stop offset="0.0229" stop-color="#cabb5c"/><stop offset="0.0271" stop-color="#9abf6f"/><stop offset="0.0312" stop-color="#5ebe89"/><stop offset="0.0354" stop-color="#26b5a9"/><stop offset="0.0396" stop-color="#07aac2"/><stop offset="0.0437" stop-color="#0899d1"/><stop offset="0.0479" stop-color="#1485d4"/><stop offset="0.0521" stop-color="#117ada"/><stop offset="0.0604" stop-color="#0266e1"/><stop offset="0.0646" stop-color="#1459db"/><stop offset="0.0688" stop-color="#2a4cc9"/><stop offset="0.0729" stop-color="#3243b9"/><stop offset="0.0813" stop-color="#3638a2"/><stop offset="0.0896" stop-color="#3637a0"/><stop offset="0.2229" stop-color="#362f90"/><stop offset="0.4896" stop-color="#352c89"/><stop offset="0.9479" stop-color="#352b88"/><stop offset="0.9604" stop-color="#362e8f"/><stop offset="0.9688" stop-color="#3637a1"/><stop offset="0.9729" stop-color="#343fb1"/><stop offset="0.9771" stop-color="#294cc9"/><stop offset="0.9812" stop-color="#0860e0"/><stop offset="0.9854" stop-color="#066edf"/><stop offset="0.9896" stop-color="#1078da"/><stop offset="0.9979" stop-color="#117bd9"/></linearGradient><linearGradient id="b23"><stop offset="0.0021" stop-color="#f7da24"/><stop offset="0.0104" stop-color="#f8d627"/><stop offset="0.0146" stop-color="#fec734"/><stop offset="0.0187" stop-color="#edb94c"/><stop offset="0.0229" stop-color="#c5bc5e"/><stop offset="0.0271" stop-color="#95bf71"/><stop offset="0.0312" stop-color="#5abd8b"/><stop offset="0.0354" stop-color="#26b5a9"/><stop offset="0.0396" stop-color="#08aac0"/><stop offset="0.0437" stop-color="#079dcf"/><stop offset="0.0479" stop-color="#128ad3"/><stop offset="0.0521" stop-color="#127dd8"/><stop offset="0.0604" stop-color="#0268e1"/><stop offset="0.0646" stop-color="#105bdd"/><stop offset="0.0688" stop-color="#274dcb"/><stop offset="0.0729" stop-color="#3144bb"/><stop offset="0.0813" stop-color="#3639a4"/><stop offset="0.0896" stop-color="#363297"/><stop offset="0.2146" stop-color="#352d8c"/><stop offset="0.4271" stop-color="#352b88"/><stop offset="0.9437" stop-color="#352b87"/><stop offset="0.9563" stop-color="#352d8b"/><stop offset="0.9646" stop-color="#363296"/><stop offset="0.9688" stop-color="#3637a0"/><stop offset="0.9729" stop-color="#343fb1"/><stop offset="0.9771" stop-color="#2a4cc9"/><stop offset="0.9812" stop-color="#0960df"/><stop offset="0.9854" stop-color="#056ee0"/><stop offset="0.9896" stop-color="#0f78db"/><stop offset="0.9979" stop-color="#117bd9"/></linearGradient><linearGradient id="b24"><stop offset="0.0021" stop-color="#f9d329"/><stop offset="0.0104" stop-color="#fbd02c"/><stop offset="0.0146" stop-color="#fec239"/><stop offset="0.0187" stop-color="#e6b94f"/><stop offset="0.0229" stop-color="#bfbc60"/><stop offset="0.0271" stop-color="#91bf73"/><stop offset="0.0312" stop-color="#57bd8d"/><stop offset="0.0354" stop-color="#25b5aa"/><stop offset="0.0396" stop-color="#08aac0"/><stop offset="0.0437" stop-color="#079dcf"/><stop offset="0.0479" stop-color="#128bd2"/><stop offset="0.0521" stop-color="#137dd7"/><stop offset="0.0604" stop-color="#0269e1"/><stop offset="0.0646" stop-color="#0d5dde"/><stop offset="0.0688" stop-color="#254fce"/><stop offset="0.0729" stop-color="#3045bd"/><stop offset="0.0771" stop-color="#343eb0"/><stop offset="0.0854" stop-color="#36359e"/><stop offset="0.0979" stop-color="#362f90"/><stop offset="0.2938" stop-color="#352b88"/><stop offset="0.9437" stop-color="#352b87"/><stop offset="0.9563" stop-color="#352d8b"/><stop offset="0.9646" stop-color="#363196"/><stop offset="0.9688" stop-color="#3637a0"/><stop offset="0.9729" stop-color="#343fb0"/><stop offset="0.9771" stop-color="#2a4bc8"/><stop offset="0.9812" stop-color="#0a5fdf"/><stop offset="0.9854" stop-color="#056de0"/><stop offset="0.9896" stop-color="#0f77db"/><stop offset="0.9979" stop-color="#117ad9"/></linearGradient><linearGradient id="b25"><stop offset="0.0021" stop-color="#fccc2f"/><stop offset="0.0104" stop-color="#fec932"/><stop offset="0.0146" stop-color="#fbbc41"/><stop offset="0.0187" stop-color="#dfba53"/><stop offset="0.0229" stop-color="#b9bd63"/><stop offset="0.0271" stop-color="#8bbf75"/><stop offset="0.0312" stop-color="#53bd8f"/><stop offset="0.0354" stop-color="#23b5ab"/><stop offset="0.0396" stop-color="#08aac1"/><stop offset="0.0437" stop-color="#079dcf"/><stop offset="0.0479" stop-color="#128cd2"/><stop offset="0.0521" stop-color="#137ed7"/><stop offset="0.0604" stop-color="#0269e1"/><stop offset="0.0646" stop-color="#0b5edf"/><stop offset="0.0688" stop-color="#2350d0"/><stop offset="0.0729" stop-color="#2f46bf"/><stop offset="0.0771" stop-color="#343fb2"/><stop offset="0.0813" stop-color="#363aa7"/><stop offset="0.0896" stop-color="#363399"/><stop offset="0.1062" stop-color="#352d8c"/><stop offset="0.3271" stop-color="#352b87"/><stop offset="0.9437" stop-color="#352b87"/><stop offset="0.9563" stop-color="#352c8b"/><stop offset="0.9646" stop-color="#363195"/><stop offset="0.9729" stop-color="#343eb0"/><stop offset="0.9771" stop-color="#2b4bc7"/><stop offset="0.9812" stop-color="#0b5edf"/><stop offset="0.9854" stop-color="#046de0"/><stop offset="0.9896" stop-color="#0e77db"/><stop offset="0.9979" stop-color="#1079da"/></linearGradient><linearGradient id="b26"><stop offset="0.0021" stop-color="#fec03b"/><stop offset="0.0104" stop-color="#f8bb44"/><stop offset="0.0146" stop-color="#eab94d"/><stop offset="0.0187" stop-color="#d2bb59"/><stop offset="0.0229" stop-color="#b0bd66"/><stop offset="0.0271" stop-color="#84bf78"/><stop offset="0.0312" stop-color="#4dbc91"/><stop offset="0.0354" stop-color="#21b4ac"/><stop offset="0.0396" stop-color="#07aac1"/><stop offset="0.0437" stop-color="#079dcf"/><stop offset="0.0479" stop-color="#118cd2"/><stop offset="0.0521" stop-color="#137ed7"/><stop offset="0.0604" stop-color="#036ae1"/><stop offset="0.0646" stop-color="#095fdf"/><stop offset="0.0688" stop-color="#2152d2"/><stop offset="0.0729" stop-color="#2e47c1"/><stop offset="0.0771" stop-color="#3340b3"/><stop offset="0.0854" stop-color="#3637a0"/><stop offset="0.0938" stop-color="#363195"/><stop offset="0.1021" stop-color="#362e8e"/><stop offset="0.1187" stop-color="#352b89"/><stop offset="0.9437" stop-color="#352b87"/><stop offset="0.9563" stop-color="#352c8b"/><stop offset="0.9646" stop-color="#363195"/><stop offset="0.9688" stop-color="#36369f"/><stop offset="0.9729" stop-color="#353eaf"/><stop offset="0.9771" stop-color="#2c4ac5"/><stop offset="0.9812" stop-color="#0d5dde"/><stop offset="0.9854" stop-color="#046ce0"/><stop offset="0.9896" stop-color="#0d75dc"/><stop offset="0.9979" stop-color="#0f78db"/></linearGradient><linearGradient id="b27"><stop offset="0.0021" stop-color="#d5bb58"/><stop offset="0.0063" stop-color="#b3bd65"/><stop offset="0.0104" stop-color="#a7be6a"/><stop offset="0.0146" stop-color="#b5bd64"/><stop offset="0.0187" stop-color="#b8bd63"/><stop offset="0.0229" stop-color="#a0be6d"/><stop offset="0.0271" stop-color="#78bf7d"/><stop offset="0.0312" stop-color="#46bb96"/><stop offset="0.0354" stop-color="#1db3af"/><stop offset="0.0396" stop-color="#07a9c2"/><stop offset="0.0437" stop-color="#079dcf"/><stop offset="0.0479" stop-color="#128cd2"/><stop offset="0.0521" stop-color="#137ed7"/><stop offset="0.0604" stop-color="#036be1"/><stop offset="0.0646" stop-color="#0860e0"/><stop offset="0.0688" stop-color="#2053d4"/><stop offset="0.0729" stop-color="#2d48c3"/><stop offset="0.0771" stop-color="#3341b5"/><stop offset="0.0854" stop-color="#3637a1"/><stop offset="0.0938" stop-color="#363296"/><stop offset="0.1021" stop-color="#362e8f"/><stop offset="0.1187" stop-color="#352b89"/><stop offset="0.9437" stop-color="#352b87"/><stop offset="0.9563" stop-color="#352c8b"/><stop offset="0.9646" stop-color="#363195"/><stop offset="0.9729" stop-color="#353dae"/><stop offset="0.9771" stop-color="#2d49c4"/><stop offset="0.9812" stop-color="#0f5cdd"/><stop offset="0.9854" stop-color="#036be1"/><stop offset="0.9896" stop-color="#0c74dd"/><stop offset="0.9979" stop-color="#0e77db"/></linearGradient><linearGradient id="b28"><stop offset="0.0021" stop-color="#6bbe83"/><stop offset="0.0063" stop-color="#07aac1"/><stop offset="0.0104" stop-color="#06a1cc"/><stop offset="0.0146" stop-color="#2fb7a3"/><stop offset="0.0187" stop-color="#82bf79"/><stop offset="0.0229" stop-color="#87bf77"/><stop offset="0.0271" stop-color="#67be85"/><stop offset="0.0312" stop-color="#3cba9b"/><stop offset="0.0354" stop-color="#19b2b2"/><stop offset="0.0396" stop-color="#06a8c4"/><stop offset="0.0437" stop-color="#079cd0"/><stop offset="0.0479" stop-color="#128bd2"/><stop offset="0.0521" stop-color="#137ed7"/><stop offset="0.0604" stop-color="#036be0"/><stop offset="0.0646" stop-color="#0761e0"/><stop offset="0.0688" stop-color="#1e54d5"/><stop offset="0.0729" stop-color="#2d49c4"/><stop offset="0.0771" stop-color="#3342b6"/><stop offset="0.0854" stop-color="#3638a3"/><stop offset="0.0938" stop-color="#363297"/><stop offset="0.1062" stop-color="#362d8d"/><stop offset="0.1229" stop-color="#352b89"/><stop offset="0.9437" stop-color="#352b87"/><stop offset="0.9563" stop-color="#352c8b"/><stop offset="0.9646" stop-color="#363194"/><stop offset="0.9729" stop-color="#353dad"/><stop offset="0.9771" stop-color="#2e48c2"/><stop offset="0.9812" stop-color="#125adc"/><stop offset="0.9854" stop-color="#026ae1"/><stop offset="0.9896" stop-color="#0b73dd"/><stop offset="0.9979" stop-color="#0d76dc"/></linearGradient><linearGradient id="b29"><stop offset="0.0021" stop-color="#0dadbb"/><stop offset="0.0063" stop-color="#0971de"/><stop offset="0.0104" stop-color="#0d5dde"/><stop offset="0.0146" stop-color="#089ad0"/><stop offset="0.0187" stop-color="#42bb98"/><stop offset="0.0229" stop-color="#67be85"/><stop offset="0.0271" stop-color="#54bd8e"/><stop offset="0.0354" stop-color="#15b0b5"/><stop offset="0.0396" stop-color="#06a7c5"/><stop offset="0.0437" stop-color="#079bd0"/><stop offset="0.0479" stop-color="#128bd2"/><stop offset="0.0521" stop-color="#137ed7"/><stop offset="0.0604" stop-color="#036be0"/><stop offset="0.0646" stop-color="#0561e0"/><stop offset="0.0688" stop-color="#1c55d6"/><stop offset="0.0729" stop-color="#2c4ac6"/><stop offset="0.0771" stop-color="#3242b8"/><stop offset="0.0813" stop-color="#353dac"/><stop offset="0.0938" stop-color="#363297"/><stop offset="0.1021" stop-color="#362f90"/><stop offset="0.1229" stop-color="#352b89"/><stop offset="0.9437" stop-color="#352b87"/><stop offset="0.9604" stop-color="#362e8e"/><stop offset="0.9688" stop-color="#36359d"/><stop offset="0.9729" stop-color="#353cac"/><stop offset="0.9771" stop-color="#2e47c1"/><stop offset="0.9812" stop-color="#1559da"/><stop offset="0.9854" stop-color="#0269e1"/><stop offset="0.9896" stop-color="#0a72de"/><stop offset="0.9979" stop-color="#0c75dd"/></linearGradient><linearGradient id="b30"><stop offset="0.0021" stop-color="#0bacbd"/><stop offset="0.0063" stop-color="#137ed7"/><stop offset="0.0104" stop-color="#0c74dd"/><stop offset="0.0146" stop-color="#06a1cd"/><stop offset="0.0187" stop-color="#3dba9b"/><stop offset="0.0229" stop-color="#60be88"/><stop offset="0.0271" stop-color="#53bd8f"/><stop offset="0.0354" stop-color="#18b1b2"/><stop offset="0.0396" stop-color="#07a9c3"/><stop offset="0.0437" stop-color="#079dcf"/><stop offset="0.0479" stop-color="#118dd2"/><stop offset="0.0521" stop-color="#1480d6"/><stop offset="0.0604" stop-color="#046de0"/><stop offset="0.0646" stop-color="#0363e1"/><stop offset="0.0688" stop-color="#1857d8"/><stop offset="0.0729" stop-color="#2a4bc8"/><stop offset="0.0771" stop-color="#3243ba"/><stop offset="0.0854" stop-color="#3639a5"/><stop offset="0.0938" stop-color="#363398"/><stop offset="0.1062" stop-color="#362e8e"/><stop offset="0.1229" stop-color="#352b89"/><stop offset="0.9437" stop-color="#352b87"/><stop offset="0.9604" stop-color="#362e8e"/><stop offset="0.9688" stop-color="#36359d"/><stop offset="0.9729" stop-color="#353cab"/><stop offset="0.9771" stop-color="#2f47c0"/><stop offset="0.9812" stop-color="#1757d9"/><stop offset="0.9854" stop-color="#0268e1"/><stop offset="0.9896" stop-color="#0971de"/><stop offset="0.9979" stop-color="#0b73dd"/></linearGradient><linearGradient id="b31"><stop offset="0.0021" stop-color="#36b99f"/><stop offset="0.0063" stop-color="#0badbc"/><stop offset="0.0104" stop-color="#09abbf"/><stop offset="0.0146" stop-color="#2ab6a6"/><stop offset="0.0187" stop-color="#5dbe8a"/><stop offset="0.0229" stop-color="#6abe83"/><stop offset="0.0271" stop-color="#59bd8b"/><stop offset="0.0354" stop-color="#1bb2b0"/><stop offset="0.0396" stop-color="#07a9c2"/><stop offset="0.0437" stop-color="#069ece"/><stop offset="0.0479" stop-color="#108ed2"/><stop offset="0.0521" stop-color="#1481d6"/><stop offset="0.0604" stop-color="#056de0"/><stop offset="0.0646" stop-color="#0364e1"/><stop offset="0.0688" stop-color="#1758d9"/><stop offset="0.0729" stop-color="#294cc9"/><stop offset="0.0771" stop-color="#3244ba"/><stop offset="0.0854" stop-color="#3639a5"/><stop offset="0.0938" stop-color="#363398"/><stop offset="0.1062" stop-color="#362e8e"/><stop offset="0.1229" stop-color="#352b89"/><stop offset="0.9437" stop-color="#352b87"/><stop offset="0.9604" stop-color="#362e8e"/><stop offset="0.9688" stop-color="#36359c"/><stop offset="0.9729" stop-color="#353caa"/><stop offset="0.9771" stop-color="#3046be"/><stop offset="0.9812" stop-color="#1a56d7"/><stop offset="0.9854" stop-color="#0266e1"/><stop offset="0.9896" stop-color="#0770df"/><stop offset="0.9979" stop-color="#0a72de"/></linearGradient><linearGradient id="b32"><stop offset="0.0021" stop-color="#8bbf75"/><stop offset="0.0063" stop-color="#76bf7e"/><stop offset="0.0104" stop-color="#78bf7d"/><stop offset="0.0146" stop-color="#85bf78"/><stop offset="0.0187" stop-color="#8cbf75"/><stop offset="0.0229" stop-color="#82bf79"/><stop offset="0.0271" stop-color="#67be85"/><stop offset="0.0354" stop-color="#1fb3ad"/><stop offset="0.0396" stop-color="#08aac0"/><stop offset="0.0437" stop-color="#069fce"/><stop offset="0.0521" stop-color="#1482d5"/><stop offset="0.0604" stop-color="#056ee0"/><stop offset="0.0646" stop-color="#0364e1"/><stop offset="0.0688" stop-color="#1558da"/><stop offset="0.0729" stop-color="#294cca"/><stop offset="0.0771" stop-color="#3144bb"/><stop offset="0.0896" stop-color="#36369e"/><stop offset="0.0979" stop-color="#363194"/><stop offset="0.1229" stop-color="#352b89"/><stop offset="0.9437" stop-color="#352b87"/><stop offset="0.9604" stop-color="#362e8e"/><stop offset="0.9646" stop-color="#363093"/><stop offset="0.9729" stop-color="#353ba9"/><stop offset="0.9771" stop-color="#3045bd"/><stop offset="0.9812" stop-color="#1d54d5"/><stop offset="0.9854" stop-color="#0265e1"/><stop offset="0.9896" stop-color="#066fdf"/><stop offset="0.9979" stop-color="#0871de"/></linearGradient><linearGradient id="b33"><stop offset="0.0021" stop-color="#cabb5c"/><stop offset="0.0104" stop-color="#c5bc5e"/><stop offset="0.0146" stop-color="#bebc61"/><stop offset="0.0187" stop-color="#b0bd66"/><stop offset="0.0229" stop-color="#99bf70"/><stop offset="0.0271" stop-color="#77bf7e"/><stop offset="0.0354" stop-color="#23b5ab"/><stop offset="0.0396" stop-color="#09abbf"/><stop offset="0.0437" stop-color="#06a0cd"/><stop offset="0.0521" stop-color="#1482d5"/><stop offset="0.0646" stop-color="#0265e1"/><stop offset="0.0688" stop-color="#1459db"/><stop offset="0.0729" stop-color="#284dcb"/><stop offset="0.0771" stop-color="#3145bc"/><stop offset="0.0813" stop-color="#343eb0"/><stop offset="0.0854" stop-color="#363aa6"/><stop offset="0.0979" stop-color="#363194"/><stop offset="0.1229" stop-color="#352b89"/><stop offset="0.9437" stop-color="#352b87"/><stop offset="0.9604" stop-color="#362e8e"/><stop offset="0.9688" stop-color="#36349b"/><stop offset="0.9729" stop-color="#353ba8"/><stop offset="0.9771" stop-color="#3144bb"/><stop offset="0.9812" stop-color="#2053d4"/><stop offset="0.9854" stop-color="#0364e1"/><stop offset="0.9896" stop-color="#056ee0"/><stop offset="0.9979" stop-color="#0770df"/></linearGradient><linearGradient id="b34"><stop offset="0.0021" stop-color="#efb94b"/><stop offset="0.0104" stop-color="#ebb94d"/><stop offset="0.0146" stop-color="#ddba54"/><stop offset="0.0187" stop-color="#c7bc5d"/><stop offset="0.0229" stop-color="#a9be69"/><stop offset="0.0271" stop-color="#82bf79"/><stop offset="0.0312" stop-color="#52bd8f"/><stop offset="0.0354" stop-color="#27b5a9"/><stop offset="0.0396" stop-color="#0aacbd"/><stop offset="0.0437" stop-color="#06a1cc"/><stop offset="0.0521" stop-color="#1483d5"/><stop offset="0.0646" stop-color="#0265e1"/><stop offset="0.0688" stop-color="#135adb"/><stop offset="0.0729" stop-color="#274dcb"/><stop offset="0.0771" stop-color="#3145bc"/><stop offset="0.0854" stop-color="#363aa7"/><stop offset="0.0938" stop-color="#363399"/><stop offset="0.1062" stop-color="#362e8e"/><stop offset="0.1229" stop-color="#352b89"/><stop offset="0.9437" stop-color="#352b87"/><stop offset="0.9604" stop-color="#362d8d"/><stop offset="0.9646" stop-color="#363092"/><stop offset="0.9729" stop-color="#363aa7"/><stop offset="0.9771" stop-color="#3243ba"/><stop offset="0.9812" stop-color="#2251d2"/><stop offset="0.9854" stop-color="#0363e1"/><stop offset="0.9896" stop-color="#046ce0"/><stop offset="0.9979" stop-color="#066fdf"/></linearGradient><linearGradient id="b35"><stop offset="0.0021" stop-color="#fec03c"/><stop offset="0.0104" stop-color="#fcbd3f"/><stop offset="0.0146" stop-color="#eeb94b"/><stop offset="0.0187" stop-color="#d4bb58"/><stop offset="0.0229" stop-color="#b3bd65"/><stop offset="0.0271" stop-color="#8abf76"/><stop offset="0.0312" stop-color="#57bd8c"/><stop offset="0.0354" stop-color="#2ab6a7"/><stop offset="0.0396" stop-color="#0cadbc"/><stop offset="0.0437" stop-color="#06a2cc"/><stop offset="0.0521" stop-color="#1484d4"/><stop offset="0.0646" stop-color="#0266e1"/><stop offset="0.0688" stop-color="#125adc"/><stop offset="0.0729" stop-color="#274ecc"/><stop offset="0.0771" stop-color="#3045bd"/><stop offset="0.0854" stop-color="#363aa7"/><stop offset="0.0938" stop-color="#363399"/><stop offset="0.1104" stop-color="#352d8c"/><stop offset="0.1229" stop-color="#352b89"/><stop offset="0.9437" stop-color="#352b87"/><stop offset="0.9604" stop-color="#362d8d"/><stop offset="0.9688" stop-color="#36349a"/><stop offset="0.9729" stop-color="#363aa6"/><stop offset="0.9771" stop-color="#3243b8"/><stop offset="0.9812" stop-color="#2450d0"/><stop offset="0.9854" stop-color="#0661e0"/><stop offset="0.9896" stop-color="#036be0"/><stop offset="0.9979" stop-color="#056de0"/></linearGradient><linearGradient id="b36"><stop offset="0.0021" stop-color="#fec635"/><stop offset="0.0104" stop-color="#ffc337"/><stop offset="0.0146" stop-color="#f5ba46"/><stop offset="0.0187" stop-color="#daba55"/><stop offset="0.0229" stop-color="#b8bd63"/><stop offset="0.0271" stop-color="#8fbf74"/><stop offset="0.0312" stop-color="#5cbe8a"/><stop offset="0.0354" stop-color="#2cb7a5"/><stop offset="0.0396" stop-color="#0dadbb"/><stop offset="0.0437" stop-color="#06a3cb"/><stop offset="0.0521" stop-color="#1484d4"/><stop offset="0.0646" stop-color="#0266e1"/><stop offset="0.0688" stop-color="#115bdc"/><stop offset="0.0729" stop-color="#264ecd"/><stop offset="0.0771" stop-color="#3045bd"/><stop offset="0.0854" stop-color="#363aa7"/><stop offset="0.0938" stop-color="#363399"/><stop offset="0.1021" stop-color="#362f91"/><stop offset="0.1229" stop-color="#352b89"/><stop offset="0.9437" stop-color="#352b87"/><stop offset="0.9563" stop-color="#352c8a"/><stop offset="0.9646" stop-color="#363092"/><stop offset="0.9729" stop-color="#3639a5"/><stop offset="0.9771" stop-color="#3342b7"/><stop offset="0.9812" stop-color="#254fcd"/><stop offset="0.9854" stop-color="#095fdf"/><stop offset="0.9896" stop-color="#026ae1"/><stop offset="0.9979" stop-color="#046ce0"/></linearGradient><linearGradient id="b37"><stop offset="0.0021" stop-color="#fec931"/><stop offset="0.0104" stop-color="#fec734"/><stop offset="0.0146" stop-color="#f9bb43"/><stop offset="0.0187" stop-color="#dfba53"/><stop offset="0.0229" stop-color="#bcbd62"/><stop offset="0.0271" stop-color="#93bf72"/><stop offset="0.0312" stop-color="#60be88"/><stop offset="0.0354" stop-color="#2fb7a3"/><stop offset="0.0396" stop-color="#0eaeba"/><stop offset="0.0437" stop-color="#06a3ca"/><stop offset="0.0479" stop-color="#0b94d2"/><stop offset="0.0521" stop-color="#1485d4"/><stop offset="0.0563" stop-color="#117ada"/><stop offset="0.0646" stop-color="#0267e1"/><stop offset="0.0688" stop-color="#105bdd"/><stop offset="0.0729" stop-color="#264fcd"/><stop offset="0.0771" stop-color="#3046be"/><stop offset="0.0813" stop-color="#343fb1"/><stop offset="0.0854" stop-color="#363aa7"/><stop offset="0.0979" stop-color="#363195"/><stop offset="0.1229" stop-color="#352b89"/><stop offset="0.9437" stop-color="#352b87"/><stop offset="0.9563" stop-color="#352c8a"/><stop offset="0.9646" stop-color="#362f91"/><stop offset="0.9688" stop-color="#363399"/><stop offset="0.9771" stop-color="#3341b5"/><stop offset="0.9812" stop-color="#274dcb"/><stop offset="0.9854" stop-color="#0b5ede"/><stop offset="0.9896" stop-color="#0269e1"/><stop offset="0.9979" stop-color="#036be1"/></linearGradient><linearGradient id="b38"><stop offset="0.0021" stop-color="#fec733"/><stop offset="0.0104" stop-color="#fec536"/><stop offset="0.0146" stop-color="#f7ba45"/><stop offset="0.0187" stop-color="#dcba54"/><stop offset="0.0229" stop-color="#babd63"/><stop offset="0.0271" stop-color="#90bf73"/><stop offset="0.0312" stop-color="#5dbe8a"/><stop offset="0.0354" stop-color="#2db7a4"/><stop offset="0.0396" stop-color="#0daebb"/><stop offset="0.0437" stop-color="#06a3cb"/><stop offset="0.0521" stop-color="#1484d4"/><stop offset="0.0646" stop-color="#0266e1"/><stop offset="0.0688" stop-color="#115bdd"/><stop offset="0.0729" stop-color="#264ecd"/><stop offset="0.0771" stop-color="#3046bd"/><stop offset="0.0813" stop-color="#343fb1"/><stop offset="0.0896" stop-color="#36369f"/><stop offset="0.0979" stop-color="#363195"/><stop offset="0.1229" stop-color="#352b89"/><stop offset="0.9437" stop-color="#352b87"/><stop offset="0.9563" stop-color="#352c8a"/><stop offset="0.9646" stop-color="#362f91"/><stop offset="0.9688" stop-color="#363398"/><stop offset="0.9771" stop-color="#3340b4"/><stop offset="0.9812" stop-color="#294cc9"/><stop offset="0.9854" stop-color="#0e5cde"/><stop offset="0.9896" stop-color="#0267e1"/><stop offset="0.9979" stop-color="#0269e1"/></linearGradient><linearGradient id="b39"><stop offset="0.0021" stop-color="#fec13a"/><stop offset="0.0104" stop-color="#fdbe3d"/><stop offset="0.0146" stop-color="#efb94b"/><stop offset="0.0187" stop-color="#d3bb58"/><stop offset="0.0229" stop-color="#b1bd66"/><stop offset="0.0271" stop-color="#87bf77"/><stop offset="0.0312" stop-color="#53bd8e"/><stop offset="0.0354" stop-color="#27b5a8"/><stop offset="0.0396" stop-color="#0aacbd"/><stop offset="0.0437" stop-color="#06a1cc"/><stop offset="0.0521" stop-color="#1483d5"/><stop offset="0.0646" stop-color="#0265e1"/><stop offset="0.0688" stop-color="#1359db"/><stop offset="0.0729" stop-color="#284dcb"/><stop offset="0.0771" stop-color="#3145bc"/><stop offset="0.0854" stop-color="#363aa6"/><stop offset="0.0938" stop-color="#363399"/><stop offset="0.1062" stop-color="#362e8e"/><stop offset="0.1229" stop-color="#352b89"/><stop offset="0.9437" stop-color="#352b87"/><stop offset="0.9521" stop-color="#352b88"/><stop offset="0.9646" stop-color="#362f91"/><stop offset="0.9688" stop-color="#363398"/><stop offset="0.9771" stop-color="#3440b2"/><stop offset="0.9812" stop-color="#2b4bc7"/><stop offset="0.9854" stop-color="#125adc"/><stop offset="0.9896" stop-color="#0266e1"/><stop offset="0.9979" stop-color="#0268e1"/></linearGradient><linearGradient id="b40"><stop offset="0.0021" stop-color="#fabc42"/><stop offset="0.0104" stop-color="#f7ba45"/><stop offset="0.0146" stop-color="#e5b950"/><stop offset="0.0187" stop-color="#c9bb5c"/><stop offset="0.0229" stop-color="#a7be6a"/><stop offset="0.0271" stop-color="#7bbf7c"/><stop offset="0.0312" stop-color="#49bb94"/><stop offset="0.0354" stop-color="#20b4ad"/><stop offset="0.0396" stop-color="#08aac1"/><stop offset="0.0437" stop-color="#069ece"/><stop offset="0.0479" stop-color="#108fd2"/><stop offset="0.0521" stop-color="#1481d6"/><stop offset="0.0604" stop-color="#056de0"/><stop offset="0.0646" stop-color="#0364e1"/><stop offset="0.0688" stop-color="#1857d8"/><stop offset="0.0729" stop-color="#2a4cc8"/><stop offset="0.0771" stop-color="#3244ba"/><stop offset="0.0854" stop-color="#3639a5"/><stop offset="0.0938" stop-color="#363398"/><stop offset="0.1062" stop-color="#362e8e"/><stop offset="0.1229" stop-color="#352b89"/><stop offset="0.9437" stop-color="#352b87"/><stop offset="0.9521" stop-color="#352b88"/><stop offset="0.9646" stop-color="#362f91"/><stop offset="0.9688" stop-color="#363297"/><stop offset="0.9771" stop-color="#343fb2"/><stop offset="0.9812" stop-color="#2c4ac6"/><stop offset="0.9854" stop-color="#1459db"/><stop offset="0.9896" stop-color="#0265e1"/><stop offset="0.9979" stop-color="#0267e1"/></linearGradient><linearGradient id="b41"><stop offset="0.0021" stop-color="#f1b949"/><stop offset="0.0104" stop-color="#edb94c"/><stop offset="0.0146" stop-color="#dbba55"/><stop offset="0.0187" stop-color="#bfbc60"/><stop offset="0.0229" stop-color="#9cbf6e"/><stop offset="0.0271" stop-color="#6fbf81"/><stop offset="0.0312" stop-color="#3dba9a"/><stop offset="0.0354" stop-color="#18b1b2"/><stop offset="0.0396" stop-color="#06a8c4"/><stop offset="0.0437" stop-color="#079bd0"/><stop offset="0.0479" stop-color="#128bd2"/><stop offset="0.0521" stop-color="#137ed7"/><stop offset="0.0604" stop-color="#036be0"/><stop offset="0.0646" stop-color="#0661e0"/><stop offset="0.0688" stop-color="#1e54d5"/><stop offset="0.0729" stop-color="#2d49c4"/><stop offset="0.0771" stop-color="#3342b7"/><stop offset="0.0854" stop-color="#3638a3"/><stop offset="0.0938" stop-color="#363297"/><stop offset="0.1062" stop-color="#362e8d"/><stop offset="0.1229" stop-color="#352b89"/><stop offset="0.9437" stop-color="#352b87"/><stop offset="0.9521" stop-color="#352b88"/><stop offset="0.9646" stop-color="#362f91"/><stop offset="0.9688" stop-color="#363297"/><stop offset="0.9771" stop-color="#343fb1"/><stop offset="0.9812" stop-color="#2c4ac6"/><stop offset="0.9854" stop-color="#1459da"/><stop offset="0.9896" stop-color="#0365e1"/><stop offset="0.9979" stop-color="#0267e1"/></linearGradient><linearGradient id="b42"><stop offset="0.0021" stop-color="#e7b94f"/><stop offset="0.0104" stop-color="#e3b951"/><stop offset="0.0146" stop-color="#d1bb59"/><stop offset="0.0187" stop-color="#b5bd65"/><stop offset="0.0229" stop-color="#90bf73"/><stop offset="0.0271" stop-color="#62be87"/><stop offset="0.0312" stop-color="#33b8a1"/><stop offset="0.0354" stop-color="#12afb7"/><stop offset="0.0396" stop-color="#06a5c8"/><stop offset="0.0437" stop-color="#0998d1"/><stop offset="0.0479" stop-color="#1388d3"/><stop offset="0.0521" stop-color="#127cd8"/><stop offset="0.0604" stop-color="#0269e1"/><stop offset="0.0646" stop-color="#0b5ede"/><stop offset="0.0688" stop-color="#2251d1"/><stop offset="0.0729" stop-color="#2e47c1"/><stop offset="0.0771" stop-color="#3340b4"/><stop offset="0.0896" stop-color="#36349a"/><stop offset="0.1021" stop-color="#362e8f"/><stop offset="0.1187" stop-color="#352b89"/><stop offset="0.9437" stop-color="#352b87"/><stop offset="0.9521" stop-color="#352b88"/><stop offset="0.9646" stop-color="#362f90"/><stop offset="0.9688" stop-color="#363297"/><stop offset="0.9771" stop-color="#343fb1"/><stop offset="0.9812" stop-color="#2c4ac5"/><stop offset="0.9854" stop-color="#1559da"/><stop offset="0.9896" stop-color="#0364e1"/><stop offset="0.9979" stop-color="#0267e1"/></linearGradient><linearGradient id="b43"><stop offset="0.0021" stop-color="#dcba54"/><stop offset="0.0104" stop-color="#d8ba56"/><stop offset="0.0146" stop-color="#c5bc5e"/><stop offset="0.0187" stop-color="#a9be69"/><stop offset="0.0229" stop-color="#83bf79"/><stop offset="0.0312" stop-color="#29b6a7"/><stop offset="0.0354" stop-color="#0cadbc"/><stop offset="0.0396" stop-color="#06a2cb"/><stop offset="0.0479" stop-color="#1484d4"/><stop offset="0.0604" stop-color="#0266e1"/><stop offset="0.0646" stop-color="#115bdc"/><stop offset="0.0688" stop-color="#264ecc"/><stop offset="0.0729" stop-color="#3045bd"/><stop offset="0.0813" stop-color="#363aa7"/><stop offset="0.0938" stop-color="#363194"/><stop offset="0.1187" stop-color="#352b89"/><stop offset="0.9437" stop-color="#352b87"/><stop offset="0.9521" stop-color="#352b88"/><stop offset="0.9646" stop-color="#362f90"/><stop offset="0.9688" stop-color="#363297"/><stop offset="0.9771" stop-color="#343fb1"/><stop offset="0.9812" stop-color="#2c49c5"/><stop offset="0.9854" stop-color="#1558da"/><stop offset="0.9896" stop-color="#0364e1"/><stop offset="0.9979" stop-color="#0266e1"/></linearGradient><linearGradient id="b44"><stop offset="0.0021" stop-color="#d0bb5a"/><stop offset="0.0104" stop-color="#ccbb5b"/><stop offset="0.0146" stop-color="#b9bd63"/><stop offset="0.0187" stop-color="#9cbf6f"/><stop offset="0.0229" stop-color="#74bf7f"/><stop offset="0.0271" stop-color="#45bb96"/><stop offset="0.0312" stop-color="#1fb3ad"/><stop offset="0.0354" stop-color="#08aac1"/><stop offset="0.0396" stop-color="#069fce"/><stop offset="0.0479" stop-color="#1481d6"/><stop offset="0.0563" stop-color="#056de0"/><stop offset="0.0604" stop-color="#0364e1"/><stop offset="0.0646" stop-color="#1857d8"/><stop offset="0.0688" stop-color="#2b4bc8"/><stop offset="0.0729" stop-color="#3243b9"/><stop offset="0.0813" stop-color="#3639a4"/><stop offset="0.0896" stop-color="#363297"/><stop offset="0.1021" stop-color="#362e8d"/><stop offset="0.1187" stop-color="#352b89"/><stop offset="0.9437" stop-color="#352b87"/><stop offset="0.9521" stop-color="#352b88"/><stop offset="0.9646" stop-color="#362f90"/><stop offset="0.9688" stop-color="#363297"/><stop offset="0.9771" stop-color="#343fb1"/><stop offset="0.9812" stop-color="#2d49c5"/><stop offset="0.9854" stop-color="#1658d9"/><stop offset="0.9896" stop-color="#0364e1"/><stop offset="0.9979" stop-color="#0266e1"/></linearGradient><linearGradient id="b45"><stop offset="0.0021" stop-color="#c3bc5f"/><stop offset="0.0104" stop-color="#bfbc60"/><stop offset="0.0146" stop-color="#acbe68"/><stop offset="0.0187" stop-color="#8ebf74"/><stop offset="0.0229" stop-color="#64be86"/><stop offset="0.0271" stop-color="#38b99e"/><stop offset="0.0312" stop-color="#16b1b4"/><stop offset="0.0354" stop-color="#06a7c5"/><stop offset="0.0396" stop-color="#079bd0"/><stop offset="0.0437" stop-color="#128bd2"/><stop offset="0.0479" stop-color="#137ed7"/><stop offset="0.0563" stop-color="#036be1"/><stop offset="0.0604" stop-color="#0760e0"/><stop offset="0.0646" stop-color="#1f53d4"/><stop offset="0.0688" stop-color="#2d49c3"/><stop offset="0.0729" stop-color="#3341b6"/><stop offset="0.0771" stop-color="#353caa"/><stop offset="0.0896" stop-color="#363296"/><stop offset="0.0979" stop-color="#362e8f"/><stop offset="0.1146" stop-color="#352b89"/><stop offset="0.9437" stop-color="#352b87"/><stop offset="0.9521" stop-color="#352b88"/><stop offset="0.9646" stop-color="#362f90"/><stop offset="0.9729" stop-color="#3637a1"/><stop offset="0.9771" stop-color="#343fb0"/><stop offset="0.9812" stop-color="#2d49c4"/><stop offset="0.9854" stop-color="#1658d9"/><stop offset="0.9896" stop-color="#0364e1"/><stop offset="0.9979" stop-color="#0266e1"/></linearGradient><linearGradient id="b46"><stop offset="0.0021" stop-color="#b6bd64"/><stop offset="0.0104" stop-color="#b2bd66"/><stop offset="0.0146" stop-color="#9ebe6e"/><stop offset="0.0187" stop-color="#7ebf7a"/><stop offset="0.0229" stop-color="#54bd8e"/><stop offset="0.0271" stop-color="#2cb7a5"/><stop offset="0.0312" stop-color="#0faeb9"/><stop offset="0.0354" stop-color="#06a4c9"/><stop offset="0.0396" stop-color="#0a97d1"/><stop offset="0.0437" stop-color="#1487d3"/><stop offset="0.0479" stop-color="#127bd9"/><stop offset="0.0563" stop-color="#0268e1"/><stop offset="0.0604" stop-color="#0d5dde"/><stop offset="0.0646" stop-color="#2450cf"/><stop offset="0.0688" stop-color="#2f46bf"/><stop offset="0.0729" stop-color="#3440b2"/><stop offset="0.0813" stop-color="#3636a0"/><stop offset="0.0938" stop-color="#362f91"/><stop offset="0.1187" stop-color="#352b88"/><stop offset="0.1562" stop-color="#352a87"/><stop offset="0.9437" stop-color="#352b87"/><stop offset="0.9521" stop-color="#352b88"/><stop offset="0.9646" stop-color="#362f90"/><stop offset="0.9729" stop-color="#3637a1"/><stop offset="0.9771" stop-color="#343fb0"/><stop offset="0.9812" stop-color="#2d49c4"/><stop offset="0.9854" stop-color="#1757d9"/><stop offset="0.9896" stop-color="#0363e1"/><stop offset="0.9979" stop-color="#0266e1"/></linearGradient><linearGradient id="b47"><stop offset="0.0021" stop-color="#a8be6a"/><stop offset="0.0104" stop-color="#a4be6b"/><stop offset="0.0146" stop-color="#8fbf73"/><stop offset="0.0187" stop-color="#6ebf81"/><stop offset="0.0229" stop-color="#45bb96"/><stop offset="0.0271" stop-color="#22b4ac"/><stop offset="0.0312" stop-color="#09abbe"/><stop offset="0.0354" stop-color="#06a1cc"/><stop offset="0.0437" stop-color="#1483d5"/><stop offset="0.0563" stop-color="#0265e1"/><stop offset="0.0604" stop-color="#1459db"/><stop offset="0.0646" stop-color="#284dcb"/><stop offset="0.0729" stop-color="#353eaf"/><stop offset="0.0771" stop-color="#3639a5"/><stop offset="0.0896" stop-color="#363093"/><stop offset="0.1062" stop-color="#352c8a"/><stop offset="0.1187" stop-color="#352b88"/><stop offset="0.9521" stop-color="#352b88"/><stop offset="0.9646" stop-color="#362f90"/><stop offset="0.9729" stop-color="#3637a1"/><stop offset="0.9771" stop-color="#343fb0"/><stop offset="0.9812" stop-color="#2d49c4"/><stop offset="0.9854" stop-color="#1857d9"/><stop offset="0.9896" stop-color="#0363e1"/><stop offset="0.9979" stop-color="#0266e1"/></linearGradient><linearGradient id="b48"><stop offset="0.0021" stop-color="#9ebe6d"/><stop offset="0.0104" stop-color="#9abf6f"/><stop offset="0.0146" stop-color="#85bf78"/><stop offset="0.0187" stop-color="#62be87"/><stop offset="0.0229" stop-color="#3bb99c"/><stop offset="0.0271" stop-color="#1ab2b1"/><stop offset="0.0312" stop-color="#07a9c2"/><stop offset="0.0354" stop-color="#079ecf"/><stop offset="0.0437" stop-color="#1480d6"/><stop offset="0.0521" stop-color="#046de0"/><stop offset="0.0563" stop-color="#0462e1"/><stop offset="0.0604" stop-color="#1b55d6"/><stop offset="0.0646" stop-color="#2c4ac6"/><stop offset="0.0688" stop-color="#3342b7"/><stop offset="0.0729" stop-color="#353cab"/><stop offset="0.0813" stop-color="#36349b"/><stop offset="0.0938" stop-color="#362e8f"/><stop offset="0.7021" stop-color="#352c8a"/><stop offset="0.9604" stop-color="#352d8d"/><stop offset="0.9688" stop-color="#363297"/><stop offset="0.9771" stop-color="#343eb0"/><stop offset="0.9812" stop-color="#2d49c3"/><stop offset="0.9854" stop-color="#1857d8"/><stop offset="0.9896" stop-color="#0363e1"/><stop offset="0.9979" stop-color="#0265e1"/></linearGradient><linearGradient id="b49"><stop offset="0.0021" stop-color="#99bf70"/><stop offset="0.0104" stop-color="#95bf71"/><stop offset="0.0146" stop-color="#7ebf7b"/><stop offset="0.0229" stop-color="#34b8a0"/><stop offset="0.0271" stop-color="#15b0b5"/><stop offset="0.0312" stop-color="#06a7c5"/><stop offset="0.0354" stop-color="#089bd0"/><stop offset="0.0396" stop-color="#128ad3"/><stop offset="0.0437" stop-color="#137ed7"/><stop offset="0.0521" stop-color="#036ae1"/><stop offset="0.0563" stop-color="#0a5fdf"/><stop offset="0.0604" stop-color="#2251d2"/><stop offset="0.0646" stop-color="#2f47c0"/><stop offset="0.0688" stop-color="#3440b3"/><stop offset="0.0729" stop-color="#353cac"/><stop offset="0.2229" stop-color="#3637a0"/><stop offset="0.4896" stop-color="#363297"/><stop offset="0.8313" stop-color="#363194"/><stop offset="0.8688" stop-color="#363398"/><stop offset="0.9187" stop-color="#3638a4"/><stop offset="0.9688" stop-color="#36349b"/><stop offset="0.9729" stop-color="#3637a1"/><stop offset="0.9812" stop-color="#2d48c3"/><stop offset="0.9854" stop-color="#1957d8"/><stop offset="0.9896" stop-color="#0363e1"/><stop offset="0.9979" stop-color="#0265e1"/></linearGradient><linearGradient id="b50"><stop offset="0.0021" stop-color="#94bf72"/><stop offset="0.0104" stop-color="#8fbf74"/><stop offset="0.0146" stop-color="#78bf7d"/><stop offset="0.0229" stop-color="#2eb7a4"/><stop offset="0.0271" stop-color="#10afb8"/><stop offset="0.0312" stop-color="#06a5c8"/><stop offset="0.0354" stop-color="#0997d1"/><stop offset="0.0396" stop-color="#1487d3"/><stop offset="0.0437" stop-color="#127bd9"/><stop offset="0.0521" stop-color="#0267e1"/><stop offset="0.0563" stop-color="#105bdd"/><stop offset="0.0604" stop-color="#2351d1"/><stop offset="0.1437" stop-color="#2e48c2"/><stop offset="0.2437" stop-color="#3342b6"/><stop offset="0.3771" stop-color="#353dac"/><stop offset="0.7604" stop-color="#3637a1"/><stop offset="0.8521" stop-color="#3639a4"/><stop offset="0.9187" stop-color="#2f47c0"/><stop offset="0.9396" stop-color="#3046be"/><stop offset="0.9729" stop-color="#353dad"/><stop offset="0.9771" stop-color="#343eaf"/><stop offset="0.9812" stop-color="#2d48c3"/><stop offset="0.9854" stop-color="#1956d8"/><stop offset="0.9896" stop-color="#0463e1"/><stop offset="0.9979" stop-color="#0265e1"/></linearGradient><linearGradient id="b51"><stop offset="0.0021" stop-color="#8ebf74"/><stop offset="0.0104" stop-color="#89bf76"/><stop offset="0.0146" stop-color="#71bf80"/><stop offset="0.0229" stop-color="#27b6a8"/><stop offset="0.0271" stop-color="#0cadbb"/><stop offset="0.0312" stop-color="#06a3cb"/><stop offset="0.0396" stop-color="#1484d4"/><stop offset="0.0437" stop-color="#1079da"/><stop offset="0.0479" stop-color="#066edf"/><stop offset="0.0521" stop-color="#0364e1"/><stop offset="0.0563" stop-color="#1857d8"/><stop offset="0.0604" stop-color="#2a4bc8"/><stop offset="0.0979" stop-color="#2e48c3"/><stop offset="0.2104" stop-color="#3342b6"/><stop offset="0.3688" stop-color="#353dac"/><stop offset="0.7771" stop-color="#3638a3"/><stop offset="0.8438" stop-color="#3639a5"/><stop offset="0.8688" stop-color="#353dac"/><stop offset="0.9062" stop-color="#2f47c0"/><stop offset="0.9229" stop-color="#2d49c4"/><stop offset="0.9396" stop-color="#2e47c1"/><stop offset="0.9771" stop-color="#343eaf"/><stop offset="0.9812" stop-color="#2e48c2"/><stop offset="0.9854" stop-color="#1a56d7"/><stop offset="0.9896" stop-color="#0462e1"/><stop offset="0.9979" stop-color="#0265e1"/></linearGradient><linearGradient id="b52"><stop offset="0.0021" stop-color="#89bf76"/><stop offset="0.0063" stop-color="#89bf76"/><stop offset="0.0104" stop-color="#83bf78"/><stop offset="0.0146" stop-color="#6abe83"/><stop offset="0.0229" stop-color="#22b4ac"/><stop offset="0.0271" stop-color="#09abbf"/><stop offset="0.0312" stop-color="#06a0cd"/><stop offset="0.0396" stop-color="#1481d6"/><stop offset="0.0479" stop-color="#046ce0"/><stop offset="0.0521" stop-color="#0761e0"/><stop offset="0.0563" stop-color="#2052d3"/><stop offset="0.0604" stop-color="#2e47c1"/><stop offset="0.0646" stop-color="#3440b2"/><stop offset="0.0688" stop-color="#353eae"/><stop offset="0.0771" stop-color="#353dae"/><stop offset="0.3563" stop-color="#3639a4"/><stop offset="0.8271" stop-color="#3637a1"/><stop offset="0.8688" stop-color="#353ba8"/><stop offset="0.9229" stop-color="#3045bd"/><stop offset="0.9437" stop-color="#3243b9"/><stop offset="0.9688" stop-color="#353dad"/><stop offset="0.9771" stop-color="#353eaf"/><stop offset="0.9812" stop-color="#2e48c2"/><stop offset="0.9854" stop-color="#1a56d7"/><stop offset="0.9896" stop-color="#0462e0"/><stop offset="0.9979" stop-color="#0364e1"/></linearGradient><linearGradient id="b53"><stop offset="0.0021" stop-color="#83bf79"/><stop offset="0.0063" stop-color="#83bf79"/><stop offset="0.0104" stop-color="#7dbf7b"/><stop offset="0.0146" stop-color="#63be87"/><stop offset="0.0229" stop-color="#1cb3b0"/><stop offset="0.0271" stop-color="#07a9c2"/><stop offset="0.0312" stop-color="#079dcf"/><stop offset="0.0354" stop-color="#118cd2"/><stop offset="0.0396" stop-color="#137ed7"/><stop offset="0.0479" stop-color="#0269e1"/><stop offset="0.0521" stop-color="#0d5dde"/><stop offset="0.0563" stop-color="#264fcd"/><stop offset="0.0604" stop-color="#3145bc"/><stop offset="0.0646" stop-color="#3341b5"/><stop offset="0.3312" stop-color="#353ba9"/><stop offset="0.7771" stop-color="#3639a4"/><stop offset="0.8479" stop-color="#363aa7"/><stop offset="0.8688" stop-color="#353dad"/><stop offset="0.9187" stop-color="#2d49c4"/><stop offset="0.9354" stop-color="#2d48c3"/><stop offset="0.9771" stop-color="#353eaf"/><stop offset="0.9812" stop-color="#2e48c2"/><stop offset="0.9854" stop-color="#1b55d7"/><stop offset="0.9896" stop-color="#0562e0"/><stop offset="0.9979" stop-color="#0364e1"/></linearGradient><linearGradient id="b54"><stop offset="0.0021" stop-color="#7dbf7b"/><stop offset="0.0063" stop-color="#7dbf7b"/><stop offset="0.0104" stop-color="#77bf7e"/><stop offset="0.0146" stop-color="#5cbe8a"/><stop offset="0.0229" stop-color="#17b1b3"/><stop offset="0.0271" stop-color="#06a7c5"/><stop offset="0.0312" stop-color="#089ad0"/><stop offset="0.0354" stop-color="#1389d3"/><stop offset="0.0396" stop-color="#127cd8"/><stop offset="0.0479" stop-color="#0266e1"/><stop offset="0.0521" stop-color="#1559da"/><stop offset="0.0563" stop-color="#1c55d6"/><stop offset="0.1646" stop-color="#2c4ac7"/><stop offset="0.3104" stop-color="#3243b9"/><stop offset="0.4229" stop-color="#3340b3"/><stop offset="0.7771" stop-color="#353cab"/><stop offset="0.8313" stop-color="#353dac"/><stop offset="0.8562" stop-color="#343fb1"/><stop offset="0.8812" stop-color="#3046be"/><stop offset="0.9062" stop-color="#244fcf"/><stop offset="0.9229" stop-color="#2053d4"/><stop offset="0.9396" stop-color="#2351d1"/><stop offset="0.9771" stop-color="#3243b8"/><stop offset="0.9812" stop-color="#2e48c2"/><stop offset="0.9854" stop-color="#1b55d6"/><stop offset="0.9896" stop-color="#0561e0"/><stop offset="0.9979" stop-color="#0364e1"/></linearGradient><linearGradient id="b55"><stop offset="0.0021" stop-color="#76bf7e"/><stop offset="0.0063" stop-color="#76bf7e"/><stop offset="0.0104" stop-color="#70bf81"/><stop offset="0.0146" stop-color="#53bd8e"/><stop offset="0.0229" stop-color="#12afb7"/><stop offset="0.0271" stop-color="#06a5c8"/><stop offset="0.0312" stop-color="#0a97d1"/><stop offset="0.0354" stop-color="#1485d4"/><stop offset="0.0396" stop-color="#1079da"/><stop offset="0.0437" stop-color="#056ee0"/><stop offset="0.0479" stop-color="#0363e1"/><stop offset="0.0521" stop-color="#0f5cde"/><stop offset="0.0729" stop-color="#1559da"/><stop offset="0.1271" stop-color="#2252d2"/><stop offset="0.2021" stop-color="#2c4ac7"/><stop offset="0.3187" stop-color="#3244ba"/><stop offset="0.4271" stop-color="#3340b3"/><stop offset="0.7812" stop-color="#353ba9"/><stop offset="0.8521" stop-color="#353dad"/><stop offset="0.8854" stop-color="#3046be"/><stop offset="0.9062" stop-color="#274dcc"/><stop offset="0.9229" stop-color="#2351d1"/><stop offset="0.9479" stop-color="#2a4cc9"/><stop offset="0.9771" stop-color="#3341b5"/><stop offset="0.9812" stop-color="#2e47c1"/><stop offset="0.9854" stop-color="#1c55d6"/><stop offset="0.9896" stop-color="#0661e0"/><stop offset="0.9979" stop-color="#0364e1"/></linearGradient><linearGradient id="b56"><stop offset="0.0021" stop-color="#6dbf82"/><stop offset="0.0063" stop-color="#6dbf82"/><stop offset="0.0104" stop-color="#67be85"/><stop offset="0.0146" stop-color="#4bbc93"/><stop offset="0.0187" stop-color="#29b6a7"/><stop offset="0.0229" stop-color="#0dadbb"/><stop offset="0.0271" stop-color="#06a2cb"/><stop offset="0.0354" stop-color="#1482d5"/><stop offset="0.0437" stop-color="#036be0"/><stop offset="0.0479" stop-color="#0a5fdf"/><stop offset="0.0521" stop-color="#2450cf"/><stop offset="0.0563" stop-color="#3145bc"/><stop offset="0.0604" stop-color="#3243ba"/><stop offset="0.1521" stop-color="#343eaf"/><stop offset="0.3438" stop-color="#3638a3"/><stop offset="0.5563" stop-color="#36359d"/><stop offset="0.8354" stop-color="#36349b"/><stop offset="0.8729" stop-color="#3638a2"/><stop offset="0.9187" stop-color="#343fb1"/><stop offset="0.9479" stop-color="#353dad"/><stop offset="0.9729" stop-color="#3638a3"/><stop offset="0.9771" stop-color="#353eae"/><stop offset="0.9812" stop-color="#2e47c1"/><stop offset="0.9854" stop-color="#1d55d6"/><stop offset="0.9896" stop-color="#0761e0"/><stop offset="0.9979" stop-color="#0363e1"/></linearGradient><linearGradient id="b57"><stop offset="0.0021" stop-color="#65be86"/><stop offset="0.0063" stop-color="#65be86"/><stop offset="0.0104" stop-color="#5fbe89"/><stop offset="0.0146" stop-color="#43bb97"/><stop offset="0.0187" stop-color="#23b4ab"/><stop offset="0.0229" stop-color="#09acbe"/><stop offset="0.0271" stop-color="#06a0cd"/><stop offset="0.0354" stop-color="#1480d6"/><stop offset="0.0437" stop-color="#0269e1"/><stop offset="0.0479" stop-color="#0e5cde"/><stop offset="0.0521" stop-color="#284dcb"/><stop offset="0.0563" stop-color="#3243b9"/><stop offset="0.0646" stop-color="#3637a1"/><stop offset="0.0729" stop-color="#363196"/><stop offset="0.6229" stop-color="#362e8e"/><stop offset="0.8396" stop-color="#362e8e"/><stop offset="0.9187" stop-color="#363296"/><stop offset="0.9646" stop-color="#363092"/><stop offset="0.9688" stop-color="#363296"/><stop offset="0.9729" stop-color="#3636a0"/><stop offset="0.9812" stop-color="#2f47c0"/><stop offset="0.9854" stop-color="#1d54d5"/><stop offset="0.9896" stop-color="#0760e0"/><stop offset="0.9979" stop-color="#0363e1"/></linearGradient><linearGradient id="b58"><stop offset="0.0021" stop-color="#5cbe8a"/><stop offset="0.0063" stop-color="#5cbe8a"/><stop offset="0.0104" stop-color="#56bd8d"/><stop offset="0.0187" stop-color="#1eb3ae"/><stop offset="0.0229" stop-color="#08aac0"/><stop offset="0.0271" stop-color="#069fce"/><stop offset="0.0312" stop-color="#118dd2"/><stop offset="0.0354" stop-color="#137fd7"/><stop offset="0.0437" stop-color="#0268e1"/><stop offset="0.0479" stop-color="#115bdd"/><stop offset="0.0521" stop-color="#294cc9"/><stop offset="0.0563" stop-color="#3243b8"/><stop offset="0.0604" stop-color="#353caa"/><stop offset="0.0688" stop-color="#363399"/><stop offset="0.0771" stop-color="#362f8f"/><stop offset="0.0854" stop-color="#352c8b"/><stop offset="0.9563" stop-color="#352c8a"/><stop offset="0.9688" stop-color="#363296"/><stop offset="0.9771" stop-color="#353dae"/><stop offset="0.9812" stop-color="#2f47c0"/><stop offset="0.9854" stop-color="#1e54d5"/><stop offset="0.9896" stop-color="#0860e0"/><stop offset="0.9979" stop-color="#0363e1"/></linearGradient><linearGradient id="b59"><stop offset="0.0021" stop-color="#54bd8e"/><stop offset="0.0063" stop-color="#54bd8e"/><stop offset="0.0104" stop-color="#4ebc91"/><stop offset="0.0187" stop-color="#19b2b1"/><stop offset="0.0229" stop-color="#07a9c3"/><stop offset="0.0271" stop-color="#079dcf"/><stop offset="0.0312" stop-color="#128cd2"/><stop offset="0.0354" stop-color="#137dd7"/><stop offset="0.0437" stop-color="#0267e1"/><stop offset="0.0479" stop-color="#135adb"/><stop offset="0.0521" stop-color="#2a4bc8"/><stop offset="0.0563" stop-color="#3342b7"/><stop offset="0.0604" stop-color="#353baa"/><stop offset="0.0688" stop-color="#363398"/><stop offset="0.0771" stop-color="#362e8f"/><stop offset="0.0938" stop-color="#352b89"/><stop offset="0.9521" stop-color="#352b88"/><stop offset="0.9604" stop-color="#352d8c"/><stop offset="0.9688" stop-color="#363296"/><stop offset="0.9771" stop-color="#353dad"/><stop offset="0.9812" stop-color="#2f47c0"/><stop offset="0.9854" stop-color="#1e54d5"/><stop offset="0.9896" stop-color="#0860df"/><stop offset="0.9979" stop-color="#0363e1"/></linearGradient><linearGradient id="b60"><stop offset="0.0021" stop-color="#4bbc93"/><stop offset="0.0104" stop-color="#46bb96"/><stop offset="0.0187" stop-color="#15b0b5"/><stop offset="0.0229" stop-color="#06a8c5"/><stop offset="0.0271" stop-color="#079bd0"/><stop offset="0.0312" stop-color="#138ad3"/><stop offset="0.0354" stop-color="#127cd8"/><stop offset="0.0437" stop-color="#0266e1"/><stop offset="0.0479" stop-color="#1558da"/><stop offset="0.0521" stop-color="#2c4ac7"/><stop offset="0.0563" stop-color="#3341b6"/><stop offset="0.0604" stop-color="#353ba9"/><stop offset="0.0688" stop-color="#363398"/><stop offset="0.0813" stop-color="#352d8c"/><stop offset="0.0938" stop-color="#352b89"/><stop offset="0.9437" stop-color="#352b87"/><stop offset="0.9521" stop-color="#352b88"/><stop offset="0.9646" stop-color="#362f90"/><stop offset="0.9729" stop-color="#36369f"/><stop offset="0.9771" stop-color="#353dad"/><stop offset="0.9812" stop-color="#2f47bf"/><stop offset="0.9854" stop-color="#1f53d4"/><stop offset="0.9896" stop-color="#095fdf"/><stop offset="0.9979" stop-color="#0462e1"/></linearGradient><linearGradient id="b61"><stop offset="0.0021" stop-color="#43bb97"/><stop offset="0.0104" stop-color="#3eba9a"/><stop offset="0.0187" stop-color="#11afb7"/><stop offset="0.0229" stop-color="#06a6c7"/><stop offset="0.0271" stop-color="#0899d1"/><stop offset="0.0312" stop-color="#1388d3"/><stop offset="0.0354" stop-color="#127bd9"/><stop offset="0.0437" stop-color="#0265e1"/><stop offset="0.0479" stop-color="#1857d8"/><stop offset="0.0521" stop-color="#2c4ac5"/><stop offset="0.0563" stop-color="#3341b5"/><stop offset="0.0604" stop-color="#353ba8"/><stop offset="0.0688" stop-color="#363298"/><stop offset="0.0813" stop-color="#352d8c"/><stop offset="0.0938" stop-color="#352b88"/><stop offset="0.9437" stop-color="#352b87"/><stop offset="0.9521" stop-color="#352b88"/><stop offset="0.9646" stop-color="#362f90"/><stop offset="0.9729" stop-color="#36369f"/><stop offset="0.9771" stop-color="#353dad"/><stop offset="0.9812" stop-color="#2f46bf"/><stop offset="0.9854" stop-color="#2053d4"/><stop offset="0.9896" stop-color="#095fdf"/><stop offset="0.9979" stop-color="#0462e0"/></linearGradient><linearGradient id="b62"><stop offset="0.0021" stop-color="#3cba9b"/><stop offset="0.0104" stop-color="#37b99e"/><stop offset="0.0187" stop-color="#0eaeba"/><stop offset="0.0229" stop-color="#06a5c9"/><stop offset="0.0271" stop-color="#0997d1"/><stop offset="0.0312" stop-color="#1487d3"/><stop offset="0.0354" stop-color="#117ad9"/><stop offset="0.0396" stop-color="#076fdf"/><stop offset="0.0437" stop-color="#0364e1"/><stop offset="0.0479" stop-color="#1a56d7"/><stop offset="0.0521" stop-color="#2d49c4"/><stop offset="0.0563" stop-color="#3340b4"/><stop offset="0.0646" stop-color="#36369e"/><stop offset="0.0729" stop-color="#363092"/><stop offset="0.0938" stop-color="#352b88"/><stop offset="0.9437" stop-color="#352b87"/><stop offset="0.9521" stop-color="#352b88"/><stop offset="0.9646" stop-color="#362f90"/><stop offset="0.9729" stop-color="#36369f"/><stop offset="0.9771" stop-color="#353dad"/><stop offset="0.9812" stop-color="#2f46bf"/><stop offset="0.9854" stop-color="#2053d3"/><stop offset="0.9896" stop-color="#0a5fdf"/><stop offset="0.9979" stop-color="#0562e0"/></linearGradient><linearGradient id="b63"><stop offset="0.0021" stop-color="#36b99f"/><stop offset="0.0104" stop-color="#31b8a2"/><stop offset="0.0187" stop-color="#0badbc"/><stop offset="0.0229" stop-color="#06a3ca"/><stop offset="0.0312" stop-color="#1485d4"/><stop offset="0.0354" stop-color="#1079da"/><stop offset="0.0396" stop-color="#066fdf"/><stop offset="0.0437" stop-color="#0364e1"/><stop offset="0.0479" stop-color="#1c55d6"/><stop offset="0.0521" stop-color="#2d48c3"/><stop offset="0.0563" stop-color="#3440b3"/><stop offset="0.0646" stop-color="#36359e"/><stop offset="0.0729" stop-color="#363092"/><stop offset="0.0938" stop-color="#352b88"/><stop offset="0.9437" stop-color="#352b87"/><stop offset="0.9646" stop-color="#362f8f"/><stop offset="0.9729" stop-color="#36369f"/><stop offset="0.9771" stop-color="#353dac"/><stop offset="0.9812" stop-color="#3046be"/><stop offset="0.9854" stop-color="#2152d3"/><stop offset="0.9896" stop-color="#0a5edf"/><stop offset="0.9979" stop-color="#0661e0"/></linearGradient><linearGradient id="b64"><stop offset="0.0021" stop-color="#30b7a3"/><stop offset="0.0104" stop-color="#2cb6a5"/><stop offset="0.0187" stop-color="#09abbf"/><stop offset="0.0229" stop-color="#06a2cc"/><stop offset="0.0312" stop-color="#1484d4"/><stop offset="0.0396" stop-color="#056ee0"/><stop offset="0.0437" stop-color="#0363e1"/><stop offset="0.0479" stop-color="#1e54d5"/><stop offset="0.0521" stop-color="#2e48c2"/><stop offset="0.0563" stop-color="#3440b2"/><stop offset="0.0646" stop-color="#36359d"/><stop offset="0.0813" stop-color="#352d8c"/><stop offset="0.9563" stop-color="#352c8b"/><stop offset="0.9646" stop-color="#362f8f"/><stop offset="0.9688" stop-color="#363195"/><stop offset="0.9771" stop-color="#353dac"/><stop offset="0.9812" stop-color="#3046be"/><stop offset="0.9854" stop-color="#2152d3"/><stop offset="0.9896" stop-color="#0b5edf"/><stop offset="0.9979" stop-color="#0661e0"/></linearGradient><linearGradient id="b65"><stop offset="0.0021" stop-color="#2ab6a6"/><stop offset="0.0104" stop-color="#26b5a9"/><stop offset="0.0187" stop-color="#07aac1"/><stop offset="0.0229" stop-color="#06a0cd"/><stop offset="0.0312" stop-color="#1482d5"/><stop offset="0.0354" stop-color="#0f77db"/><stop offset="0.0396" stop-color="#046de0"/><stop offset="0.0437" stop-color="#0561e0"/><stop offset="0.0479" stop-color="#2053d4"/><stop offset="0.0521" stop-color="#2f47c0"/><stop offset="0.0604" stop-color="#3639a5"/><stop offset="0.0646" stop-color="#3637a2"/><stop offset="0.3271" stop-color="#36349b"/><stop offset="0.9688" stop-color="#36349a"/><stop offset="0.9729" stop-color="#36369f"/><stop offset="0.9812" stop-color="#3046be"/><stop offset="0.9854" stop-color="#2152d2"/><stop offset="0.9896" stop-color="#0c5ede"/><stop offset="0.9979" stop-color="#0761e0"/></linearGradient><linearGradient id="b66"><stop offset="0.0021" stop-color="#24b5aa"/><stop offset="0.0104" stop-color="#21b4ac"/><stop offset="0.0187" stop-color="#06a9c3"/><stop offset="0.0229" stop-color="#069ece"/><stop offset="0.0312" stop-color="#1481d5"/><stop offset="0.0396" stop-color="#046ce0"/><stop offset="0.0437" stop-color="#0760e0"/><stop offset="0.0479" stop-color="#2152d3"/><stop offset="0.0688" stop-color="#2350d0"/><stop offset="0.1729" stop-color="#2c4ac7"/><stop offset="0.3438" stop-color="#2f47bf"/><stop offset="0.9771" stop-color="#3144bc"/><stop offset="0.9812" stop-color="#3045bd"/><stop offset="0.9854" stop-color="#2251d2"/><stop offset="0.9896" stop-color="#0c5dde"/><stop offset="0.9979" stop-color="#0760e0"/></linearGradient><linearGradient id="b67"><stop offset="0.0021" stop-color="#1bb2b0"/><stop offset="0.0104" stop-color="#18b1b2"/><stop offset="0.0146" stop-color="#0cadbc"/><stop offset="0.0187" stop-color="#06a6c7"/><stop offset="0.0229" stop-color="#079bd0"/><stop offset="0.0271" stop-color="#128cd2"/><stop offset="0.0312" stop-color="#137fd7"/><stop offset="0.0396" stop-color="#036ae1"/><stop offset="0.1521" stop-color="#0363e1"/><stop offset="0.2938" stop-color="#0e5cde"/><stop offset="0.4688" stop-color="#1559da"/><stop offset="0.7229" stop-color="#1857d9"/><stop offset="0.9854" stop-color="#1857d8"/><stop offset="0.9896" stop-color="#0d5dde"/><stop offset="0.9979" stop-color="#0860df"/></linearGradient><linearGradient id="b68"><stop offset="0.0021" stop-color="#0faeb9"/><stop offset="0.0104" stop-color="#0dadbb"/><stop offset="0.0146" stop-color="#07a9c3"/><stop offset="0.0187" stop-color="#06a1cc"/><stop offset="0.0271" stop-color="#1487d3"/><stop offset="0.0312" stop-color="#127bd9"/><stop offset="0.0396" stop-color="#0267e1"/><stop offset="0.0979" stop-color="#0561e0"/><stop offset="0.2146" stop-color="#1459db"/><stop offset="0.3063" stop-color="#1b56d7"/><stop offset="0.6021" stop-color="#2252d2"/><stop offset="0.9854" stop-color="#2251d1"/><stop offset="0.9896" stop-color="#135adb"/><stop offset="0.9938" stop-color="#0d5dde"/><stop offset="0.9979" stop-color="#0d5dde"/></linearGradient><linearGradient id="b69"><stop offset="0.0021" stop-color="#08aac1"/><stop offset="0.0104" stop-color="#07a9c2"/><stop offset="0.0146" stop-color="#06a4c9"/><stop offset="0.0187" stop-color="#079cd0"/><stop offset="0.0271" stop-color="#1482d5"/><stop offset="0.0354" stop-color="#066edf"/><stop offset="0.0396" stop-color="#0364e1"/><stop offset="0.0437" stop-color="#1857d8"/><stop offset="0.0479" stop-color="#2b4bc7"/><stop offset="0.0688" stop-color="#2d48c3"/><stop offset="0.1396" stop-color="#3243b9"/><stop offset="0.3021" stop-color="#343fb0"/><stop offset="0.9771" stop-color="#353dac"/><stop offset="0.9812" stop-color="#3341b4"/><stop offset="0.9854" stop-color="#2d49c5"/><stop offset="0.9896" stop-color="#2053d4"/><stop offset="0.9938" stop-color="#1a56d7"/><stop offset="0.9979" stop-color="#1a56d7"/></linearGradient><linearGradient id="b70"><stop offset="0.0021" stop-color="#06a5c8"/><stop offset="0.0104" stop-color="#06a4c9"/><stop offset="0.0146" stop-color="#069fce"/><stop offset="0.0229" stop-color="#1389d3"/><stop offset="0.0271" stop-color="#137ed7"/><stop offset="0.0354" stop-color="#036be0"/><stop offset="0.0396" stop-color="#0761e0"/><stop offset="0.0437" stop-color="#2053d4"/><stop offset="0.0479" stop-color="#2e48c2"/><stop offset="0.0563" stop-color="#353ba9"/><stop offset="0.0813" stop-color="#3638a4"/><stop offset="0.1562" stop-color="#36349a"/><stop offset="0.2854" stop-color="#363194"/><stop offset="0.9688" stop-color="#363092"/><stop offset="0.9771" stop-color="#3637a1"/><stop offset="0.9812" stop-color="#353eae"/><stop offset="0.9896" stop-color="#294dca"/><stop offset="0.9979" stop-color="#254fce"/></linearGradient><linearGradient id="b71"><stop offset="0.0021" stop-color="#06a1cc"/><stop offset="0.0104" stop-color="#06a0cd"/><stop offset="0.0146" stop-color="#089ad0"/><stop offset="0.0229" stop-color="#1485d4"/><stop offset="0.0271" stop-color="#117bd9"/><stop offset="0.0354" stop-color="#0269e1"/><stop offset="0.0396" stop-color="#0c5ede"/><stop offset="0.0437" stop-color="#2450d0"/><stop offset="0.0479" stop-color="#3046be"/><stop offset="0.0521" stop-color="#343fb0"/><stop offset="0.0563" stop-color="#353caa"/><stop offset="0.0813" stop-color="#3638a2"/><stop offset="0.1313" stop-color="#363298"/><stop offset="0.2062" stop-color="#362f8f"/><stop offset="0.3354" stop-color="#352c8a"/><stop offset="0.9563" stop-color="#352b89"/><stop offset="0.9646" stop-color="#352d8c"/><stop offset="0.9729" stop-color="#363195"/><stop offset="0.9896" stop-color="#2f47c0"/><stop offset="0.9979" stop-color="#2d49c3"/></linearGradient><linearGradient id="b72"><stop offset="0.0021" stop-color="#079ecf"/><stop offset="0.0104" stop-color="#079dcf"/><stop offset="0.0229" stop-color="#1482d5"/><stop offset="0.0271" stop-color="#117ada"/><stop offset="0.0354" stop-color="#0268e1"/><stop offset="0.0396" stop-color="#0d5dde"/><stop offset="0.0437" stop-color="#2450cf"/><stop offset="0.0479" stop-color="#3046be"/><stop offset="0.1104" stop-color="#3638a2"/><stop offset="0.1562" stop-color="#363298"/><stop offset="0.2188" stop-color="#362f8f"/><stop offset="0.3354" stop-color="#352c89"/><stop offset="0.9479" stop-color="#352b87"/><stop offset="0.9688" stop-color="#362e8e"/><stop offset="0.9771" stop-color="#36339a"/><stop offset="0.9896" stop-color="#3342b6"/><stop offset="0.9979" stop-color="#3243b9"/></linearGradient><linearGradient id="b73"><stop offset="0.0021" stop-color="#089ad0"/><stop offset="0.0104" stop-color="#0899d1"/><stop offset="0.0187" stop-color="#138ad3"/><stop offset="0.0229" stop-color="#1481d6"/><stop offset="0.0354" stop-color="#0268e1"/><stop offset="0.0396" stop-color="#0b5ede"/><stop offset="0.0437" stop-color="#2251d1"/><stop offset="0.0604" stop-color="#2d49c4"/><stop offset="0.1021" stop-color="#353dad"/><stop offset="0.1354" stop-color="#3637a1"/><stop offset="0.1896" stop-color="#363196"/><stop offset="0.2646" stop-color="#362e8d"/><stop offset="0.3979" stop-color="#352b88"/><stop offset="0.9521" stop-color="#352b87"/><stop offset="0.9729" stop-color="#362f90"/><stop offset="0.9896" stop-color="#353dac"/><stop offset="0.9979" stop-color="#353eae"/></linearGradient><linearGradient id="b74"><stop offset="0.0021" stop-color="#0b96d1"/><stop offset="0.0104" stop-color="#0c94d2"/><stop offset="0.0187" stop-color="#1487d3"/><stop offset="0.0229" stop-color="#137fd7"/><stop offset="0.0354" stop-color="#0268e1"/><stop offset="0.0396" stop-color="#0b5edf"/><stop offset="0.0437" stop-color="#1c55d6"/><stop offset="0.0479" stop-color="#2052d3"/><stop offset="0.0646" stop-color="#2c4ac6"/><stop offset="0.0896" stop-color="#3342b7"/><stop offset="0.1396" stop-color="#3638a2"/><stop offset="0.1854" stop-color="#363298"/><stop offset="0.2854" stop-color="#352d8c"/><stop offset="0.4021" stop-color="#352b88"/><stop offset="0.9521" stop-color="#352b87"/><stop offset="0.9688" stop-color="#352c8b"/><stop offset="0.9896" stop-color="#3638a2"/><stop offset="0.9979" stop-color="#3638a4"/></linearGradient><linearGradient id="b75"><stop offset="0.0021" stop-color="#0e91d2"/><stop offset="0.0104" stop-color="#0f90d2"/><stop offset="0.0229" stop-color="#137dd8"/><stop offset="0.0354" stop-color="#0268e1"/><stop offset="0.0396" stop-color="#0b5edf"/><stop offset="0.0437" stop-color="#2053d4"/><stop offset="0.0479" stop-color="#264fcd"/><stop offset="0.0771" stop-color="#3243ba"/><stop offset="0.1146" stop-color="#353ba8"/><stop offset="0.1896" stop-color="#363196"/><stop offset="0.2646" stop-color="#362e8d"/><stop offset="0.3979" stop-color="#352b88"/><stop offset="0.9521" stop-color="#352b87"/><stop offset="0.9688" stop-color="#352c8a"/><stop offset="0.9896" stop-color="#36359d"/><stop offset="0.9979" stop-color="#36369e"/></linearGradient><linearGradient id="b76"><stop offset="0.0021" stop-color="#118cd2"/><stop offset="0.0104" stop-color="#128bd2"/><stop offset="0.0187" stop-color="#1481d5"/><stop offset="0.0354" stop-color="#0267e1"/><stop offset="0.0396" stop-color="#0b5edf"/><stop offset="0.0437" stop-color="#1f53d4"/><stop offset="0.0479" stop-color="#2c4ac5"/><stop offset="0.0521" stop-color="#3144bb"/><stop offset="0.1062" stop-color="#3638a3"/><stop offset="0.1562" stop-color="#363297"/><stop offset="0.2562" stop-color="#352d8c"/><stop offset="0.3729" stop-color="#352b88"/><stop offset="0.9521" stop-color="#352b87"/><stop offset="0.9688" stop-color="#352c8a"/><stop offset="0.9896" stop-color="#36359c"/><stop offset="0.9979" stop-color="#36359d"/></linearGradient><linearGradient id="b77"><stop offset="0.0021" stop-color="#1388d3"/><stop offset="0.0104" stop-color="#1487d3"/><stop offset="0.0187" stop-color="#137fd7"/><stop offset="0.0354" stop-color="#0266e1"/><stop offset="0.0396" stop-color="#0c5ede"/><stop offset="0.0437" stop-color="#2053d4"/><stop offset="0.0479" stop-color="#2c4ac6"/><stop offset="0.0521" stop-color="#3243b9"/><stop offset="0.0604" stop-color="#363aa7"/><stop offset="0.1229" stop-color="#363297"/><stop offset="0.2146" stop-color="#362e8d"/><stop offset="0.3187" stop-color="#352c89"/><stop offset="0.9604" stop-color="#352b88"/><stop offset="0.9729" stop-color="#352d8c"/><stop offset="0.9896" stop-color="#36349b"/><stop offset="0.9979" stop-color="#36359c"/></linearGradient><linearGradient id="b78"><stop offset="0.0021" stop-color="#1484d4"/><stop offset="0.0146" stop-color="#1480d6"/><stop offset="0.0354" stop-color="#0265e1"/><stop offset="0.0396" stop-color="#0e5dde"/><stop offset="0.0437" stop-color="#2052d3"/><stop offset="0.0479" stop-color="#2c4ac6"/><stop offset="0.0521" stop-color="#3244ba"/><stop offset="0.0563" stop-color="#343fb0"/><stop offset="0.0604" stop-color="#353eae"/><stop offset="0.0938" stop-color="#353aa8"/><stop offset="0.2104" stop-color="#36359c"/><stop offset="0.3854" stop-color="#363297"/><stop offset="0.9812" stop-color="#363195"/><stop offset="0.9979" stop-color="#36349b"/></linearGradient><linearGradient id="b79"><stop offset="0.0021" stop-color="#1480d6"/><stop offset="0.0146" stop-color="#137dd8"/><stop offset="0.0312" stop-color="#036ae1"/><stop offset="0.0354" stop-color="#0364e1"/><stop offset="0.0396" stop-color="#105bdd"/><stop offset="0.0437" stop-color="#1559da"/><stop offset="0.0813" stop-color="#1f53d5"/><stop offset="0.1354" stop-color="#264ecd"/><stop offset="0.2021" stop-color="#2c4ac7"/><stop offset="0.4229" stop-color="#3145bc"/><stop offset="0.9979" stop-color="#3342b7"/></linearGradient><linearGradient id="b80"><stop offset="0.0021" stop-color="#137ed7"/><stop offset="0.0146" stop-color="#127bd9"/><stop offset="0.0312" stop-color="#0269e1"/><stop offset="0.0354" stop-color="#0462e1"/><stop offset="0.0396" stop-color="#125adc"/><stop offset="0.0479" stop-color="#2d49c5"/><stop offset="0.0521" stop-color="#3045bd"/><stop offset="0.1104" stop-color="#363aa7"/><stop offset="0.4271" stop-color="#36369e"/><stop offset="0.9979" stop-color="#36359c"/></linearGradient><linearGradient id="b81"><stop offset="0.0021" stop-color="#137ed7"/><stop offset="0.0146" stop-color="#117bd9"/><stop offset="0.0312" stop-color="#0268e1"/><stop offset="0.0354" stop-color="#0562e0"/><stop offset="0.0396" stop-color="#1359db"/><stop offset="0.0437" stop-color="#2350d0"/><stop offset="0.0479" stop-color="#2d49c4"/><stop offset="0.0521" stop-color="#2f47c0"/><stop offset="0.1104" stop-color="#353cab"/><stop offset="0.1646" stop-color="#3636a0"/><stop offset="0.2896" stop-color="#363093"/><stop offset="0.4688" stop-color="#362e8e"/><stop offset="0.9771" stop-color="#362e8d"/><stop offset="0.9896" stop-color="#363297"/><stop offset="0.9979" stop-color="#363398"/></linearGradient><linearGradient id="b82"><stop offset="0.0021" stop-color="#137dd8"/><stop offset="0.0146" stop-color="#117ad9"/><stop offset="0.0312" stop-color="#0268e1"/><stop offset="0.0354" stop-color="#0661e0"/><stop offset="0.0396" stop-color="#1559da"/><stop offset="0.0437" stop-color="#2450cf"/><stop offset="0.0479" stop-color="#2c49c5"/><stop offset="0.1021" stop-color="#343fb1"/><stop offset="0.2021" stop-color="#36359e"/><stop offset="0.3063" stop-color="#363194"/><stop offset="0.5271" stop-color="#362e8e"/><stop offset="0.9771" stop-color="#362d8d"/><stop offset="0.9896" stop-color="#363296"/><stop offset="0.9979" stop-color="#363297"/></linearGradient><linearGradient id="b83"><stop offset="0.0021" stop-color="#127cd8"/><stop offset="0.0146" stop-color="#1079da"/><stop offset="0.0312" stop-color="#0267e1"/><stop offset="0.0354" stop-color="#0761e0"/><stop offset="0.0437" stop-color="#254fce"/><stop offset="0.0479" stop-color="#2b4bc7"/><stop offset="0.1062" stop-color="#3340b3"/><stop offset="0.1938" stop-color="#3637a2"/><stop offset="0.2938" stop-color="#363297"/><stop offset="0.5104" stop-color="#362f8f"/><stop offset="0.9771" stop-color="#362d8d"/><stop offset="0.9896" stop-color="#363195"/><stop offset="0.9979" stop-color="#363296"/></linearGradient><linearGradient id="b84"><stop offset="0.0021" stop-color="#127cd8"/><stop offset="0.0146" stop-color="#1079da"/><stop offset="0.0312" stop-color="#0267e1"/><stop offset="0.0354" stop-color="#0860df"/><stop offset="0.0396" stop-color="#1757d9"/><stop offset="0.0437" stop-color="#264fcd"/><stop offset="0.0479" stop-color="#2a4cc9"/><stop offset="0.0979" stop-color="#3243b8"/><stop offset="0.1854" stop-color="#3639a6"/><stop offset="0.3229" stop-color="#363297"/><stop offset="0.5062" stop-color="#362f90"/><stop offset="0.9771" stop-color="#362e8d"/><stop offset="0.9979" stop-color="#363195"/></linearGradient><linearGradient id="b85"><stop offset="0.0021" stop-color="#117bd9"/><stop offset="0.0146" stop-color="#0f78db"/><stop offset="0.0312" stop-color="#0266e1"/><stop offset="0.0354" stop-color="#095fdf"/><stop offset="0.0437" stop-color="#264ecd"/><stop offset="0.0604" stop-color="#2c4ac6"/><stop offset="0.1021" stop-color="#3244ba"/><stop offset="0.1896" stop-color="#353aa8"/><stop offset="0.3229" stop-color="#363399"/><stop offset="0.5062" stop-color="#362f91"/><stop offset="0.9771" stop-color="#362e8d"/><stop offset="0.9979" stop-color="#363194"/></linearGradient><linearGradient id="b86"><stop offset="0.0021" stop-color="#117ad9"/><stop offset="0.0146" stop-color="#0f78db"/><stop offset="0.0312" stop-color="#0266e1"/><stop offset="0.0354" stop-color="#0a5fdf"/><stop offset="0.0437" stop-color="#264fcd"/><stop offset="0.1104" stop-color="#3244ba"/><stop offset="0.2062" stop-color="#353aa8"/><stop offset="0.3521" stop-color="#363399"/><stop offset="0.5479" stop-color="#363091"/><stop offset="0.9812" stop-color="#362e8e"/><stop offset="0.9979" stop-color="#363093"/></linearGradient><linearGradient id="b87"><stop offset="0.0021" stop-color="#117ada"/><stop offset="0.0146" stop-color="#0e77db"/><stop offset="0.0312" stop-color="#0265e1"/><stop offset="0.0354" stop-color="#0b5edf"/><stop offset="0.0396" stop-color="#1b55d6"/><stop offset="0.0437" stop-color="#254fcf"/><stop offset="0.1187" stop-color="#3244ba"/><stop offset="0.2104" stop-color="#353baa"/><stop offset="0.3646" stop-color="#36349a"/><stop offset="0.5188" stop-color="#363093"/><stop offset="0.8562" stop-color="#362e8e"/><stop offset="0.9812" stop-color="#362e8e"/><stop offset="0.9979" stop-color="#363092"/></linearGradient><linearGradient id="b88"><stop offset="0.0021" stop-color="#1079da"/><stop offset="0.0104" stop-color="#1079da"/><stop offset="0.0271" stop-color="#036ae1"/><stop offset="0.0312" stop-color="#0364e1"/><stop offset="0.0396" stop-color="#1757d9"/><stop offset="0.0604" stop-color="#2053d4"/><stop offset="0.1104" stop-color="#2c4ac7"/><stop offset="0.2229" stop-color="#343fb2"/><stop offset="0.3354" stop-color="#3639a5"/><stop offset="0.4854" stop-color="#36359c"/><stop offset="0.9979" stop-color="#363194"/></linearGradient><linearGradient id="b89"><stop offset="0.0021" stop-color="#1078da"/><stop offset="0.0104" stop-color="#0f78db"/><stop offset="0.0271" stop-color="#036ae1"/><stop offset="0.0312" stop-color="#026ae1"/><stop offset="0.0813" stop-color="#0363e1"/><stop offset="0.1313" stop-color="#0f5cde"/><stop offset="0.1938" stop-color="#2053d4"/><stop offset="0.2812" stop-color="#2c4ac7"/><stop offset="0.3563" stop-color="#3046be"/><stop offset="0.5229" stop-color="#3340b3"/><stop offset="0.9979" stop-color="#353caa"/></linearGradient><linearGradient id="b90"><stop offset="0.0021" stop-color="#0f78db"/><stop offset="0.0146" stop-color="#0d75dc"/><stop offset="0.0271" stop-color="#0269e1"/><stop offset="0.0312" stop-color="#0363e1"/><stop offset="0.0354" stop-color="#0c5dde"/><stop offset="0.0938" stop-color="#2053d4"/><stop offset="0.1271" stop-color="#274ecc"/><stop offset="0.2354" stop-color="#3243ba"/><stop offset="0.3354" stop-color="#353eae"/><stop offset="0.5229" stop-color="#3638a2"/><stop offset="0.9979" stop-color="#36339a"/></linearGradient><linearGradient id="b91"><stop offset="0.0021" stop-color="#0f77db"/><stop offset="0.0104" stop-color="#0e77db"/><stop offset="0.0271" stop-color="#0268e1"/><stop offset="0.0312" stop-color="#0363e1"/><stop offset="0.0396" stop-color="#1d54d5"/><stop offset="0.1021" stop-color="#2c4ac7"/><stop offset="0.1979" stop-color="#3341b6"/><stop offset="0.3312" stop-color="#363aa6"/><stop offset="0.5271" stop-color="#36349a"/><stop offset="0.9979" stop-color="#363092"/></linearGradient><linearGradient id="b92"><stop offset="0.0021" stop-color="#0e77db"/><stop offset="0.0146" stop-color="#0c74dd"/><stop offset="0.0271" stop-color="#0268e1"/><stop offset="0.0312" stop-color="#0462e0"/><stop offset="0.0354" stop-color="#125adc"/><stop offset="0.0396" stop-color="#1956d8"/><stop offset="0.1229" stop-color="#2c4ac7"/><stop offset="0.2021" stop-color="#3243ba"/><stop offset="0.3146" stop-color="#353dac"/><stop offset="0.5312" stop-color="#36369e"/><stop offset="0.9979" stop-color="#363195"/></linearGradient><linearGradient id="b93"><stop offset="0.0021" stop-color="#0e76dc"/><stop offset="0.0146" stop-color="#0b73dd"/><stop offset="0.0271" stop-color="#0267e1"/><stop offset="0.0312" stop-color="#0661e0"/><stop offset="0.0354" stop-color="#105bdd"/><stop offset="0.0396" stop-color="#125adc"/><stop offset="0.1146" stop-color="#254fcf"/><stop offset="0.2229" stop-color="#3045bd"/><stop offset="0.3438" stop-color="#343fb0"/><stop offset="0.5354" stop-color="#3639a4"/><stop offset="0.9979" stop-color="#36349a"/></linearGradient><linearGradient id="b94"><stop offset="0.0021" stop-color="#0d75dc"/><stop offset="0.0146" stop-color="#0a73de"/><stop offset="0.0271" stop-color="#0267e1"/><stop offset="0.0354" stop-color="#0b5edf"/><stop offset="0.1187" stop-color="#2053d4"/><stop offset="0.2313" stop-color="#2d48c3"/><stop offset="0.4146" stop-color="#343fb1"/><stop offset="0.5604" stop-color="#353ba9"/><stop offset="0.9979" stop-color="#3636a0"/></linearGradient><linearGradient id="b95"><stop offset="0.0021" stop-color="#0c75dd"/><stop offset="0.0146" stop-color="#0a72de"/><stop offset="0.0271" stop-color="#0266e1"/><stop offset="0.0312" stop-color="#0860e0"/><stop offset="0.1437" stop-color="#2152d3"/><stop offset="0.2437" stop-color="#2c49c5"/><stop offset="0.3812" stop-color="#3242b7"/><stop offset="0.5687" stop-color="#353dac"/><stop offset="0.9979" stop-color="#3638a2"/></linearGradient><linearGradient id="b96"><stop offset="0.0021" stop-color="#0c74dd"/><stop offset="0.0104" stop-color="#0b74dd"/><stop offset="0.0271" stop-color="#0265e1"/><stop offset="0.0312" stop-color="#095fdf"/><stop offset="0.1354" stop-color="#2152d3"/><stop offset="0.2521" stop-color="#2d48c3"/><stop offset="0.4104" stop-color="#3341b4"/><stop offset="0.5687" stop-color="#353cab"/><stop offset="0.9979" stop-color="#3637a1"/></linearGradient><linearGradient id="b97"><stop offset="0.0021" stop-color="#0b73dd"/><stop offset="0.0104" stop-color="#0a73dd"/><stop offset="0.0229" stop-color="#026ae1"/><stop offset="0.0271" stop-color="#0365e1"/><stop offset="0.0312" stop-color="#0b5edf"/><stop offset="0.0396" stop-color="#264ecd"/><stop offset="0.0479" stop-color="#3243b8"/><stop offset="0.0646" stop-color="#36359c"/><stop offset="0.0771" stop-color="#362f91"/><stop offset="0.9979" stop-color="#362f91"/></linearGradient><linearGradient id="b98"><stop offset="0.0021" stop-color="#095fdf"/><stop offset="0.0146" stop-color="#0e5cde"/><stop offset="0.0229" stop-color="#2053d4"/><stop offset="0.0354" stop-color="#3144bb"/><stop offset="0.0563" stop-color="#36359c"/><stop offset="0.0729" stop-color="#362f8f"/><stop offset="0.0854" stop-color="#352c8b"/><stop offset="0.9979" stop-color="#352c8b"/></linearGradient><linearGradient id="b99"><stop offset="0.0021" stop-color="#353dad"/><stop offset="0.0187" stop-color="#353ba9"/><stop offset="0.0521" stop-color="#362f91"/><stop offset="0.0896" stop-color="#352b88"/><stop offset="0.9979" stop-color="#352b88"/></linearGradient></defs>
<rect x="305.70" y="5.30" width="239.50" height="1.99" fill="url(#b0)"/>
<rect x="305.70" y="6.29" width="239.50" height="1.99" fill="url(#b1)"/>
<rect x="305.70" y="7.29" width="239.50" height="1.99" fill="url(#b2)"/>
<rect x="305.70" y="8.28" width="239.50" height="1.99" fill="url(#b3)"/>
<rect x="305.70" y="9.27" width="239.50" height="1.99" fill="url(#b4)"/>
<rect x="305.70" y="10.27" width="239.50" height="1.99" fill="url(#b5)"/>
<rect x="305.70" y="11.26" width="239.50" height="1.99" fill="url(#b6)"/>
<rect x="305.70" y="12.25" width="239.50" height="1.99" fill="url(#b7)"/>
<rect x="305.70" y="13.24" width="239.50" height="1.99" fill="url(#b8)"/>
<rect x="305.70" y="14.24" width="239.50" height="1.99" fill="url(#b9)"/>
<rect x="305.70" y="15.23" width="239.50" height="1.99" fill="url(#b10)"/>
<rect x="305.70" y="16.22" width="239.50" height="1.99" fill="url(#b11)"/>
<rect x="305.70" y="17.22" width="239.50" height="1.99" fill="url(#b12)"/>
<rect x="305.70" y="18.21" width="239.50" height="1.99" fill="url(#b13)"/>
<rect x="305.70" y="19.20" width="239.50" height="1.99" fill="url(#b14)"/>
<rect x="305.70" y="20.20" width="239.50" height="1.99" fill="url(#b15)"/>
<rect x="305.70" y="21.19" width="239.50" height="1.99" fill="url(#b16)"/>
<rect x="305.70" y="22.18" width="239.50" height="1.99" fill="url(#b17)"/>
<rect x="305.70" y="23.17" width="239.50" height="1.99" fill="url(#b18)"/>
<rect x="305.70" y="24.17" width="239.50" height="1.99" fill="url(#b19)"/>
<rect x="305.70" y="25.16" width="239.50" height="1.99" fill="url(#b20)"/>
<rect x="305.70" y="26.15" width="239.50" height="1.99" fill="url(#b21)"/>
<rect x="305.70" y="27.15" width="239.50" height="1.99" fill="url(#b22)"/>
<rect x="305.70" y="28.14" width="239.50" height="1.99" fill="url(#b23)"/>
<rect x="305.70" y="29.13" width="239.50" height="1.99" fill="url(#b24)"/>
<rect x="305.70" y="30.12" width="239.50" height="1.99" fill="url(#b25)"/>
<rect x="305.70" y="31.12" width="239.50" height="1.99" fill="url(#b26)"/>
<rect x="305.70" y="32.11" width="239.50" height="1.99" fill="url(#b27)"/>
<rect x="305.70" y="33.10" width="239.50" height="1.99" fill="url(#b28)"/>
<rect x="305.70" y="34.10" width="239.50" height="1.99" fill="url(#b29)"/>
<rect x="305.70" y="35.09" width="239.50" height="1.99" fill="url(#b30)"/>
<rect x="305.70" y="36.08" width="239.50" height="1.99" fill="url(#b31)"/>
<rect x="305.70" y="37.08" width="239.50" height="1.99" fill="url(#b32)"/>
<rect x="305.70" y="38.07" width="239.50" height="1.99" fill="url(#b33)"/>
<rect x="305.70" y="39.06" width="239.50" height="1.99" fill="url(#b34)"/>
<rect x="305.70" y="40.05" width="239.50" height="1.99" fill="url(#b35)"/>
<rect x="305.70" y="41.05" width="239.50" height="1.99" fill="url(#b36)"/>
<rect x="305.70" y="42.04" width="239.50" height="1.99" fill="url(#b37)"/>
<rect x="305.70" y="43.03" width="239.50" height="1.99" fill="url(#b38)"/>
<rect x="305.70" y="44.03" width="239.50" height="1.99" fill="url(#b39)"/>
<rect x="305.70" y="45.02" width="239.50" height="1.99" fill="url(#b40)"/>
<rect x="305.70" y="46.01" width="239.50" height="1.99" fill="url(#b41)"/>
<rect x="305.70" y="47.01" width="239.50" height="1.99" fill="url(#b42)"/>
<rect x="305.70" y="48.00" width="239.50" height="1.99" fill="url(#b43)"/>
<rect x="305.70" y="48.99" width="239.50" height="1.99" fill="url(#b44)"/>
<rect x="305.70" y="49.98" width="239.50" height="1.99" fill="url(#b45)"/>
<rect x="305.70" y="50.98" width="239.50" height="1.99" fill="url(#b46)"/>
<rect x="305.70" y="51.97" width="239.50" height="1.99" fill="url(#b47)"/>
<rect x="305.70" y="52.96" width="239.50" height="1.99" fill="url(#b48)"/>
<rect x="305.70" y="53.96" width="239.50" height="1.99" fill="url(#b49)"/>
<rect x="305.70" y="54.95" width="239.50" height="1.99" fill="url(#b50)"/>
<rect x="305.70" y="55.94" width="239.50" height="1.99" fill="url(#b51)"/>
<rect x="305.70" y="56.94" width="239.50" height="1.99" fill="url(#b52)"/>
<rect x="305.70" y="57.93" width="239.50" height="1.99" fill="url(#b53)"/>
<rect x="305.70" y="58.92" width="239.50" height="1.99" fill="url(#b54)"/>
<rect x="305.70" y="59.91" width="239.50" height="1.99" fill="url(#b55)"/>
<rect x="305.70" y="60.91" width="239.50" height="1.99" fill="url(#b56)"/>
<rect x="305.70" y="61.90" width="239.50" height="1.99" fill="url(#b57)"/>
<rect x="305.70" y="62.89" width="239.50" height="1.99" fill="url(#b58)"/>
<rect x="305.70" y="63.89" width="239.50" height="1.99" fill="url(#b59)"/>
<rect x="305.70" y="64.88" width="239.50" height="1.99" fill="url(#b60)"/>
<rect x="305.70" y="65.87" width="239.50" height="1.99" fill="url(#b61)"/>
<rect x="305.70" y="66.87" width="239.50" height="1.99" fill="url(#b62)"/>
<rect x="305.70" y="67.86" width="239.50" height="1.99" fill="url(#b63)"/>
<rect x="305.70" y="68.85" width="239.50" height="1.99" fill="url(#b64)"/>
<rect x="305.70" y="69.84" width="239.50" height="1.99" fill="url(#b65)"/>
<rect x="305.70" y="70.84" width="239.50" height="1.99" fill="url(#b66)"/>
<rect x="305.70" y="71.83" width="239.50" height="1.99" fill="url(#b67)"/>
<rect x="305.70" y="72.82" width="239.50" height="1.99" fill="url(#b68)"/>
<rect x="305.70" y="73.82" width="239.50" height="1.99" fill="url(#b69)"/>
<rect x="305.70" y="74.81" width="239.50" height="1.99" fill="url(#b70)"/>
<rect x="305.70" y="75.80" width="239.50" height="1.99" fill="url(#b71)"/>
<rect x="305.70" y="76.80" width="239.50" height="1.99" fill="url(#b72)"/>
<rect x="305.70" y="77.79" width="239.50" height="1.99" fill="url(#b73)"/>
<rect x="305.70" y="78.78" width="239.50" height="1.99" fill="url(#b74)"/>
<rect x="305.70" y="79.77" width="239.50" height="1.99" fill="url(#b75)"/>
<rect x="305.70" y="80.77" width="239.50" height="1.99" fill="url(#b76)"/>
<rect x="305.70" y="81.76" width="239.50" height="1.99" fill="url(#b77)"/>
<rect x="305.70" y="82.75" width="239.50" height="1.99" fill="url(#b78)"/>
<rect x="305.70" y="83.75" width="239.50" height="1.99" fill="url(#b79)"/>
<rect x="305.70" y="84.74" width="239.50" height="1.99" fill="url(#b80)"/>
<rect x="305.70" y="85.73" width="239.50" height="1.99" fill="url(#b81)"/>
<rect x="305.70" y="86.73" width="239.50" height="1.99" fill="url(#b82)"/>
<rect x="305.70" y="87.72" width="239.50" height="1.99" fill="url(#b83)"/>
<rect x="305.70" y="88.71" width="239.50" height="1.99" fill="url(#b84)"/>
<rect x="305.70" y="89.70" width="239.50" height="1.99" fill="url(#b85)"/>
<rect x="305.70" y="90.70" width="239.50" height="1.99" fill="url(#b86)"/>
<rect x="305.70" y="91.69" width="239.50" height="1.99" fill="url(#b87)"/>
<rect x="305.70" y="92.68" width="239.50" height="1.99" fill="url(#b88)"/>
<rect x="305.70" y="93.68" width="239.50" height="1.99" fill="url(#b89)"/>
<rect x="305.70" y="94.67" width="239.50" height="1.99" fill="url(#b90)"/>
<rect x="305.70" y="95.66" width="239.50" height="1.99" fill="url(#b91)"/>
<rect x="305.70" y="96.66" width="239.50" height="1.99" fill="url(#b92)"/>
<rect x="305.70" y="97.65" width="239.50" height="1.99" fill="url(#b93)"/>
<rect x="305.70" y="98.64" width="239.50" height="1.99" fill="url(#b94)"/>
<rect x="305.70" y="99.63" width="239.50" height="1.99" fill="url(#b95)"/>
<rect x="305.70" y="100.63" width="239.50" height="1.99" fill="url(#b96)"/>
<rect x="305.70" y="101.62" width="239.50" height="1.99" fill="url(#b97)"/>
<rect x="305.70" y="102.61" width="239.50" height="1.99" fill="url(#b98)"/>
<rect x="305.70" y="103.61" width="239.50" height="0.99" fill="url(#b99)"/>
<text class="tk" x="305.7" y="115" text-anchor="middle">0</text>
<text class="tk" x="329.6" y="115" text-anchor="middle">0.1</text>
<text class="tk" x="353.6" y="115" text-anchor="middle">0.2</text>
<text class="tk" x="377.6" y="115" text-anchor="middle">0.3</text>
<text class="tk" x="401.5" y="115" text-anchor="middle">0.4</text>
<text class="tk" x="425.5" y="115" text-anchor="middle">0.5</text>
<text class="tk" x="449.4" y="115" text-anchor="middle">0.6</text>
<text class="tk" x="473.4" y="115" text-anchor="middle">0.7</text>
<text class="tk" x="497.3" y="115" text-anchor="middle">0.8</text>
<text class="tk" x="521.2" y="115" text-anchor="middle">0.9</text>
<text class="tk" x="545.2" y="115" text-anchor="middle">1</text>
<text class="tk" x="303.8" y="108.1" text-anchor="end">0</text>
<text class="tk" x="303.8" y="83.1" text-anchor="end">200</text>
<text class="tk" x="303.8" y="58.1" text-anchor="end">400</text>
<text class="tk" x="303.8" y="33.1" text-anchor="end">600</text>
<text class="tk" x="303.8" y="8.1" text-anchor="end">800</text>
<text class="ax" x="426" y="127.4" text-anchor="middle">t (s)</text>
<text class="ax" x="289.5" y="55.6" text-anchor="middle" transform="rotate(-90 289.5 55.6)">f (Hz)</text>
<text class="cap" x="439" y="150.5" text-anchor="middle">(<tspan>b</tspan>)</text>
</g>
<g id="plotC">
<defs><linearGradient id="c0"><stop offset="0.0021" stop-color="#3342b7"/><stop offset="0.0063" stop-color="#363195"/><stop offset="0.0105" stop-color="#352b88"/><stop offset="0.0147" stop-color="#352a87"/><stop offset="0.9979" stop-color="#352a87"/></linearGradient><linearGradient id="c1"><stop offset="0.0021" stop-color="#3342b7"/><stop offset="0.0063" stop-color="#363195"/><stop offset="0.0105" stop-color="#352b88"/><stop offset="0.0147" stop-color="#352a87"/><stop offset="0.9979" stop-color="#352a87"/></linearGradient><linearGradient id="c2"><stop offset="0.0021" stop-color="#3342b7"/><stop offset="0.0063" stop-color="#363195"/><stop offset="0.0105" stop-color="#352b88"/><stop offset="0.0147" stop-color="#352a87"/><stop offset="0.9979" stop-color="#352a87"/></linearGradient><linearGradient id="c3"><stop offset="0.0021" stop-color="#2e48c2"/><stop offset="0.0063" stop-color="#363297"/><stop offset="0.0105" stop-color="#362e8f"/><stop offset="0.0189" stop-color="#352b88"/><stop offset="0.0231" stop-color="#362f91"/><stop offset="0.0273" stop-color="#352a87"/><stop offset="0.0315" stop-color="#362e8f"/><stop offset="0.0357" stop-color="#352c8a"/><stop offset="0.0441" stop-color="#362e8e"/><stop offset="0.0483" stop-color="#352a87"/><stop offset="0.0525" stop-color="#362e8f"/><stop offset="0.0567" stop-color="#352b88"/><stop offset="0.0609" stop-color="#352d8c"/><stop offset="0.0693" stop-color="#352b88"/><stop offset="0.0735" stop-color="#362e8f"/><stop offset="0.0777" stop-color="#352a87"/><stop offset="0.0819" stop-color="#362d8d"/><stop offset="0.0861" stop-color="#352c8a"/><stop offset="0.0945" stop-color="#352d8d"/><stop offset="0.0987" stop-color="#352a87"/><stop offset="0.1029" stop-color="#362e8e"/><stop offset="0.1071" stop-color="#352b88"/><stop offset="0.1113" stop-color="#352c8b"/><stop offset="0.1197" stop-color="#352b88"/><stop offset="0.1239" stop-color="#352d8d"/><stop offset="0.1282" stop-color="#352a87"/><stop offset="0.1324" stop-color="#352d8c"/><stop offset="0.1366" stop-color="#352b89"/><stop offset="0.1450" stop-color="#352d8c"/><stop offset="0.1492" stop-color="#352a87"/><stop offset="0.1534" stop-color="#352d8c"/><stop offset="0.1576" stop-color="#352b88"/><stop offset="0.1702" stop-color="#352b88"/><stop offset="0.1744" stop-color="#352d8c"/><stop offset="0.1786" stop-color="#352a87"/><stop offset="0.1828" stop-color="#352c8b"/><stop offset="0.1954" stop-color="#352c8b"/><stop offset="0.1996" stop-color="#352a87"/><stop offset="0.2038" stop-color="#352c8b"/><stop offset="0.2080" stop-color="#352b88"/><stop offset="0.2248" stop-color="#352c8b"/><stop offset="0.2290" stop-color="#352a87"/><stop offset="0.2332" stop-color="#352c8a"/><stop offset="0.2500" stop-color="#352a87"/><stop offset="0.2542" stop-color="#352c8a"/><stop offset="0.2584" stop-color="#352b87"/><stop offset="0.2752" stop-color="#352c8a"/><stop offset="0.2794" stop-color="#352a87"/><stop offset="0.9979" stop-color="#352a87"/></linearGradient><linearGradient id="c4"><stop offset="0.0021" stop-color="#2e48c2"/><stop offset="0.0063" stop-color="#363297"/><stop offset="0.0105" stop-color="#362e8f"/><stop offset="0.0189" stop-color="#352b88"/><stop offset="0.0231" stop-color="#362f91"/><stop offset="0.0273" stop-color="#352a87"/><stop offset="0.0315" stop-color="#362e8f"/><stop offset="0.0357" stop-color="#352c8a"/><stop offset="0.0441" stop-color="#362e8e"/><stop offset="0.0483" stop-color="#352a87"/><stop offset="0.0525" stop-color="#362e8f"/><stop offset="0.0567" stop-color="#352b88"/><stop offset="0.0609" stop-color="#352d8c"/><stop offset="0.0693" stop-color="#352b88"/><stop offset="0.0735" stop-color="#362e8f"/><stop offset="0.0777" stop-color="#352a87"/><stop offset="0.0819" stop-color="#362d8d"/><stop offset="0.0861" stop-color="#352c8a"/><stop offset="0.0945" stop-color="#352d8d"/><stop offset="0.0987" stop-color="#352a87"/><stop offset="0.1029" stop-color="#362e8e"/><stop offset="0.1071" stop-color="#352b88"/><stop offset="0.1113" stop-color="#352c8b"/><stop offset="0.1197" stop-color="#352b88"/><stop offset="0.1239" stop-color="#352d8d"/><stop offset="0.1282" stop-color="#352a87"/><stop offset="0.1324" stop-color="#352d8c"/><stop offset="0.1366" stop-color="#352b89"/><stop offset="0.1450" stop-color="#352d8c"/><stop offset="0.1492" stop-color="#352a87"/><stop offset="0.1534" stop-color="#352d8c"/><stop offset="0.1576" stop-color="#352b88"/><stop offset="0.1702" stop-color="#352b88"/><stop offset="0.1744" stop-color="#352d8c"/><stop offset="0.1786" stop-color="#352a87"/><stop offset="0.1828" stop-color="#352c8b"/><stop offset="0.1954" stop-color="#352c8b"/><stop offset="0.1996" stop-color="#352a87"/><stop offset="0.2038" stop-color="#352c8b"/><stop offset="0.2080" stop-color="#352b88"/><stop offset="0.2248" stop-color="#352c8b"/><stop offset="0.2290" stop-color="#352a87"/><stop offset="0.2332" stop-color="#352c8a"/><stop offset="0.2500" stop-color="#352a87"/><stop offset="0.2542" stop-color="#352c8a"/><stop offset="0.2584" stop-color="#352b87"/><stop offset="0.2752" stop-color="#352c8a"/><stop offset="0.2794" stop-color="#352a87"/><stop offset="0.9979" stop-color="#352a87"/></linearGradient><linearGradient id="c5"><stop offset="0.0021" stop-color="#2e48c2"/><stop offset="0.0063" stop-color="#363398"/><stop offset="0.0105" stop-color="#362e8f"/><stop offset="0.0189" stop-color="#352c89"/><stop offset="0.0231" stop-color="#362f91"/><stop offset="0.0273" stop-color="#352c8a"/><stop offset="0.0315" stop-color="#362e8f"/><stop offset="0.0357" stop-color="#352c8a"/><stop offset="0.0441" stop-color="#362e8e"/><stop offset="0.0483" stop-color="#352b88"/><stop offset="0.0525" stop-color="#362e8f"/><stop offset="0.0567" stop-color="#352b89"/><stop offset="0.0651" stop-color="#352d8c"/><stop offset="0.0693" stop-color="#352b88"/><stop offset="0.0735" stop-color="#362e8f"/><stop offset="0.0777" stop-color="#352b88"/><stop offset="0.0819" stop-color="#362d8d"/><stop offset="0.0861" stop-color="#352c8a"/><stop offset="0.0945" stop-color="#352d8d"/><stop offset="0.0987" stop-color="#352b87"/><stop offset="0.1029" stop-color="#362e8e"/><stop offset="0.1071" stop-color="#352b88"/><stop offset="0.1113" stop-color="#352c8b"/><stop offset="0.1197" stop-color="#352b88"/><stop offset="0.1239" stop-color="#352d8d"/><stop offset="0.1282" stop-color="#352b87"/><stop offset="0.1324" stop-color="#352d8c"/><stop offset="0.1366" stop-color="#352b89"/><stop offset="0.1450" stop-color="#352d8c"/><stop offset="0.1492" stop-color="#352a87"/><stop offset="0.1534" stop-color="#352d8c"/><stop offset="0.1576" stop-color="#352b88"/><stop offset="0.1702" stop-color="#352b88"/><stop offset="0.1744" stop-color="#352d8c"/><stop offset="0.1786" stop-color="#352a87"/><stop offset="0.1828" stop-color="#352c8b"/><stop offset="0.1954" stop-color="#352c8b"/><stop offset="0.1996" stop-color="#352a87"/><stop offset="0.2038" stop-color="#352c8b"/><stop offset="0.2080" stop-color="#352b88"/><stop offset="0.2248" stop-color="#352c8b"/><stop offset="0.2290" stop-color="#352a87"/><stop offset="0.2332" stop-color="#352c8a"/><stop offset="0.2500" stop-color="#352a87"/><stop offset="0.2542" stop-color="#352c8a"/><stop offset="0.2584" stop-color="#352b87"/><stop offset="0.2752" stop-color="#352c8a"/><stop offset="0.2794" stop-color="#352a87"/><stop offset="0.9979" stop-color="#352a87"/></linearGradient><linearGradient id="c6"><stop offset="0.0021" stop-color="#2e48c2"/><stop offset="0.0063" stop-color="#0266e1"/><stop offset="0.0105" stop-color="#36349a"/><stop offset="0.0147" stop-color="#363399"/><stop offset="0.0189" stop-color="#076fdf"/><stop offset="0.0231" stop-color="#362f91"/><stop offset="0.0273" stop-color="#0d75dc"/><stop offset="0.0315" stop-color="#362f90"/><stop offset="0.0357" stop-color="#353cab"/><stop offset="0.0399" stop-color="#353aa8"/><stop offset="0.0441" stop-color="#362e8f"/><stop offset="0.0483" stop-color="#105bdd"/><stop offset="0.0525" stop-color="#362f8f"/><stop offset="0.0567" stop-color="#3243b9"/><stop offset="0.0609" stop-color="#362f8f"/><stop offset="0.0651" stop-color="#362e8f"/><stop offset="0.0693" stop-color="#353cab"/><stop offset="0.0735" stop-color="#362e8f"/><stop offset="0.0777" stop-color="#343eaf"/><stop offset="0.0819" stop-color="#362e8e"/><stop offset="0.0861" stop-color="#363092"/><stop offset="0.0945" stop-color="#362d8d"/><stop offset="0.0987" stop-color="#36369e"/><stop offset="0.1029" stop-color="#362e8e"/><stop offset="0.1071" stop-color="#363195"/><stop offset="0.1113" stop-color="#352d8c"/><stop offset="0.1197" stop-color="#362f91"/><stop offset="0.1239" stop-color="#352d8d"/><stop offset="0.1282" stop-color="#363091"/><stop offset="0.1366" stop-color="#352d8b"/><stop offset="0.2038" stop-color="#352c8b"/><stop offset="0.2080" stop-color="#352b88"/><stop offset="0.2248" stop-color="#352c8b"/><stop offset="0.2500" stop-color="#352b87"/><stop offset="0.2542" stop-color="#352c8a"/><stop offset="0.2794" stop-color="#352b87"/><stop offset="0.9979" stop-color="#352a87"/></linearGradient><linearGradient id="c7"><stop offset="0.0021" stop-color="#1d54d6"/><stop offset="0.0063" stop-color="#056ee0"/><stop offset="0.0105" stop-color="#06a1cc"/><stop offset="0.0147" stop-color="#06a1cd"/><stop offset="0.0189" stop-color="#0f78da"/><stop offset="0.0231" stop-color="#0364e1"/><stop offset="0.0273" stop-color="#1558da"/><stop offset="0.0315" stop-color="#046ce0"/><stop offset="0.0357" stop-color="#1078da"/><stop offset="0.0399" stop-color="#0b73dd"/><stop offset="0.0441" stop-color="#0d5dde"/><stop offset="0.0483" stop-color="#3342b7"/><stop offset="0.0567" stop-color="#2d49c4"/><stop offset="0.0609" stop-color="#115bdc"/><stop offset="0.0651" stop-color="#1d54d6"/><stop offset="0.0693" stop-color="#3440b3"/><stop offset="0.0777" stop-color="#36359d"/><stop offset="0.0819" stop-color="#353cac"/><stop offset="0.0861" stop-color="#3340b4"/><stop offset="0.0903" stop-color="#343eaf"/><stop offset="0.0987" stop-color="#363093"/><stop offset="0.1029" stop-color="#363399"/><stop offset="0.1071" stop-color="#363297"/><stop offset="0.1113" stop-color="#3637a0"/><stop offset="0.1155" stop-color="#36369e"/><stop offset="0.1197" stop-color="#363093"/><stop offset="0.1239" stop-color="#363093"/><stop offset="0.1282" stop-color="#352d8d"/><stop offset="0.1324" stop-color="#363194"/><stop offset="0.1366" stop-color="#363194"/><stop offset="0.1450" stop-color="#362f91"/><stop offset="0.1492" stop-color="#352c8a"/><stop offset="0.1534" stop-color="#362e8f"/><stop offset="0.1576" stop-color="#352d8c"/><stop offset="0.1618" stop-color="#362f90"/><stop offset="0.1786" stop-color="#352b89"/><stop offset="0.1828" stop-color="#352d8d"/><stop offset="0.1954" stop-color="#352d8c"/><stop offset="0.1996" stop-color="#352b88"/><stop offset="0.2038" stop-color="#352d8c"/><stop offset="0.2206" stop-color="#352b88"/><stop offset="0.2248" stop-color="#352c8b"/><stop offset="0.2290" stop-color="#352b87"/><stop offset="0.2332" stop-color="#352c8b"/><stop offset="0.2500" stop-color="#352b87"/><stop offset="0.2542" stop-color="#352c8a"/><stop offset="0.2794" stop-color="#352a87"/><stop offset="0.2836" stop-color="#352c8a"/><stop offset="0.3004" stop-color="#352a87"/><stop offset="0.3046" stop-color="#352c8a"/><stop offset="0.3088" stop-color="#352b87"/><stop offset="0.9979" stop-color="#352a87"/></linearGradient><linearGradient id="c8"><stop offset="0.0021" stop-color="#095fdf"/><stop offset="0.0063" stop-color="#363398"/><stop offset="0.0105" stop-color="#2a4cc8"/><stop offset="0.0147" stop-color="#2b4ac7"/><stop offset="0.0189" stop-color="#352c8a"/><stop offset="0.0231" stop-color="#137ed7"/><stop offset="0.0273" stop-color="#352b88"/><stop offset="0.0315" stop-color="#0364e1"/><stop offset="0.0357" stop-color="#362f91"/><stop offset="0.0399" stop-color="#362f90"/><stop offset="0.0441" stop-color="#2053d4"/><stop offset="0.0483" stop-color="#352b87"/><stop offset="0.0525" stop-color="#115bdc"/><stop offset="0.0567" stop-color="#352b89"/><stop offset="0.0609" stop-color="#36359d"/><stop offset="0.0651" stop-color="#36349b"/><stop offset="0.0693" stop-color="#352b89"/><stop offset="0.0735" stop-color="#3145bc"/><stop offset="0.0777" stop-color="#352b87"/><stop offset="0.0819" stop-color="#363aa6"/><stop offset="0.0861" stop-color="#352d8b"/><stop offset="0.0903" stop-color="#352c8b"/><stop offset="0.0945" stop-color="#36369f"/><stop offset="0.0987" stop-color="#352a87"/><stop offset="0.1029" stop-color="#3638a2"/><stop offset="0.1071" stop-color="#352b88"/><stop offset="0.1113" stop-color="#362e8f"/><stop offset="0.1155" stop-color="#362e8f"/><stop offset="0.1197" stop-color="#352b88"/><stop offset="0.1239" stop-color="#363399"/><stop offset="0.1282" stop-color="#352a87"/><stop offset="0.1324" stop-color="#363092"/><stop offset="0.1366" stop-color="#352c8a"/><stop offset="0.1408" stop-color="#352c89"/><stop offset="0.1450" stop-color="#362f90"/><stop offset="0.1492" stop-color="#352a87"/><stop offset="0.1534" stop-color="#363091"/><stop offset="0.1576" stop-color="#352b88"/><stop offset="0.1618" stop-color="#352d8b"/><stop offset="0.1702" stop-color="#352b88"/><stop offset="0.1744" stop-color="#362e8f"/><stop offset="0.1786" stop-color="#352a87"/><stop offset="0.1828" stop-color="#352d8d"/><stop offset="0.1870" stop-color="#352b89"/><stop offset="0.1954" stop-color="#352d8c"/><stop offset="0.1996" stop-color="#352a87"/><stop offset="0.2038" stop-color="#352d8c"/><stop offset="0.2080" stop-color="#352b88"/><stop offset="0.2248" stop-color="#352d8b"/><stop offset="0.2290" stop-color="#352a87"/><stop offset="0.2332" stop-color="#352c8a"/><stop offset="0.2500" stop-color="#352a87"/><stop offset="0.2542" stop-color="#352c8b"/><stop offset="0.2584" stop-color="#352b87"/><stop offset="0.2752" stop-color="#352c8a"/><stop offset="0.2794" stop-color="#352a87"/><stop offset="0.3046" stop-color="#352c8a"/><stop offset="0.3088" stop-color="#352b87"/><stop offset="0.9979" stop-color="#352a87"/></linearGradient><linearGradient id="c9"><stop offset="0.0021" stop-color="#2d48c3"/><stop offset="0.0063" stop-color="#363297"/><stop offset="0.0105" stop-color="#362e8f"/><stop offset="0.0189" stop-color="#352b88"/><stop offset="0.0231" stop-color="#363093"/><stop offset="0.0273" stop-color="#352a87"/><stop offset="0.0315" stop-color="#362f90"/><stop offset="0.0357" stop-color="#352c8a"/><stop offset="0.0441" stop-color="#362e8f"/><stop offset="0.0483" stop-color="#352a87"/><stop offset="0.0525" stop-color="#362f91"/><stop offset="0.0567" stop-color="#352b88"/><stop offset="0.0609" stop-color="#352d8c"/><stop offset="0.0693" stop-color="#352b88"/><stop offset="0.0735" stop-color="#362e8f"/><stop offset="0.0777" stop-color="#352a87"/><stop offset="0.0819" stop-color="#362e8d"/><stop offset="0.0861" stop-color="#352c8a"/><stop offset="0.0945" stop-color="#362d8d"/><stop offset="0.0987" stop-color="#352a87"/><stop offset="0.1029" stop-color="#362e8e"/><stop offset="0.1071" stop-color="#352b88"/><stop offset="0.1113" stop-color="#352c8b"/><stop offset="0.1197" stop-color="#352b88"/><stop offset="0.1239" stop-color="#362d8d"/><stop offset="0.1282" stop-color="#352a87"/><stop offset="0.1324" stop-color="#352d8c"/><stop offset="0.1366" stop-color="#352b89"/><stop offset="0.1450" stop-color="#352d8c"/><stop offset="0.1492" stop-color="#352a87"/><stop offset="0.1534" stop-color="#352d8c"/><stop offset="0.1576" stop-color="#352b88"/><stop offset="0.1702" stop-color="#352b88"/><stop offset="0.1744" stop-color="#352d8c"/><stop offset="0.1786" stop-color="#352a87"/><stop offset="0.1828" stop-color="#352c8b"/><stop offset="0.1954" stop-color="#352c8b"/><stop offset="0.1996" stop-color="#352a87"/><stop offset="0.2038" stop-color="#352c8b"/><stop offset="0.2080" stop-color="#352b88"/><stop offset="0.2248" stop-color="#352c8b"/><stop offset="0.2290" stop-color="#352a87"/><stop offset="0.2332" stop-color="#352c8a"/><stop offset="0.2500" stop-color="#352a87"/><stop offset="0.2542" stop-color="#352c8a"/><stop offset="0.2584" stop-color="#352b87"/><stop offset="0.2752" stop-color="#352c8a"/><stop offset="0.2794" stop-color="#352a87"/><stop offset="0.9979" stop-color="#352a87"/></linearGradient><linearGradient id="c10"><stop offset="0.0021" stop-color="#2e48c2"/><stop offset="0.0063" stop-color="#363297"/><stop offset="0.0105" stop-color="#362e8f"/><stop offset="0.0189" stop-color="#352b88"/><stop offset="0.0231" stop-color="#362f91"/><stop offset="0.0273" stop-color="#352a87"/><stop offset="0.0315" stop-color="#362e8f"/><stop offset="0.0357" stop-color="#352c8a"/><stop offset="0.0441" stop-color="#362e8e"/><stop offset="0.0483" stop-color="#352a87"/><stop offset="0.0525" stop-color="#362e8f"/><stop offset="0.0567" stop-color="#352b88"/><stop offset="0.0609" stop-color="#352d8c"/><stop offset="0.0693" stop-color="#352b88"/><stop offset="0.0735" stop-color="#362e8f"/><stop offset="0.0777" stop-color="#352a87"/><stop offset="0.0819" stop-color="#362d8d"/><stop offset="0.0861" stop-color="#352c8a"/><stop offset="0.0945" stop-color="#352d8d"/><stop offset="0.0987" stop-color="#352a87"/><stop offset="0.1029" stop-color="#362e8e"/><stop offset="0.1071" stop-color="#352b88"/><stop offset="0.1113" stop-color="#352c8b"/><stop offset="0.1197" stop-color="#352b88"/><stop offset="0.1239" stop-color="#352d8d"/><stop offset="0.1282" stop-color="#352a87"/><stop offset="0.1324" stop-color="#352d8c"/><stop offset="0.1366" stop-color="#352b89"/><stop offset="0.1450" stop-color="#352d8c"/><stop offset="0.1492" stop-color="#352a87"/><stop offset="0.1534" stop-color="#352d8c"/><stop offset="0.1576" stop-color="#352b88"/><stop offset="0.1702" stop-color="#352b88"/><stop offset="0.1744" stop-color="#352d8c"/><stop offset="0.1786" stop-color="#352a87"/><stop offset="0.1828" stop-color="#352c8b"/><stop offset="0.1954" stop-color="#352c8b"/><stop offset="0.1996" stop-color="#352a87"/><stop offset="0.2038" stop-color="#352c8b"/><stop offset="0.2080" stop-color="#352b88"/><stop offset="0.2248" stop-color="#352c8b"/><stop offset="0.2290" stop-color="#352a87"/><stop offset="0.2332" stop-color="#352c8a"/><stop offset="0.2500" stop-color="#352a87"/><stop offset="0.2542" stop-color="#352c8a"/><stop offset="0.2584" stop-color="#352b87"/><stop offset="0.2752" stop-color="#352c8a"/><stop offset="0.2794" stop-color="#352a87"/><stop offset="0.9979" stop-color="#352a87"/></linearGradient><linearGradient id="c11"><stop offset="0.0021" stop-color="#2e48c2"/><stop offset="0.0063" stop-color="#363297"/><stop offset="0.0105" stop-color="#362e8f"/><stop offset="0.0189" stop-color="#352b88"/><stop offset="0.0231" stop-color="#362f91"/><stop offset="0.0273" stop-color="#352a87"/><stop offset="0.0315" stop-color="#362e8f"/><stop offset="0.0357" stop-color="#352c8a"/><stop offset="0.0441" stop-color="#362e8e"/><stop offset="0.0483" stop-color="#352a87"/><stop offset="0.0525" stop-color="#362e8f"/><stop offset="0.0567" stop-color="#352b88"/><stop offset="0.0609" stop-color="#352d8c"/><stop offset="0.0693" stop-color="#352b88"/><stop offset="0.0735" stop-color="#362e8f"/><stop offset="0.0777" stop-color="#352a87"/><stop offset="0.0819" stop-color="#362d8d"/><stop offset="0.0861" stop-color="#352c8a"/><stop offset="0.0945" stop-color="#352d8d"/><stop offset="0.0987" stop-color="#352a87"/><stop offset="0.1029" stop-color="#362e8e"/><stop offset="0.1071" stop-color="#352b88"/><stop offset="0.1113" stop-color="#352c8b"/><stop offset="0.1197" stop-color="#352b88"/><stop offset="0.1239" stop-color="#352d8d"/><stop offset="0.1282" stop-color="#352a87"/><stop offset="0.1324" stop-color="#352d8c"/><stop offset="0.1366" stop-color="#352b89"/><stop offset="0.1450" stop-color="#352d8c"/><stop offset="0.1492" stop-color="#352a87"/><stop offset="0.1534" stop-color="#352d8c"/><stop offset="0.1576" stop-color="#352b88"/><stop offset="0.1702" stop-color="#352b88"/><stop offset="0.1744" stop-color="#352d8c"/><stop offset="0.1786" stop-color="#352a87"/><stop offset="0.1828" stop-color="#352c8b"/><stop offset="0.1954" stop-color="#352c8b"/><stop offset="0.1996" stop-color="#352a87"/><stop offset="0.2038" stop-color="#352c8b"/><stop offset="0.2080" stop-color="#352b88"/><stop offset="0.2248" stop-color="#352c8b"/><stop offset="0.2290" stop-color="#352a87"/><stop offset="0.2332" stop-color="#352c8a"/><stop offset="0.2500" stop-color="#352a87"/><stop offset="0.2542" stop-color="#352c8a"/><stop offset="0.2584" stop-color="#352b87"/><stop offset="0.2752" stop-color="#352c8a"/><stop offset="0.2794" stop-color="#352a87"/><stop offset="0.9979" stop-color="#352a87"/></linearGradient><linearGradient id="c12"><stop offset="0.0021" stop-color="#2e48c2"/><stop offset="0.0063" stop-color="#363297"/><stop offset="0.0105" stop-color="#362e8f"/><stop offset="0.0189" stop-color="#352b88"/><stop offset="0.0231" stop-color="#362f91"/><stop offset="0.0273" stop-color="#352a87"/><stop offset="0.0315" stop-color="#362e8f"/><stop offset="0.0357" stop-color="#352c8a"/><stop offset="0.0441" stop-color="#362e8e"/><stop offset="0.0483" stop-color="#352a87"/><stop offset="0.0525" stop-color="#362e8f"/><stop offset="0.0567" stop-color="#352b88"/><stop offset="0.0609" stop-color="#352d8c"/><stop offset="0.0693" stop-color="#352b88"/><stop offset="0.0735" stop-color="#362e8f"/><stop offset="0.0777" stop-color="#352a87"/><stop offset="0.0819" stop-color="#362d8d"/><stop offset="0.0861" stop-color="#352c8a"/><stop offset="0.0945" stop-color="#352d8d"/><stop offset="0.0987" stop-color="#352a87"/><stop offset="0.1029" stop-color="#362e8e"/><stop offset="0.1071" stop-color="#352b88"/><stop offset="0.1113" stop-color="#352c8b"/><stop offset="0.1197" stop-color="#352b88"/><stop offset="0.1239" stop-color="#352d8d"/><stop offset="0.1282" stop-color="#352a87"/><stop offset="0.1324" stop-color="#352d8c"/><stop offset="0.1366" stop-color="#352b89"/><stop offset="0.1450" stop-color="#352d8c"/><stop offset="0.1492" stop-color="#352a87"/><stop offset="0.1534" stop-color="#352d8c"/><stop offset="0.1576" stop-color="#352b88"/><stop offset="0.1702" stop-color="#352b88"/><stop offset="0.1744" stop-color="#352d8c"/><stop offset="0.1786" stop-color="#352a87"/><stop offset="0.1828" stop-color="#352c8b"/><stop offset="0.1954" stop-color="#352c8b"/><stop offset="0.1996" stop-color="#352a87"/><stop offset="0.2038" stop-color="#352c8b"/><stop offset="0.2080" stop-color="#352b88"/><stop offset="0.2248" stop-color="#352c8b"/><stop offset="0.2290" stop-color="#352a87"/><stop offset="0.2332" stop-color="#352c8a"/><stop offset="0.2500" stop-color="#352a87"/><stop offset="0.2542" stop-color="#352c8a"/><stop offset="0.2584" stop-color="#352b87"/><stop offset="0.2752" stop-color="#352c8a"/><stop offset="0.2794" stop-color="#352a87"/><stop offset="0.9979" stop-color="#352a87"/></linearGradient><linearGradient id="c13"><stop offset="0.0021" stop-color="#2e48c2"/><stop offset="0.0063" stop-color="#363297"/><stop offset="0.0105" stop-color="#362e8f"/><stop offset="0.0189" stop-color="#352b88"/><stop offset="0.0231" stop-color="#362f91"/><stop offset="0.0273" stop-color="#352a87"/><stop offset="0.0315" stop-color="#362e8f"/><stop offset="0.0357" stop-color="#352c8a"/><stop offset="0.0441" stop-color="#362e8e"/><stop offset="0.0483" stop-color="#352a87"/><stop offset="0.0525" stop-color="#362e8f"/><stop offset="0.0567" stop-color="#352b88"/><stop offset="0.0609" stop-color="#352d8c"/><stop offset="0.0693" stop-color="#352b88"/><stop offset="0.0735" stop-color="#362e8f"/><stop offset="0.0777" stop-color="#352a87"/><stop offset="0.0819" stop-color="#362d8d"/><stop offset="0.0861" stop-color="#352c8a"/><stop offset="0.0945" stop-color="#352d8d"/><stop offset="0.0987" stop-color="#352a87"/><stop offset="0.1029" stop-color="#362e8e"/><stop offset="0.1071" stop-color="#352b88"/><stop offset="0.1113" stop-color="#352c8b"/><stop offset="0.1197" stop-color="#352b88"/><stop offset="0.1239" stop-color="#352d8d"/><stop offset="0.1282" stop-color="#352a87"/><stop offset="0.1324" stop-color="#352d8c"/><stop offset="0.1366" stop-color="#352b89"/><stop offset="0.1450" stop-color="#352d8c"/><stop offset="0.1492" stop-color="#352a87"/><stop offset="0.1534" stop-color="#352d8c"/><stop offset="0.1576" stop-color="#352b88"/><stop offset="0.1702" stop-color="#352b88"/><stop offset="0.1744" stop-color="#352d8c"/><stop offset="0.1786" stop-color="#352a87"/><stop offset="0.1828" stop-color="#352c8b"/><stop offset="0.1954" stop-color="#352c8b"/><stop offset="0.1996" stop-color="#352a87"/><stop offset="0.2038" stop-color="#352c8b"/><stop offset="0.2080" stop-color="#352b88"/><stop offset="0.2248" stop-color="#352c8b"/><stop offset="0.2290" stop-color="#352a87"/><stop offset="0.2332" stop-color="#352c8a"/><stop offset="0.2500" stop-color="#352a87"/><stop offset="0.2542" stop-color="#352c8a"/><stop offset="0.2584" stop-color="#352b87"/><stop offset="0.2752" stop-color="#352c8a"/><stop offset="0.2794" stop-color="#352a87"/><stop offset="0.9979" stop-color="#352a87"/></linearGradient><linearGradient id="c14"><stop offset="0.0021" stop-color="#2e48c2"/><stop offset="0.0063" stop-color="#363297"/><stop offset="0.0105" stop-color="#362e8f"/><stop offset="0.0189" stop-color="#352b88"/><stop offset="0.0231" stop-color="#362f91"/><stop offset="0.0273" stop-color="#352a87"/><stop offset="0.0315" stop-color="#362e8f"/><stop offset="0.0357" stop-color="#352c8a"/><stop offset="0.0441" stop-color="#362e8e"/><stop offset="0.0483" stop-color="#352a87"/><stop offset="0.0525" stop-color="#362e8f"/><stop offset="0.0567" stop-color="#352b88"/><stop offset="0.0609" stop-color="#352d8c"/><stop offset="0.0693" stop-color="#352b88"/><stop offset="0.0735" stop-color="#362e8f"/><stop offset="0.0777" stop-color="#352a87"/><stop offset="0.0819" stop-color="#362d8d"/><stop offset="0.0861" stop-color="#352c8a"/><stop offset="0.0945" stop-color="#352d8d"/><stop offset="0.0987" stop-color="#352a87"/><stop offset="0.1029" stop-color="#362e8e"/><stop offset="0.1071" stop-color="#352b88"/><stop offset="0.1113" stop-color="#352c8b"/><stop offset="0.1197" stop-color="#352b88"/><stop offset="0.1239" stop-color="#352d8d"/><stop offset="0.1282" stop-color="#352a87"/><stop offset="0.1324" stop-color="#352d8c"/><stop offset="0.1366" stop-color="#352b89"/><stop offset="0.1450" stop-color="#352d8c"/><stop offset="0.1492" stop-color="#352a87"/><stop offset="0.1534" stop-color="#352d8c"/><stop offset="0.1576" stop-color="#352b88"/><stop offset="0.1702" stop-color="#352b88"/><stop offset="0.1744" stop-color="#352d8c"/><stop offset="0.1786" stop-color="#352a87"/><stop offset="0.1828" stop-color="#352c8b"/><stop offset="0.1954" stop-color="#352c8b"/><stop offset="0.1996" stop-color="#352a87"/><stop offset="0.2038" stop-color="#352c8b"/><stop offset="0.2080" stop-color="#352b88"/><stop offset="0.2248" stop-color="#352c8b"/><stop offset="0.2290" stop-color="#352a87"/><stop offset="0.2332" stop-color="#352c8a"/><stop offset="0.2500" stop-color="#352a87"/><stop offset="0.2542" stop-color="#352c8a"/><stop offset="0.2584" stop-color="#352b87"/><stop offset="0.2752" stop-color="#352c8a"/><stop offset="0.2794" stop-color="#352a87"/><stop offset="0.9979" stop-color="#352a87"/></linearGradient><linearGradient id="c15"><stop offset="0.0021" stop-color="#2e48c2"/><stop offset="0.0063" stop-color="#363297"/><stop offset="0.0105" stop-color="#362e8f"/><stop offset="0.0189" stop-color="#352b88"/><stop offset="0.0231" stop-color="#362f91"/><stop offset="0.0273" stop-color="#352a87"/><stop offset="0.0315" stop-color="#362e8f"/><stop offset="0.0357" stop-color="#352c8a"/><stop offset="0.0441" stop-color="#362e8e"/><stop offset="0.0483" stop-color="#352a87"/><stop offset="0.0525" stop-color="#362e8f"/><stop offset="0.0567" stop-color="#352b88"/><stop offset="0.0609" stop-color="#352d8c"/><stop offset="0.0693" stop-color="#352b88"/><stop offset="0.0735" stop-color="#362e8f"/><stop offset="0.0777" stop-color="#352a87"/><stop offset="0.0819" stop-color="#362d8d"/><stop offset="0.0861" stop-color="#352c8a"/><stop offset="0.0945" stop-color="#352d8d"/><stop offset="0.0987" stop-color="#352a87"/><stop offset="0.1029" stop-color="#362e8e"/><stop offset="0.1071" stop-color="#352b88"/><stop offset="0.1113" stop-color="#352c8b"/><stop offset="0.1197" stop-color="#352b88"/><stop offset="0.1239" stop-color="#352d8d"/><stop offset="0.1282" stop-color="#352a87"/><stop offset="0.1324" stop-color="#352d8c"/><stop offset="0.1366" stop-color="#352b89"/><stop offset="0.1450" stop-color="#352d8c"/><stop offset="0.1492" stop-color="#352a87"/><stop offset="0.1534" stop-color="#352d8c"/><stop offset="0.1576" stop-color="#352b88"/><stop offset="0.1702" stop-color="#352b88"/><stop offset="0.1744" stop-color="#352d8c"/><stop offset="0.1786" stop-color="#352a87"/><stop offset="0.1828" stop-color="#352c8b"/><stop offset="0.1954" stop-color="#352c8b"/><stop offset="0.1996" stop-color="#352a87"/><stop offset="0.2038" stop-color="#352c8b"/><stop offset="0.2080" stop-color="#352b88"/><stop offset="0.2248" stop-color="#352c8b"/><stop offset="0.2290" stop-color="#352a87"/><stop offset="0.2332" stop-color="#352c8a"/><stop offset="0.2500" stop-color="#352a87"/><stop offset="0.2542" stop-color="#352c8a"/><stop offset="0.2584" stop-color="#352b87"/><stop offset="0.2752" stop-color="#352c8a"/><stop offset="0.2794" stop-color="#352a87"/><stop offset="0.9979" stop-color="#352a87"/></linearGradient><linearGradient id="c16"><stop offset="0.0021" stop-color="#2e48c2"/><stop offset="0.0063" stop-color="#363297"/><stop offset="0.0105" stop-color="#362e8f"/><stop offset="0.0189" stop-color="#352b88"/><stop offset="0.0231" stop-color="#362f91"/><stop offset="0.0273" stop-color="#352a87"/><stop offset="0.0315" stop-color="#362e8f"/><stop offset="0.0357" stop-color="#352c8a"/><stop offset="0.0441" stop-color="#362e8e"/><stop offset="0.0483" stop-color="#352a87"/><stop offset="0.0525" stop-color="#362e8f"/><stop offset="0.0567" stop-color="#352b88"/><stop offset="0.0609" stop-color="#352d8c"/><stop offset="0.0693" stop-color="#352b88"/><stop offset="0.0735" stop-color="#362e8f"/><stop offset="0.0777" stop-color="#352a87"/><stop offset="0.0819" stop-color="#362d8d"/><stop offset="0.0861" stop-color="#352c8a"/><stop offset="0.0945" stop-color="#352d8d"/><stop offset="0.0987" stop-color="#352a87"/><stop offset="0.1029" stop-color="#362e8e"/><stop offset="0.1071" stop-color="#352b88"/><stop offset="0.1113" stop-color="#352c8b"/><stop offset="0.1197" stop-color="#352b88"/><stop offset="0.1239" stop-color="#352d8d"/><stop offset="0.1282" stop-color="#352a87"/><stop offset="0.1324" stop-color="#352d8c"/><stop offset="0.1366" stop-color="#352b89"/><stop offset="0.1450" stop-color="#352d8c"/><stop offset="0.1492" stop-color="#352a87"/><stop offset="0.1534" stop-color="#352d8c"/><stop offset="0.1576" stop-color="#352b88"/><stop offset="0.1702" stop-color="#352b88"/><stop offset="0.1744" stop-color="#352d8c"/><stop offset="0.1786" stop-color="#352a87"/><stop offset="0.1828" stop-color="#352c8b"/><stop offset="0.1954" stop-color="#352c8b"/><stop offset="0.1996" stop-color="#352a87"/><stop offset="0.2038" stop-color="#352c8b"/><stop offset="0.2080" stop-color="#352b88"/><stop offset="0.2248" stop-color="#352c8b"/><stop offset="0.2290" stop-color="#352a87"/><stop offset="0.2332" stop-color="#352c8a"/><stop offset="0.2500" stop-color="#352a87"/><stop offset="0.2542" stop-color="#352c8a"/><stop offset="0.2584" stop-color="#352b87"/><stop offset="0.2752" stop-color="#352c8a"/><stop offset="0.2794" stop-color="#352a87"/><stop offset="0.9979" stop-color="#352a87"/></linearGradient><linearGradient id="c17"><stop offset="0.0021" stop-color="#2e48c2"/><stop offset="0.0063" stop-color="#363297"/><stop offset="0.0105" stop-color="#362e8f"/><stop offset="0.0189" stop-color="#352b89"/><stop offset="0.0231" stop-color="#362f91"/><stop offset="0.0273" stop-color="#352b89"/><stop offset="0.0315" stop-color="#362e8f"/><stop offset="0.0357" stop-color="#352c8a"/><stop offset="0.0441" stop-color="#362e8e"/><stop offset="0.0483" stop-color="#352b88"/><stop offset="0.0525" stop-color="#362e8f"/><stop offset="0.0567" stop-color="#352b89"/><stop offset="0.0651" stop-color="#352d8c"/><stop offset="0.0693" stop-color="#352b88"/><stop offset="0.0735" stop-color="#362e8f"/><stop offset="0.0777" stop-color="#352b88"/><stop offset="0.0819" stop-color="#362d8d"/><stop offset="0.0861" stop-color="#352c8a"/><stop offset="0.0945" stop-color="#352d8d"/><stop offset="0.0987" stop-color="#352b88"/><stop offset="0.1029" stop-color="#362e8e"/><stop offset="0.1071" stop-color="#352b88"/><stop offset="0.1113" stop-color="#352c8b"/><stop offset="0.1197" stop-color="#352b88"/><stop offset="0.1239" stop-color="#352d8d"/><stop offset="0.1282" stop-color="#352b87"/><stop offset="0.1324" stop-color="#352d8c"/><stop offset="0.1366" stop-color="#352b89"/><stop offset="0.1450" stop-color="#352d8c"/><stop offset="0.1492" stop-color="#352b87"/><stop offset="0.1534" stop-color="#352d8c"/><stop offset="0.1576" stop-color="#352b88"/><stop offset="0.1702" stop-color="#352b88"/><stop offset="0.1744" stop-color="#352d8c"/><stop offset="0.1786" stop-color="#352b87"/><stop offset="0.1828" stop-color="#352c8b"/><stop offset="0.1954" stop-color="#352c8b"/><stop offset="0.1996" stop-color="#352a87"/><stop offset="0.2038" stop-color="#352c8b"/><stop offset="0.2080" stop-color="#352b88"/><stop offset="0.2248" stop-color="#352c8b"/><stop offset="0.2290" stop-color="#352a87"/><stop offset="0.2332" stop-color="#352c8a"/><stop offset="0.2500" stop-color="#352a87"/><stop offset="0.2542" stop-color="#352c8a"/><stop offset="0.2584" stop-color="#352b87"/><stop offset="0.2752" stop-color="#352c8a"/><stop offset="0.2794" stop-color="#352a87"/><stop offset="0.9979" stop-color="#352a87"/></linearGradient><linearGradient id="c18"><stop offset="0.0021" stop-color="#2e48c2"/><stop offset="0.0063" stop-color="#1558da"/><stop offset="0.0105" stop-color="#363399"/><stop offset="0.0147" stop-color="#363398"/><stop offset="0.0189" stop-color="#036be1"/><stop offset="0.0231" stop-color="#362f91"/><stop offset="0.0273" stop-color="#0e77db"/><stop offset="0.0315" stop-color="#362f91"/><stop offset="0.0357" stop-color="#3341b5"/><stop offset="0.0399" stop-color="#3340b3"/><stop offset="0.0441" stop-color="#362f91"/><stop offset="0.0483" stop-color="#056de0"/><stop offset="0.0525" stop-color="#362f90"/><stop offset="0.0567" stop-color="#1658da"/><stop offset="0.0609" stop-color="#363296"/><stop offset="0.0651" stop-color="#363296"/><stop offset="0.0693" stop-color="#2252d2"/><stop offset="0.0735" stop-color="#362f90"/><stop offset="0.0777" stop-color="#0860df"/><stop offset="0.0819" stop-color="#362f90"/><stop offset="0.0861" stop-color="#363aa6"/><stop offset="0.0903" stop-color="#3639a6"/><stop offset="0.0945" stop-color="#362f90"/><stop offset="0.0987" stop-color="#1d54d5"/><stop offset="0.1029" stop-color="#362e8f"/><stop offset="0.1071" stop-color="#3144bb"/><stop offset="0.1113" stop-color="#363093"/><stop offset="0.1155" stop-color="#363093"/><stop offset="0.1197" stop-color="#3341b5"/><stop offset="0.1239" stop-color="#362e8e"/><stop offset="0.1282" stop-color="#2e48c2"/><stop offset="0.1324" stop-color="#362e8f"/><stop offset="0.1366" stop-color="#36359d"/><stop offset="0.1408" stop-color="#36359c"/><stop offset="0.1450" stop-color="#362e8f"/><stop offset="0.1492" stop-color="#3342b7"/><stop offset="0.1534" stop-color="#362e8e"/><stop offset="0.1576" stop-color="#353aa8"/><stop offset="0.1618" stop-color="#362f91"/><stop offset="0.1660" stop-color="#362f91"/><stop offset="0.1702" stop-color="#3639a4"/><stop offset="0.1744" stop-color="#362e8d"/><stop offset="0.1786" stop-color="#353cab"/><stop offset="0.1828" stop-color="#362e8e"/><stop offset="0.1870" stop-color="#363297"/><stop offset="0.1912" stop-color="#363296"/><stop offset="0.1954" stop-color="#362e8e"/><stop offset="0.1996" stop-color="#3639a4"/><stop offset="0.2038" stop-color="#362d8d"/><stop offset="0.2080" stop-color="#36359c"/><stop offset="0.2122" stop-color="#362f8f"/><stop offset="0.2164" stop-color="#362e8f"/><stop offset="0.2206" stop-color="#36349a"/><stop offset="0.2248" stop-color="#352d8d"/><stop offset="0.2290" stop-color="#36359d"/><stop offset="0.2332" stop-color="#362d8d"/><stop offset="0.2374" stop-color="#363092"/><stop offset="0.2458" stop-color="#352d8d"/><stop offset="0.2500" stop-color="#36339a"/><stop offset="0.2542" stop-color="#352d8c"/><stop offset="0.2584" stop-color="#363195"/><stop offset="0.2626" stop-color="#362e8e"/><stop offset="0.2668" stop-color="#362e8e"/><stop offset="0.2710" stop-color="#363194"/><stop offset="0.2752" stop-color="#352d8c"/><stop offset="0.2794" stop-color="#363195"/><stop offset="0.2836" stop-color="#352d8c"/><stop offset="0.2878" stop-color="#362e8f"/><stop offset="0.2962" stop-color="#352d8c"/><stop offset="0.3004" stop-color="#363093"/><stop offset="0.3046" stop-color="#352d8b"/><stop offset="0.3088" stop-color="#362f91"/><stop offset="0.3130" stop-color="#352d8c"/><stop offset="0.3214" stop-color="#362f90"/><stop offset="0.3256" stop-color="#352c8b"/><stop offset="0.3298" stop-color="#362f91"/><stop offset="0.3340" stop-color="#352d8b"/><stop offset="0.3466" stop-color="#352c8b"/><stop offset="0.3508" stop-color="#362e8f"/><stop offset="0.3550" stop-color="#352c8b"/><stop offset="0.3592" stop-color="#362e8e"/><stop offset="0.3761" stop-color="#352c8a"/><stop offset="0.4013" stop-color="#352d8d"/><stop offset="0.4055" stop-color="#352c8a"/><stop offset="0.4769" stop-color="#352c89"/><stop offset="0.9979" stop-color="#352a87"/></linearGradient><linearGradient id="c19"><stop offset="0.0021" stop-color="#2350d0"/><stop offset="0.0063" stop-color="#0363e1"/><stop offset="0.0105" stop-color="#0f90d2"/><stop offset="0.0147" stop-color="#0998d1"/><stop offset="0.0189" stop-color="#117ad9"/><stop offset="0.0231" stop-color="#046de0"/><stop offset="0.0273" stop-color="#0269e1"/><stop offset="0.0315" stop-color="#127bd9"/><stop offset="0.0357" stop-color="#108fd2"/><stop offset="0.0399" stop-color="#118dd2"/><stop offset="0.0441" stop-color="#117ada"/><stop offset="0.0483" stop-color="#026ae1"/><stop offset="0.0525" stop-color="#046de0"/><stop offset="0.0567" stop-color="#0e76dc"/><stop offset="0.0609" stop-color="#1485d4"/><stop offset="0.0651" stop-color="#1484d4"/><stop offset="0.0693" stop-color="#0c74dd"/><stop offset="0.0735" stop-color="#046ce0"/><stop offset="0.0777" stop-color="#0269e1"/><stop offset="0.0861" stop-color="#137dd8"/><stop offset="0.0903" stop-color="#127cd8"/><stop offset="0.0987" stop-color="#0267e1"/><stop offset="0.1071" stop-color="#066fdf"/><stop offset="0.1113" stop-color="#0f77db"/><stop offset="0.1155" stop-color="#0e76dc"/><stop offset="0.1197" stop-color="#046de0"/><stop offset="0.1282" stop-color="#0364e1"/><stop offset="0.1366" stop-color="#0871de"/><stop offset="0.1408" stop-color="#0770df"/><stop offset="0.1450" stop-color="#036ae1"/><stop offset="0.1492" stop-color="#0661e0"/><stop offset="0.1618" stop-color="#036be0"/><stop offset="0.1660" stop-color="#036be1"/><stop offset="0.1702" stop-color="#0364e1"/><stop offset="0.1786" stop-color="#0f5cde"/><stop offset="0.1828" stop-color="#0363e1"/><stop offset="0.1870" stop-color="#0265e1"/><stop offset="0.1954" stop-color="#0860df"/><stop offset="0.1996" stop-color="#1757d9"/><stop offset="0.2080" stop-color="#115bdd"/><stop offset="0.2122" stop-color="#095fdf"/><stop offset="0.2164" stop-color="#0b5edf"/><stop offset="0.2206" stop-color="#1757d9"/><stop offset="0.2290" stop-color="#2251d1"/><stop offset="0.2374" stop-color="#1757d9"/><stop offset="0.2458" stop-color="#2053d4"/><stop offset="0.2500" stop-color="#284dcb"/><stop offset="0.2626" stop-color="#2351d1"/><stop offset="0.2794" stop-color="#2e48c2"/><stop offset="0.2878" stop-color="#2c4ac7"/><stop offset="0.2962" stop-color="#2d48c3"/><stop offset="0.3004" stop-color="#3045bd"/><stop offset="0.3130" stop-color="#2f46bf"/><stop offset="0.3298" stop-color="#3342b6"/><stop offset="0.3382" stop-color="#3242b8"/><stop offset="0.3508" stop-color="#343fb1"/><stop offset="0.3634" stop-color="#3440b2"/><stop offset="0.3803" stop-color="#353cab"/><stop offset="0.3845" stop-color="#353dad"/><stop offset="0.4517" stop-color="#3637a0"/><stop offset="0.6029" stop-color="#363092"/><stop offset="0.9979" stop-color="#352b88"/></linearGradient><linearGradient id="c20"><stop offset="0.0021" stop-color="#1658d9"/><stop offset="0.0063" stop-color="#363398"/><stop offset="0.0105" stop-color="#3145bc"/><stop offset="0.0147" stop-color="#3046bf"/><stop offset="0.0189" stop-color="#352c8a"/><stop offset="0.0231" stop-color="#127cd8"/><stop offset="0.0273" stop-color="#352b88"/><stop offset="0.0315" stop-color="#0268e1"/><stop offset="0.0357" stop-color="#363195"/><stop offset="0.0399" stop-color="#363195"/><stop offset="0.0441" stop-color="#0363e1"/><stop offset="0.0483" stop-color="#352b88"/><stop offset="0.0525" stop-color="#066edf"/><stop offset="0.0567" stop-color="#352c8b"/><stop offset="0.0609" stop-color="#353eaf"/><stop offset="0.0651" stop-color="#353dae"/><stop offset="0.0693" stop-color="#352c8b"/><stop offset="0.0735" stop-color="#0265e1"/><stop offset="0.0777" stop-color="#352b88"/><stop offset="0.0819" stop-color="#2450cf"/><stop offset="0.0861" stop-color="#363093"/><stop offset="0.0903" stop-color="#363093"/><stop offset="0.0945" stop-color="#2b4bc7"/><stop offset="0.0987" stop-color="#352b88"/><stop offset="0.1029" stop-color="#1957d8"/><stop offset="0.1071" stop-color="#352c8b"/><stop offset="0.1113" stop-color="#3638a3"/><stop offset="0.1155" stop-color="#3638a2"/><stop offset="0.1197" stop-color="#352c8b"/><stop offset="0.1239" stop-color="#284dca"/><stop offset="0.1282" stop-color="#352b89"/><stop offset="0.1324" stop-color="#3341b5"/><stop offset="0.1366" stop-color="#362f91"/><stop offset="0.1408" stop-color="#362f91"/><stop offset="0.1450" stop-color="#343eb0"/><stop offset="0.1492" stop-color="#352b89"/><stop offset="0.1534" stop-color="#3244ba"/><stop offset="0.1576" stop-color="#352c8b"/><stop offset="0.1618" stop-color="#36349b"/><stop offset="0.1660" stop-color="#36349a"/><stop offset="0.1702" stop-color="#352c8b"/><stop offset="0.1744" stop-color="#343fb1"/><stop offset="0.1786" stop-color="#352b89"/><stop offset="0.1828" stop-color="#3639a5"/><stop offset="0.1870" stop-color="#362e8f"/><stop offset="0.1912" stop-color="#362e8f"/><stop offset="0.1954" stop-color="#3637a2"/><stop offset="0.1996" stop-color="#352b89"/><stop offset="0.2038" stop-color="#363aa7"/><stop offset="0.2080" stop-color="#352c8b"/><stop offset="0.2122" stop-color="#363195"/><stop offset="0.2164" stop-color="#363195"/><stop offset="0.2206" stop-color="#352c8b"/><stop offset="0.2248" stop-color="#3638a2"/><stop offset="0.2290" stop-color="#352b89"/><stop offset="0.2332" stop-color="#36349b"/><stop offset="0.2374" stop-color="#362e8e"/><stop offset="0.2416" stop-color="#362e8e"/><stop offset="0.2458" stop-color="#363399"/><stop offset="0.2500" stop-color="#352b89"/><stop offset="0.2542" stop-color="#36359c"/><stop offset="0.2584" stop-color="#352c8a"/><stop offset="0.2626" stop-color="#363092"/><stop offset="0.2668" stop-color="#362f91"/><stop offset="0.2710" stop-color="#352c8a"/><stop offset="0.2752" stop-color="#363399"/><stop offset="0.2794" stop-color="#352b89"/><stop offset="0.2836" stop-color="#363195"/><stop offset="0.2878" stop-color="#352d8c"/><stop offset="0.2920" stop-color="#352d8c"/><stop offset="0.2962" stop-color="#363093"/><stop offset="0.3004" stop-color="#352b89"/><stop offset="0.3046" stop-color="#363195"/><stop offset="0.3088" stop-color="#352c8a"/><stop offset="0.3130" stop-color="#362e8f"/><stop offset="0.3214" stop-color="#352c8a"/><stop offset="0.3256" stop-color="#363093"/><stop offset="0.3298" stop-color="#352b89"/><stop offset="0.3340" stop-color="#362f91"/><stop offset="0.3382" stop-color="#352d8b"/><stop offset="0.3466" stop-color="#362f90"/><stop offset="0.3508" stop-color="#352b89"/><stop offset="0.3550" stop-color="#362f91"/><stop offset="0.3592" stop-color="#352c89"/><stop offset="0.3634" stop-color="#352d8d"/><stop offset="0.3718" stop-color="#352c89"/><stop offset="0.3761" stop-color="#362f8f"/><stop offset="0.3803" stop-color="#352b89"/><stop offset="0.3845" stop-color="#362e8e"/><stop offset="0.3887" stop-color="#352c8a"/><stop offset="0.3971" stop-color="#362d8d"/><stop offset="0.4013" stop-color="#352b89"/><stop offset="0.4055" stop-color="#362e8e"/><stop offset="0.4097" stop-color="#352b89"/><stop offset="0.4223" stop-color="#352b89"/><stop offset="0.4265" stop-color="#362d8d"/><stop offset="0.4307" stop-color="#352b88"/><stop offset="0.4349" stop-color="#352d8c"/><stop offset="0.4475" stop-color="#352d8c"/><stop offset="0.4517" stop-color="#352b88"/><stop offset="0.4559" stop-color="#352d8c"/><stop offset="0.4811" stop-color="#352b88"/><stop offset="0.5063" stop-color="#352c8b"/><stop offset="0.5105" stop-color="#352b88"/><stop offset="0.9979" stop-color="#352a87"/></linearGradient><linearGradient id="c21"><stop offset="0.0021" stop-color="#2e48c3"/><stop offset="0.0063" stop-color="#363297"/><stop offset="0.0105" stop-color="#362e8f"/><stop offset="0.0189" stop-color="#352b88"/><stop offset="0.0231" stop-color="#363093"/><stop offset="0.0273" stop-color="#352a87"/><stop offset="0.0315" stop-color="#362f90"/><stop offset="0.0357" stop-color="#352c8a"/><stop offset="0.0441" stop-color="#362e8f"/><stop offset="0.0483" stop-color="#352a87"/><stop offset="0.0525" stop-color="#362f90"/><stop offset="0.0567" stop-color="#352b88"/><stop offset="0.0609" stop-color="#352d8c"/><stop offset="0.0693" stop-color="#352b88"/><stop offset="0.0735" stop-color="#362e8f"/><stop offset="0.0777" stop-color="#352a87"/><stop offset="0.0819" stop-color="#362e8e"/><stop offset="0.0861" stop-color="#352c8a"/><stop offset="0.0945" stop-color="#362d8d"/><stop offset="0.0987" stop-color="#352a87"/><stop offset="0.1029" stop-color="#362e8e"/><stop offset="0.1071" stop-color="#352b88"/><stop offset="0.1113" stop-color="#352c8b"/><stop offset="0.1197" stop-color="#352b88"/><stop offset="0.1239" stop-color="#362d8d"/><stop offset="0.1282" stop-color="#352a87"/><stop offset="0.1324" stop-color="#352d8c"/><stop offset="0.1366" stop-color="#352b89"/><stop offset="0.1450" stop-color="#352d8c"/><stop offset="0.1492" stop-color="#352a87"/><stop offset="0.1534" stop-color="#352d8c"/><stop offset="0.1576" stop-color="#352b88"/><stop offset="0.1702" stop-color="#352b88"/><stop offset="0.1744" stop-color="#352d8c"/><stop offset="0.1786" stop-color="#352a87"/><stop offset="0.1828" stop-color="#352c8b"/><stop offset="0.1954" stop-color="#352c8b"/><stop offset="0.1996" stop-color="#352a87"/><stop offset="0.2038" stop-color="#352c8b"/><stop offset="0.2080" stop-color="#352b88"/><stop offset="0.2248" stop-color="#352c8b"/><stop offset="0.2290" stop-color="#352a87"/><stop offset="0.2332" stop-color="#352c8a"/><stop offset="0.2500" stop-color="#352a87"/><stop offset="0.2542" stop-color="#352c8a"/><stop offset="0.2584" stop-color="#352b87"/><stop offset="0.2752" stop-color="#352c8a"/><stop offset="0.2794" stop-color="#352a87"/><stop offset="0.9979" stop-color="#352a87"/></linearGradient><linearGradient id="c22"><stop offset="0.0021" stop-color="#2e48c2"/><stop offset="0.0063" stop-color="#363297"/><stop offset="0.0105" stop-color="#362e8f"/><stop offset="0.0189" stop-color="#352b88"/><stop offset="0.0231" stop-color="#362f91"/><stop offset="0.0273" stop-color="#352a87"/><stop offset="0.0315" stop-color="#362e8f"/><stop offset="0.0357" stop-color="#352c8a"/><stop offset="0.0441" stop-color="#362e8e"/><stop offset="0.0483" stop-color="#352a87"/><stop offset="0.0525" stop-color="#362e8f"/><stop offset="0.0567" stop-color="#352b88"/><stop offset="0.0609" stop-color="#352d8c"/><stop offset="0.0693" stop-color="#352b88"/><stop offset="0.0735" stop-color="#362e8f"/><stop offset="0.0777" stop-color="#352a87"/><stop offset="0.0819" stop-color="#362d8d"/><stop offset="0.0861" stop-color="#352c8a"/><stop offset="0.0945" stop-color="#352d8d"/><stop offset="0.0987" stop-color="#352a87"/><stop offset="0.1029" stop-color="#362e8e"/><stop offset="0.1071" stop-color="#352b88"/><stop offset="0.1113" stop-color="#352c8b"/><stop offset="0.1197" stop-color="#352b88"/><stop offset="0.1239" stop-color="#352d8d"/><stop offset="0.1282" stop-color="#352a87"/><stop offset="0.1324" stop-color="#352d8c"/><stop offset="0.1366" stop-color="#352b89"/><stop offset="0.1450" stop-color="#352d8c"/><stop offset="0.1492" stop-color="#352a87"/><stop offset="0.1534" stop-color="#352d8c"/><stop offset="0.1576" stop-color="#352b88"/><stop offset="0.1702" stop-color="#352b88"/><stop offset="0.1744" stop-color="#352d8c"/><stop offset="0.1786" stop-color="#352a87"/><stop offset="0.1828" stop-color="#352c8b"/><stop offset="0.1954" stop-color="#352c8b"/><stop offset="0.1996" stop-color="#352a87"/><stop offset="0.2038" stop-color="#352c8b"/><stop offset="0.2080" stop-color="#352b88"/><stop offset="0.2248" stop-color="#352c8b"/><stop offset="0.2290" stop-color="#352a87"/><stop offset="0.2332" stop-color="#352c8a"/><stop offset="0.2500" stop-color="#352a87"/><stop offset="0.2542" stop-color="#352c8a"/><stop offset="0.2584" stop-color="#352b87"/><stop offset="0.2752" stop-color="#352c8a"/><stop offset="0.2794" stop-color="#352a87"/><stop offset="0.9979" stop-color="#352a87"/></linearGradient><linearGradient id="c23"><stop offset="0.0021" stop-color="#2e48c2"/><stop offset="0.0063" stop-color="#363297"/><stop offset="0.0105" stop-color="#362e8f"/><stop offset="0.0189" stop-color="#352b88"/><stop offset="0.0231" stop-color="#362f91"/><stop offset="0.0273" stop-color="#352a87"/><stop offset="0.0315" stop-color="#362e8f"/><stop offset="0.0357" stop-color="#352c8a"/><stop offset="0.0441" stop-color="#362e8e"/><stop offset="0.0483" stop-color="#352a87"/><stop offset="0.0525" stop-color="#362e8f"/><stop offset="0.0567" stop-color="#352b88"/><stop offset="0.0609" stop-color="#352d8c"/><stop offset="0.0693" stop-color="#352b88"/><stop offset="0.0735" stop-color="#362e8f"/><stop offset="0.0777" stop-color="#352a87"/><stop offset="0.0819" stop-color="#362d8d"/><stop offset="0.0861" stop-color="#352c8a"/><stop offset="0.0945" stop-color="#352d8d"/><stop offset="0.0987" stop-color="#352a87"/><stop offset="0.1029" stop-color="#362e8e"/><stop offset="0.1071" stop-color="#352b88"/><stop offset="0.1113" stop-color="#352c8b"/><stop offset="0.1197" stop-color="#352b88"/><stop offset="0.1239" stop-color="#352d8d"/><stop offset="0.1282" stop-color="#352a87"/><stop offset="0.1324" stop-color="#352d8c"/><stop offset="0.1366" stop-color="#352b89"/><stop offset="0.1450" stop-color="#352d8c"/><stop offset="0.1492" stop-color="#352a87"/><stop offset="0.1534" stop-color="#352d8c"/><stop offset="0.1576" stop-color="#352b88"/><stop offset="0.1702" stop-color="#352b88"/><stop offset="0.1744" stop-color="#352d8c"/><stop offset="0.1786" stop-color="#352a87"/><stop offset="0.1828" stop-color="#352c8b"/><stop offset="0.1954" stop-color="#352c8b"/><stop offset="0.1996" stop-color="#352a87"/><stop offset="0.2038" stop-color="#352c8b"/><stop offset="0.2080" stop-color="#352b88"/><stop offset="0.2248" stop-color="#352c8b"/><stop offset="0.2290" stop-color="#352a87"/><stop offset="0.2332" stop-color="#352c8a"/><stop offset="0.2500" stop-color="#352a87"/><stop offset="0.2542" stop-color="#352c8a"/><stop offset="0.2584" stop-color="#352b87"/><stop offset="0.2752" stop-color="#352c8a"/><stop offset="0.2794" stop-color="#352a87"/><stop offset="0.9979" stop-color="#352a87"/></linearGradient><linearGradient id="c24"><stop offset="0.0021" stop-color="#2e48c2"/><stop offset="0.0063" stop-color="#363297"/><stop offset="0.0105" stop-color="#362e8f"/><stop offset="0.0189" stop-color="#352b88"/><stop offset="0.0231" stop-color="#362f91"/><stop offset="0.0273" stop-color="#352a87"/><stop offset="0.0315" stop-color="#362e8f"/><stop offset="0.0357" stop-color="#352c8a"/><stop offset="0.0441" stop-color="#362e8e"/><stop offset="0.0483" stop-color="#352a87"/><stop offset="0.0525" stop-color="#362e8f"/><stop offset="0.0567" stop-color="#352b88"/><stop offset="0.0609" stop-color="#352d8c"/><stop offset="0.0693" stop-color="#352b88"/><stop offset="0.0735" stop-color="#362e8f"/><stop offset="0.0777" stop-color="#352a87"/><stop offset="0.0819" stop-color="#362d8d"/><stop offset="0.0861" stop-color="#352c8a"/><stop offset="0.0945" stop-color="#352d8d"/><stop offset="0.0987" stop-color="#352a87"/><stop offset="0.1029" stop-color="#362e8e"/><stop offset="0.1071" stop-color="#352b88"/><stop offset="0.1113" stop-color="#352c8b"/><stop offset="0.1197" stop-color="#352b88"/><stop offset="0.1239" stop-color="#352d8d"/><stop offset="0.1282" stop-color="#352a87"/><stop offset="0.1324" stop-color="#352d8c"/><stop offset="0.1366" stop-color="#352b89"/><stop offset="0.1450" stop-color="#352d8c"/><stop offset="0.1492" stop-color="#352a87"/><stop offset="0.1534" stop-color="#352d8c"/><stop offset="0.1576" stop-color="#352b88"/><stop offset="0.1702" stop-color="#352b88"/><stop offset="0.1744" stop-color="#352d8c"/><stop offset="0.1786" stop-color="#352a87"/><stop offset="0.1828" stop-color="#352c8b"/><stop offset="0.1954" stop-color="#352c8b"/><stop offset="0.1996" stop-color="#352a87"/><stop offset="0.2038" stop-color="#352c8b"/><stop offset="0.2080" stop-color="#352b88"/><stop offset="0.2248" stop-color="#352c8b"/><stop offset="0.2290" stop-color="#352a87"/><stop offset="0.2332" stop-color="#352c8a"/><stop offset="0.2500" stop-color="#352a87"/><stop offset="0.2542" stop-color="#352c8a"/><stop offset="0.2584" stop-color="#352b87"/><stop offset="0.2752" stop-color="#352c8a"/><stop offset="0.2794" stop-color="#352a87"/><stop offset="0.9979" stop-color="#352a87"/></linearGradient><linearGradient id="c25"><stop offset="0.0021" stop-color="#2e48c2"/><stop offset="0.0063" stop-color="#363297"/><stop offset="0.0105" stop-color="#362e8f"/><stop offset="0.0189" stop-color="#352b88"/><stop offset="0.0231" stop-color="#362f91"/><stop offset="0.0273" stop-color="#352a87"/><stop offset="0.0315" stop-color="#362e8f"/><stop offset="0.0357" stop-color="#352c8a"/><stop offset="0.0441" stop-color="#362e8e"/><stop offset="0.0483" stop-color="#352a87"/><stop offset="0.0525" stop-color="#362e8f"/><stop offset="0.0567" stop-color="#352b88"/><stop offset="0.0609" stop-color="#352d8c"/><stop offset="0.0693" stop-color="#352b88"/><stop offset="0.0735" stop-color="#362e8f"/><stop offset="0.0777" stop-color="#352a87"/><stop offset="0.0819" stop-color="#362d8d"/><stop offset="0.0861" stop-color="#352c8a"/><stop offset="0.0945" stop-color="#352d8d"/><stop offset="0.0987" stop-color="#352a87"/><stop offset="0.1029" stop-color="#362e8e"/><stop offset="0.1071" stop-color="#352b88"/><stop offset="0.1113" stop-color="#352c8b"/><stop offset="0.1197" stop-color="#352b88"/><stop offset="0.1239" stop-color="#352d8d"/><stop offset="0.1282" stop-color="#352a87"/><stop offset="0.1324" stop-color="#352d8c"/><stop offset="0.1366" stop-color="#352b89"/><stop offset="0.1450" stop-color="#352d8c"/><stop offset="0.1492" stop-color="#352a87"/><stop offset="0.1534" stop-color="#352d8c"/><stop offset="0.1576" stop-color="#352b88"/><stop offset="0.1702" stop-color="#352b88"/><stop offset="0.1744" stop-color="#352d8c"/><stop offset="0.1786" stop-color="#352a87"/><stop offset="0.1828" stop-color="#352c8b"/><stop offset="0.1954" stop-color="#352c8b"/><stop offset="0.1996" stop-color="#352a87"/><stop offset="0.2038" stop-color="#352c8b"/><stop offset="0.2080" stop-color="#352b88"/><stop offset="0.2248" stop-color="#352c8b"/><stop offset="0.2290" stop-color="#352a87"/><stop offset="0.2332" stop-color="#352c8a"/><stop offset="0.2500" stop-color="#352a87"/><stop offset="0.2542" stop-color="#352c8a"/><stop offset="0.2584" stop-color="#352b87"/><stop offset="0.2752" stop-color="#352c8a"/><stop offset="0.2794" stop-color="#352a87"/><stop offset="0.9979" stop-color="#352a87"/></linearGradient><linearGradient id="c26"><stop offset="0.0021" stop-color="#2e48c2"/><stop offset="0.0063" stop-color="#363297"/><stop offset="0.0105" stop-color="#362e8f"/><stop offset="0.0189" stop-color="#352b88"/><stop offset="0.0231" stop-color="#362f91"/><stop offset="0.0273" stop-color="#352a87"/><stop offset="0.0315" stop-color="#362e8f"/><stop offset="0.0357" stop-color="#352c8a"/><stop offset="0.0441" stop-color="#362e8e"/><stop offset="0.0483" stop-color="#352a87"/><stop offset="0.0525" stop-color="#362e8f"/><stop offset="0.0567" stop-color="#352b88"/><stop offset="0.0609" stop-color="#352d8c"/><stop offset="0.0693" stop-color="#352b88"/><stop offset="0.0735" stop-color="#362e8f"/><stop offset="0.0777" stop-color="#352a87"/><stop offset="0.0819" stop-color="#362d8d"/><stop offset="0.0861" stop-color="#352c8a"/><stop offset="0.0945" stop-color="#352d8d"/><stop offset="0.0987" stop-color="#352a87"/><stop offset="0.1029" stop-color="#362e8e"/><stop offset="0.1071" stop-color="#352b88"/><stop offset="0.1113" stop-color="#352c8b"/><stop offset="0.1197" stop-color="#352b88"/><stop offset="0.1239" stop-color="#352d8d"/><stop offset="0.1282" stop-color="#352a87"/><stop offset="0.1324" stop-color="#352d8c"/><stop offset="0.1366" stop-color="#352b89"/><stop offset="0.1450" stop-color="#352d8c"/><stop offset="0.1492" stop-color="#352a87"/><stop offset="0.1534" stop-color="#352d8c"/><stop offset="0.1576" stop-color="#352b88"/><stop offset="0.1702" stop-color="#352b88"/><stop offset="0.1744" stop-color="#352d8c"/><stop offset="0.1786" stop-color="#352a87"/><stop offset="0.1828" stop-color="#352c8b"/><stop offset="0.1954" stop-color="#352c8b"/><stop offset="0.1996" stop-color="#352a87"/><stop offset="0.2038" stop-color="#352c8b"/><stop offset="0.2080" stop-color="#352b88"/><stop offset="0.2248" stop-color="#352c8b"/><stop offset="0.2290" stop-color="#352a87"/><stop offset="0.2332" stop-color="#352c8a"/><stop offset="0.2500" stop-color="#352a87"/><stop offset="0.2542" stop-color="#352c8a"/><stop offset="0.2584" stop-color="#352b87"/><stop offset="0.2752" stop-color="#352c8a"/><stop offset="0.2794" stop-color="#352a87"/><stop offset="0.9979" stop-color="#352a87"/></linearGradient><linearGradient id="c27"><stop offset="0.0021" stop-color="#2e48c2"/><stop offset="0.0063" stop-color="#363297"/><stop offset="0.0105" stop-color="#362e8f"/><stop offset="0.0189" stop-color="#352b88"/><stop offset="0.0231" stop-color="#362f91"/><stop offset="0.0273" stop-color="#352a87"/><stop offset="0.0315" stop-color="#362e8f"/><stop offset="0.0357" stop-color="#352c8a"/><stop offset="0.0441" stop-color="#362e8e"/><stop offset="0.0483" stop-color="#352a87"/><stop offset="0.0525" stop-color="#362e8f"/><stop offset="0.0567" stop-color="#352b88"/><stop offset="0.0609" stop-color="#352d8c"/><stop offset="0.0693" stop-color="#352b88"/><stop offset="0.0735" stop-color="#362e8f"/><stop offset="0.0777" stop-color="#352a87"/><stop offset="0.0819" stop-color="#362d8d"/><stop offset="0.0861" stop-color="#352c8a"/><stop offset="0.0945" stop-color="#352d8d"/><stop offset="0.0987" stop-color="#352a87"/><stop offset="0.1029" stop-color="#362e8e"/><stop offset="0.1071" stop-color="#352b88"/><stop offset="0.1113" stop-color="#352c8b"/><stop offset="0.1197" stop-color="#352b88"/><stop offset="0.1239" stop-color="#352d8d"/><stop offset="0.1282" stop-color="#352a87"/><stop offset="0.1324" stop-color="#352d8c"/><stop offset="0.1366" stop-color="#352b89"/><stop offset="0.1450" stop-color="#352d8c"/><stop offset="0.1492" stop-color="#352a87"/><stop offset="0.1534" stop-color="#352d8c"/><stop offset="0.1576" stop-color="#352b88"/><stop offset="0.1702" stop-color="#352b88"/><stop offset="0.1744" stop-color="#352d8c"/><stop offset="0.1786" stop-color="#352a87"/><stop offset="0.1828" stop-color="#352c8b"/><stop offset="0.1954" stop-color="#352c8b"/><stop offset="0.1996" stop-color="#352a87"/><stop offset="0.2038" stop-color="#352c8b"/><stop offset="0.2080" stop-color="#352b88"/><stop offset="0.2248" stop-color="#352c8b"/><stop offset="0.2290" stop-color="#352a87"/><stop offset="0.2332" stop-color="#352c8a"/><stop offset="0.2500" stop-color="#352a87"/><stop offset="0.2542" stop-color="#352c8a"/><stop offset="0.2584" stop-color="#352b87"/><stop offset="0.2752" stop-color="#352c8a"/><stop offset="0.2794" stop-color="#352a87"/><stop offset="0.9979" stop-color="#352b87"/></linearGradient><linearGradient id="c28"><stop offset="0.0021" stop-color="#2e48c2"/><stop offset="0.0063" stop-color="#363297"/><stop offset="0.0105" stop-color="#362e8f"/><stop offset="0.0189" stop-color="#352b88"/><stop offset="0.0231" stop-color="#362f91"/><stop offset="0.0273" stop-color="#352a87"/><stop offset="0.0315" stop-color="#362e8f"/><stop offset="0.0357" stop-color="#352c8a"/><stop offset="0.0441" stop-color="#362e8e"/><stop offset="0.0483" stop-color="#352a87"/><stop offset="0.0525" stop-color="#362e8f"/><stop offset="0.0567" stop-color="#352b88"/><stop offset="0.0609" stop-color="#352d8c"/><stop offset="0.0693" stop-color="#352b88"/><stop offset="0.0735" stop-color="#362e8f"/><stop offset="0.0777" stop-color="#352a87"/><stop offset="0.0819" stop-color="#362d8d"/><stop offset="0.0861" stop-color="#352c8a"/><stop offset="0.0945" stop-color="#352d8d"/><stop offset="0.0987" stop-color="#352a87"/><stop offset="0.1029" stop-color="#362e8e"/><stop offset="0.1071" stop-color="#352b88"/><stop offset="0.1113" stop-color="#352c8b"/><stop offset="0.1197" stop-color="#352b88"/><stop offset="0.1239" stop-color="#352d8d"/><stop offset="0.1282" stop-color="#352a87"/><stop offset="0.1324" stop-color="#352d8c"/><stop offset="0.1366" stop-color="#352b89"/><stop offset="0.1450" stop-color="#352d8c"/><stop offset="0.1492" stop-color="#352a87"/><stop offset="0.1534" stop-color="#352d8c"/><stop offset="0.1576" stop-color="#352b88"/><stop offset="0.1702" stop-color="#352b88"/><stop offset="0.1744" stop-color="#352d8c"/><stop offset="0.1786" stop-color="#352a87"/><stop offset="0.1828" stop-color="#352c8b"/><stop offset="0.1954" stop-color="#352c8b"/><stop offset="0.1996" stop-color="#352a87"/><stop offset="0.2038" stop-color="#352c8b"/><stop offset="0.2080" stop-color="#352b88"/><stop offset="0.2248" stop-color="#352c8b"/><stop offset="0.2290" stop-color="#352a87"/><stop offset="0.2332" stop-color="#352c8a"/><stop offset="0.2500" stop-color="#352a87"/><stop offset="0.2542" stop-color="#352c8a"/><stop offset="0.2584" stop-color="#352b87"/><stop offset="0.2752" stop-color="#352c8a"/><stop offset="0.2794" stop-color="#352a87"/><stop offset="0.9811" stop-color="#352a87"/><stop offset="0.9979" stop-color="#362f91"/></linearGradient><linearGradient id="c29"><stop offset="0.0021" stop-color="#2e48c2"/><stop offset="0.0063" stop-color="#363297"/><stop offset="0.0105" stop-color="#362e8f"/><stop offset="0.0189" stop-color="#352c8a"/><stop offset="0.0231" stop-color="#363194"/><stop offset="0.0273" stop-color="#362e8e"/><stop offset="0.0315" stop-color="#363398"/><stop offset="0.0399" stop-color="#363195"/><stop offset="0.0441" stop-color="#36339a"/><stop offset="0.0483" stop-color="#363092"/><stop offset="0.0525" stop-color="#36349a"/><stop offset="0.0567" stop-color="#363093"/><stop offset="0.0651" stop-color="#363296"/><stop offset="0.0693" stop-color="#363092"/><stop offset="0.0735" stop-color="#363398"/><stop offset="0.0777" stop-color="#362f90"/><stop offset="0.0819" stop-color="#363296"/><stop offset="0.0861" stop-color="#363092"/><stop offset="0.0945" stop-color="#363195"/><stop offset="0.0987" stop-color="#362e8f"/><stop offset="0.1029" stop-color="#363195"/><stop offset="0.1071" stop-color="#362e8f"/><stop offset="0.1155" stop-color="#363092"/><stop offset="0.1197" stop-color="#362e8e"/><stop offset="0.1239" stop-color="#363093"/><stop offset="0.1282" stop-color="#362d8d"/><stop offset="0.1324" stop-color="#363092"/><stop offset="0.1366" stop-color="#362e8f"/><stop offset="0.1450" stop-color="#362f91"/><stop offset="0.1492" stop-color="#352d8c"/><stop offset="0.1534" stop-color="#362f91"/><stop offset="0.1576" stop-color="#352d8d"/><stop offset="0.1744" stop-color="#362f90"/><stop offset="0.1786" stop-color="#352d8c"/><stop offset="0.1954" stop-color="#362e8f"/><stop offset="0.1996" stop-color="#352c8b"/><stop offset="0.2038" stop-color="#362e8f"/><stop offset="0.2080" stop-color="#352d8c"/><stop offset="0.2248" stop-color="#362e8e"/><stop offset="0.2290" stop-color="#352c8b"/><stop offset="0.2332" stop-color="#362e8e"/><stop offset="0.2500" stop-color="#352c8a"/><stop offset="0.2752" stop-color="#352d8d"/><stop offset="0.2794" stop-color="#352c8a"/><stop offset="0.3256" stop-color="#352d8c"/><stop offset="0.3508" stop-color="#352c89"/><stop offset="0.9769" stop-color="#352b88"/><stop offset="0.9853" stop-color="#352d8c"/><stop offset="0.9895" stop-color="#3637a0"/><stop offset="0.9937" stop-color="#2d49c4"/><stop offset="0.9979" stop-color="#2d49c4"/></linearGradient><linearGradient id="c30"><stop offset="0.0021" stop-color="#3342b7"/><stop offset="0.0063" stop-color="#363195"/><stop offset="0.0105" stop-color="#3639a5"/><stop offset="0.0147" stop-color="#0899d1"/><stop offset="0.0189" stop-color="#6cbf82"/><stop offset="0.0231" stop-color="#afbe67"/><stop offset="0.0273" stop-color="#b9bd63"/><stop offset="0.0315" stop-color="#b2bd66"/><stop offset="0.0357" stop-color="#a5be6b"/><stop offset="0.0609" stop-color="#48bb94"/><stop offset="0.0693" stop-color="#30b7a2"/><stop offset="0.0861" stop-color="#11afb8"/><stop offset="0.1029" stop-color="#06a7c6"/><stop offset="0.1282" stop-color="#0899d1"/><stop offset="0.1618" stop-color="#1487d3"/><stop offset="0.2332" stop-color="#0c74dd"/><stop offset="0.3046" stop-color="#0269e1"/><stop offset="0.3550" stop-color="#0363e1"/><stop offset="0.4895" stop-color="#1f53d4"/><stop offset="0.5735" stop-color="#274dcb"/><stop offset="0.8004" stop-color="#3046be"/><stop offset="0.9811" stop-color="#3144bb"/><stop offset="0.9853" stop-color="#2e48c2"/><stop offset="0.9895" stop-color="#095fdf"/><stop offset="0.9937" stop-color="#0e77db"/><stop offset="0.9979" stop-color="#0e77db"/></linearGradient><linearGradient id="c31"><stop offset="0.0021" stop-color="#3342b7"/><stop offset="0.0063" stop-color="#3440b2"/><stop offset="0.0105" stop-color="#69be84"/><stop offset="0.0147" stop-color="#0899d1"/><stop offset="0.0189" stop-color="#0860df"/><stop offset="0.0231" stop-color="#3341b5"/><stop offset="0.0273" stop-color="#3638a3"/><stop offset="0.0315" stop-color="#36349b"/><stop offset="0.0483" stop-color="#363093"/><stop offset="0.2416" stop-color="#352c8a"/><stop offset="0.9811" stop-color="#352b88"/><stop offset="0.9853" stop-color="#352d8c"/><stop offset="0.9895" stop-color="#3637a0"/><stop offset="0.9937" stop-color="#2d49c4"/><stop offset="0.9979" stop-color="#2d49c4"/></linearGradient><linearGradient id="c32"><stop offset="0.0021" stop-color="#3243b8"/><stop offset="0.0063" stop-color="#3342b7"/><stop offset="0.0105" stop-color="#352d8d"/><stop offset="0.0147" stop-color="#352b87"/><stop offset="0.9811" stop-color="#352a87"/><stop offset="0.9979" stop-color="#362f91"/></linearGradient><linearGradient id="c33"><stop offset="0.0021" stop-color="#3244ba"/><stop offset="0.0063" stop-color="#363195"/><stop offset="0.0105" stop-color="#352b88"/><stop offset="0.0147" stop-color="#352a87"/><stop offset="0.9979" stop-color="#352b87"/></linearGradient><linearGradient id="c34"><stop offset="0.0021" stop-color="#3342b7"/><stop offset="0.0063" stop-color="#363195"/><stop offset="0.0105" stop-color="#352b88"/><stop offset="0.0147" stop-color="#352a87"/><stop offset="0.9979" stop-color="#352a87"/></linearGradient><linearGradient id="c35"><stop offset="0.0021" stop-color="#3342b7"/><stop offset="0.0063" stop-color="#363195"/><stop offset="0.0105" stop-color="#352b88"/><stop offset="0.0147" stop-color="#352a87"/><stop offset="0.9979" stop-color="#352a87"/></linearGradient><linearGradient id="c36"><stop offset="0.0021" stop-color="#3342b7"/><stop offset="0.0063" stop-color="#363195"/><stop offset="0.0105" stop-color="#352b88"/><stop offset="0.0147" stop-color="#352a87"/><stop offset="0.9979" stop-color="#352a87"/></linearGradient><linearGradient id="c37"><stop offset="0.0021" stop-color="#3342b7"/><stop offset="0.0063" stop-color="#363195"/><stop offset="0.0105" stop-color="#352b88"/><stop offset="0.0147" stop-color="#352a87"/><stop offset="0.9979" stop-color="#352a87"/></linearGradient><linearGradient id="c38"><stop offset="0.0021" stop-color="#3342b7"/><stop offset="0.0063" stop-color="#363195"/><stop offset="0.0105" stop-color="#352b88"/><stop offset="0.0147" stop-color="#352a87"/><stop offset="0.9979" stop-color="#352a87"/></linearGradient><linearGradient id="c39"><stop offset="0.0021" stop-color="#3342b7"/><stop offset="0.0063" stop-color="#363195"/><stop offset="0.0105" stop-color="#352b88"/><stop offset="0.0147" stop-color="#352a87"/><stop offset="0.9979" stop-color="#352a87"/></linearGradient><linearGradient id="c40"><stop offset="0.0021" stop-color="#3342b7"/><stop offset="0.0063" stop-color="#363195"/><stop offset="0.0105" stop-color="#352b88"/><stop offset="0.0147" stop-color="#352a87"/><stop offset="0.9979" stop-color="#352a87"/></linearGradient><linearGradient id="c41"><stop offset="0.0021" stop-color="#3342b7"/><stop offset="0.0063" stop-color="#363195"/><stop offset="0.0105" stop-color="#352b88"/><stop offset="0.0147" stop-color="#352a87"/><stop offset="0.9979" stop-color="#352a87"/></linearGradient><linearGradient id="c42"><stop offset="0.0021" stop-color="#3342b7"/><stop offset="0.0063" stop-color="#363195"/><stop offset="0.0105" stop-color="#352b88"/><stop offset="0.0147" stop-color="#352a87"/><stop offset="0.9979" stop-color="#352a87"/></linearGradient><linearGradient id="c43"><stop offset="0.0021" stop-color="#3342b7"/><stop offset="0.0063" stop-color="#363195"/><stop offset="0.0105" stop-color="#352b88"/><stop offset="0.0147" stop-color="#352a87"/><stop offset="0.9979" stop-color="#352a87"/></linearGradient><linearGradient id="c44"><stop offset="0.0021" stop-color="#3342b7"/><stop offset="0.0063" stop-color="#363296"/><stop offset="0.0105" stop-color="#352b88"/><stop offset="0.0147" stop-color="#352a87"/><stop offset="0.9979" stop-color="#352a87"/></linearGradient><linearGradient id="c45"><stop offset="0.0021" stop-color="#3243b9"/><stop offset="0.0063" stop-color="#363398"/><stop offset="0.0105" stop-color="#352c8a"/><stop offset="0.0147" stop-color="#352b87"/><stop offset="0.9979" stop-color="#352a87"/></linearGradient><linearGradient id="c46"><stop offset="0.0021" stop-color="#2c4ac7"/><stop offset="0.0063" stop-color="#363aa7"/><stop offset="0.0105" stop-color="#363092"/><stop offset="0.0189" stop-color="#352b87"/><stop offset="0.9979" stop-color="#352a87"/></linearGradient><linearGradient id="c47"><stop offset="0.0021" stop-color="#0266e1"/><stop offset="0.0063" stop-color="#1658da"/><stop offset="0.0105" stop-color="#343eb0"/><stop offset="0.0147" stop-color="#363092"/><stop offset="0.0189" stop-color="#352b89"/><stop offset="0.0231" stop-color="#352a87"/><stop offset="0.9979" stop-color="#352a87"/></linearGradient><linearGradient id="c48"><stop offset="0.0021" stop-color="#1380d6"/><stop offset="0.0063" stop-color="#127cd9"/><stop offset="0.0105" stop-color="#0b5edf"/><stop offset="0.0147" stop-color="#3637a1"/><stop offset="0.0189" stop-color="#352d8b"/><stop offset="0.0231" stop-color="#352b88"/><stop offset="0.9979" stop-color="#352a87"/></linearGradient><linearGradient id="c49"><stop offset="0.0021" stop-color="#089ad0"/><stop offset="0.0063" stop-color="#0997d1"/><stop offset="0.0105" stop-color="#0c74dd"/><stop offset="0.0147" stop-color="#2c4ac5"/><stop offset="0.0189" stop-color="#363aa6"/><stop offset="0.0231" stop-color="#3637a2"/><stop offset="0.4349" stop-color="#363092"/><stop offset="0.9979" stop-color="#352c8b"/></linearGradient><linearGradient id="c50"><stop offset="0.0021" stop-color="#1380d6"/><stop offset="0.0063" stop-color="#127cd9"/><stop offset="0.0105" stop-color="#0b5edf"/><stop offset="0.0147" stop-color="#3637a1"/><stop offset="0.0189" stop-color="#352d8b"/><stop offset="0.0231" stop-color="#352b88"/><stop offset="0.9979" stop-color="#352a87"/></linearGradient><linearGradient id="c51"><stop offset="0.0021" stop-color="#0266e1"/><stop offset="0.0063" stop-color="#1658da"/><stop offset="0.0105" stop-color="#343eb0"/><stop offset="0.0147" stop-color="#363092"/><stop offset="0.0189" stop-color="#352b89"/><stop offset="0.0231" stop-color="#352a87"/><stop offset="0.9979" stop-color="#352a87"/></linearGradient><linearGradient id="c52"><stop offset="0.0021" stop-color="#254fce"/><stop offset="0.0063" stop-color="#363aa7"/><stop offset="0.0105" stop-color="#363092"/><stop offset="0.0189" stop-color="#352b87"/><stop offset="0.9979" stop-color="#352a87"/></linearGradient><linearGradient id="c53"><stop offset="0.0021" stop-color="#1956d8"/><stop offset="0.0063" stop-color="#363398"/><stop offset="0.0105" stop-color="#352c8a"/><stop offset="0.0147" stop-color="#352b87"/><stop offset="0.9979" stop-color="#352a87"/></linearGradient><linearGradient id="c54"><stop offset="0.0021" stop-color="#3342b7"/><stop offset="0.0063" stop-color="#353ba8"/><stop offset="0.0105" stop-color="#352b88"/><stop offset="0.0147" stop-color="#352a87"/><stop offset="0.9979" stop-color="#352a87"/></linearGradient><linearGradient id="c55"><stop offset="0.0021" stop-color="#3342b7"/><stop offset="0.0063" stop-color="#127cd8"/><stop offset="0.0105" stop-color="#363296"/><stop offset="0.0147" stop-color="#352a87"/><stop offset="0.9979" stop-color="#352a87"/></linearGradient><linearGradient id="c56"><stop offset="0.0021" stop-color="#3342b7"/><stop offset="0.0063" stop-color="#363296"/><stop offset="0.0105" stop-color="#1388d3"/><stop offset="0.0147" stop-color="#0269e1"/><stop offset="0.0189" stop-color="#353caa"/><stop offset="0.0231" stop-color="#363296"/><stop offset="0.0273" stop-color="#362f90"/><stop offset="0.0357" stop-color="#352d8d"/><stop offset="0.2668" stop-color="#352c89"/><stop offset="0.9979" stop-color="#352b88"/></linearGradient><linearGradient id="c57"><stop offset="0.0021" stop-color="#3342b7"/><stop offset="0.0063" stop-color="#363195"/><stop offset="0.0105" stop-color="#352c8a"/><stop offset="0.0147" stop-color="#2b4bc7"/><stop offset="0.0189" stop-color="#0f77db"/><stop offset="0.0231" stop-color="#1484d4"/><stop offset="0.0357" stop-color="#1487d3"/><stop offset="0.0945" stop-color="#127bd9"/><stop offset="0.1534" stop-color="#0a73de"/><stop offset="0.2248" stop-color="#026ae1"/><stop offset="0.2626" stop-color="#0265e1"/><stop offset="0.3298" stop-color="#0e5cde"/><stop offset="0.4097" stop-color="#2152d3"/><stop offset="0.4727" stop-color="#294cca"/><stop offset="0.6954" stop-color="#3242b7"/><stop offset="0.9979" stop-color="#353eae"/></linearGradient><linearGradient id="c58"><stop offset="0.0021" stop-color="#3342b7"/><stop offset="0.0063" stop-color="#363195"/><stop offset="0.0105" stop-color="#352b88"/><stop offset="0.0147" stop-color="#352a87"/><stop offset="0.0399" stop-color="#352d8c"/><stop offset="0.9979" stop-color="#352b88"/></linearGradient><linearGradient id="c59"><stop offset="0.0021" stop-color="#3342b7"/><stop offset="0.0063" stop-color="#363195"/><stop offset="0.0105" stop-color="#352b88"/><stop offset="0.0147" stop-color="#352a87"/><stop offset="0.9979" stop-color="#352a87"/></linearGradient><linearGradient id="c60"><stop offset="0.0021" stop-color="#3243b8"/><stop offset="0.0063" stop-color="#363195"/><stop offset="0.0105" stop-color="#352b88"/><stop offset="0.0147" stop-color="#352a87"/><stop offset="0.9979" stop-color="#352a87"/></linearGradient><linearGradient id="c61"><stop offset="0.0021" stop-color="#0972de"/><stop offset="0.0063" stop-color="#363195"/><stop offset="0.0105" stop-color="#352b88"/><stop offset="0.0147" stop-color="#352a87"/><stop offset="0.9979" stop-color="#352a87"/></linearGradient><linearGradient id="c62"><stop offset="0.0021" stop-color="#3145bc"/><stop offset="0.0063" stop-color="#2f46bf"/><stop offset="0.0105" stop-color="#352b88"/><stop offset="0.0147" stop-color="#352a87"/><stop offset="0.9979" stop-color="#352a87"/></linearGradient><linearGradient id="c63"><stop offset="0.0021" stop-color="#3342b7"/><stop offset="0.0063" stop-color="#056de0"/><stop offset="0.0105" stop-color="#2e48c3"/><stop offset="0.0147" stop-color="#352b89"/><stop offset="0.0189" stop-color="#352a87"/><stop offset="0.9979" stop-color="#352a87"/></linearGradient><linearGradient id="c64"><stop offset="0.0021" stop-color="#3342b7"/><stop offset="0.0063" stop-color="#363296"/><stop offset="0.0105" stop-color="#0760e0"/><stop offset="0.0147" stop-color="#137dd8"/><stop offset="0.0189" stop-color="#1857d8"/><stop offset="0.0231" stop-color="#353ba8"/><stop offset="0.0273" stop-color="#363297"/><stop offset="0.0315" stop-color="#362f91"/><stop offset="0.0399" stop-color="#352d8d"/><stop offset="0.3676" stop-color="#352c89"/><stop offset="0.9979" stop-color="#352b89"/></linearGradient><linearGradient id="c65"><stop offset="0.0021" stop-color="#3342b7"/><stop offset="0.0063" stop-color="#363195"/><stop offset="0.0105" stop-color="#352b88"/><stop offset="0.0147" stop-color="#363092"/><stop offset="0.0189" stop-color="#284dcb"/><stop offset="0.0231" stop-color="#056de0"/><stop offset="0.0273" stop-color="#0f78db"/><stop offset="0.0357" stop-color="#137dd8"/><stop offset="0.2374" stop-color="#046de0"/><stop offset="0.3634" stop-color="#0265e1"/><stop offset="0.5147" stop-color="#0f5cde"/><stop offset="0.6954" stop-color="#1f53d4"/><stop offset="0.9979" stop-color="#284dca"/></linearGradient><linearGradient id="c66"><stop offset="0.0021" stop-color="#3342b7"/><stop offset="0.0063" stop-color="#363195"/><stop offset="0.0105" stop-color="#352b88"/><stop offset="0.0147" stop-color="#352a87"/><stop offset="0.0483" stop-color="#352c8b"/><stop offset="0.9979" stop-color="#352b89"/></linearGradient><linearGradient id="c67"><stop offset="0.0021" stop-color="#3342b7"/><stop offset="0.0063" stop-color="#363195"/><stop offset="0.0105" stop-color="#352b88"/><stop offset="0.0147" stop-color="#352a87"/><stop offset="0.9979" stop-color="#352a87"/></linearGradient><linearGradient id="c68"><stop offset="0.0021" stop-color="#3342b7"/><stop offset="0.0063" stop-color="#363195"/><stop offset="0.0105" stop-color="#352b88"/><stop offset="0.0147" stop-color="#352a87"/><stop offset="0.9979" stop-color="#352a87"/></linearGradient><linearGradient id="c69"><stop offset="0.0021" stop-color="#3342b7"/><stop offset="0.0063" stop-color="#363195"/><stop offset="0.0105" stop-color="#352b88"/><stop offset="0.0147" stop-color="#352a87"/><stop offset="0.9979" stop-color="#352a87"/></linearGradient><linearGradient id="c70"><stop offset="0.0021" stop-color="#3342b7"/><stop offset="0.0063" stop-color="#363195"/><stop offset="0.0105" stop-color="#352b88"/><stop offset="0.0147" stop-color="#352a87"/><stop offset="0.9979" stop-color="#352a87"/></linearGradient><linearGradient id="c71"><stop offset="0.0021" stop-color="#3242b8"/><stop offset="0.0063" stop-color="#363296"/><stop offset="0.0105" stop-color="#352b89"/><stop offset="0.0147" stop-color="#352b88"/><stop offset="0.9979" stop-color="#352a87"/></linearGradient><linearGradient id="c72"><stop offset="0.0021" stop-color="#0266e1"/><stop offset="0.0063" stop-color="#2251d1"/><stop offset="0.0105" stop-color="#2d49c3"/><stop offset="0.0525" stop-color="#3145bd"/><stop offset="0.2206" stop-color="#353dad"/><stop offset="0.4391" stop-color="#3638a2"/><stop offset="0.9979" stop-color="#363399"/></linearGradient><linearGradient id="c73"><stop offset="0.0021" stop-color="#3242b8"/><stop offset="0.0063" stop-color="#363296"/><stop offset="0.0105" stop-color="#352b89"/><stop offset="0.0147" stop-color="#352b88"/><stop offset="0.9979" stop-color="#352a87"/></linearGradient><linearGradient id="c74"><stop offset="0.0021" stop-color="#3342b7"/><stop offset="0.0063" stop-color="#363195"/><stop offset="0.0105" stop-color="#352b88"/><stop offset="0.0147" stop-color="#352a87"/><stop offset="0.9979" stop-color="#352a87"/></linearGradient><linearGradient id="c77"><stop offset="0.0021" stop-color="#352a87"/><stop offset="0.0105" stop-color="#352b89"/><stop offset="0.0231" stop-color="#363399"/><stop offset="0.0357" stop-color="#36369f"/><stop offset="0.4097" stop-color="#363091"/><stop offset="0.9979" stop-color="#362e8e"/></linearGradient><linearGradient id="c78"><stop offset="0.0021" stop-color="#352d8c"/><stop offset="0.0063" stop-color="#36369e"/><stop offset="0.0105" stop-color="#3637a1"/><stop offset="0.0189" stop-color="#362f8f"/><stop offset="0.0357" stop-color="#352b88"/><stop offset="0.9979" stop-color="#352a87"/></linearGradient><linearGradient id="c79"><stop offset="0.0021" stop-color="#36349b"/><stop offset="0.0063" stop-color="#352c8a"/><stop offset="0.0105" stop-color="#352b87"/><stop offset="0.9979" stop-color="#352a87"/></linearGradient></defs>
<rect x="194.20" y="167.00" width="238.30" height="2.00" fill="url(#c0)"/>
<rect x="194.20" y="168.00" width="238.30" height="2.00" fill="url(#c1)"/>
<rect x="194.20" y="169.00" width="238.30" height="2.00" fill="url(#c2)"/>
<rect x="194.20" y="170.00" width="238.30" height="2.00" fill="url(#c3)"/>
<rect x="194.20" y="171.00" width="238.30" height="2.00" fill="url(#c4)"/>
<rect x="194.20" y="172.00" width="238.30" height="2.00" fill="url(#c5)"/>
<rect x="194.20" y="173.00" width="238.30" height="2.00" fill="url(#c6)"/>
<rect x="194.20" y="174.00" width="238.30" height="2.00" fill="url(#c7)"/>
<rect x="194.20" y="175.00" width="238.30" height="2.00" fill="url(#c8)"/>
<rect x="194.20" y="176.00" width="238.30" height="2.00" fill="url(#c9)"/>
<rect x="194.20" y="177.00" width="238.30" height="2.00" fill="url(#c10)"/>
<rect x="194.20" y="178.00" width="238.30" height="2.00" fill="url(#c11)"/>
<rect x="194.20" y="179.00" width="238.30" height="2.00" fill="url(#c12)"/>
<rect x="194.20" y="180.00" width="238.30" height="2.00" fill="url(#c13)"/>
<rect x="194.20" y="181.00" width="238.30" height="2.00" fill="url(#c14)"/>
<rect x="194.20" y="182.00" width="238.30" height="2.00" fill="url(#c15)"/>
<rect x="194.20" y="183.00" width="238.30" height="2.00" fill="url(#c16)"/>
<rect x="194.20" y="184.00" width="238.30" height="2.00" fill="url(#c17)"/>
<rect x="194.20" y="185.00" width="238.30" height="2.00" fill="url(#c18)"/>
<rect x="194.20" y="186.00" width="238.30" height="2.00" fill="url(#c19)"/>
<rect x="194.20" y="187.00" width="238.30" height="2.00" fill="url(#c20)"/>
<rect x="194.20" y="188.00" width="238.30" height="2.00" fill="url(#c21)"/>
<rect x="194.20" y="189.00" width="238.30" height="2.00" fill="url(#c22)"/>
<rect x="194.20" y="190.00" width="238.30" height="2.00" fill="url(#c23)"/>
<rect x="194.20" y="191.00" width="238.30" height="2.00" fill="url(#c24)"/>
<rect x="194.20" y="192.00" width="238.30" height="2.00" fill="url(#c25)"/>
<rect x="194.20" y="193.00" width="238.30" height="2.00" fill="url(#c26)"/>
<rect x="194.20" y="194.00" width="238.30" height="2.00" fill="url(#c27)"/>
<rect x="194.20" y="195.00" width="238.30" height="2.00" fill="url(#c28)"/>
<rect x="194.20" y="196.00" width="238.30" height="2.00" fill="url(#c29)"/>
<rect x="194.20" y="197.00" width="238.30" height="2.00" fill="url(#c30)"/>
<rect x="194.20" y="198.00" width="238.30" height="2.00" fill="url(#c31)"/>
<rect x="194.20" y="199.00" width="238.30" height="2.00" fill="url(#c32)"/>
<rect x="194.20" y="200.00" width="238.30" height="2.00" fill="url(#c33)"/>
<rect x="194.20" y="201.00" width="238.30" height="2.00" fill="url(#c34)"/>
<rect x="194.20" y="202.00" width="238.30" height="2.00" fill="url(#c35)"/>
<rect x="194.20" y="203.00" width="238.30" height="2.00" fill="url(#c36)"/>
<rect x="194.20" y="204.00" width="238.30" height="2.00" fill="url(#c37)"/>
<rect x="194.20" y="205.00" width="238.30" height="2.00" fill="url(#c38)"/>
<rect x="194.20" y="206.00" width="238.30" height="2.00" fill="url(#c39)"/>
<rect x="194.20" y="207.00" width="238.30" height="2.00" fill="url(#c40)"/>
<rect x="194.20" y="208.00" width="238.30" height="2.00" fill="url(#c41)"/>
<rect x="194.20" y="209.00" width="238.30" height="2.00" fill="url(#c42)"/>
<rect x="194.20" y="210.00" width="238.30" height="2.00" fill="url(#c43)"/>
<rect x="194.20" y="211.00" width="238.30" height="2.00" fill="url(#c44)"/>
<rect x="194.20" y="212.00" width="238.30" height="2.00" fill="url(#c45)"/>
<rect x="194.20" y="213.00" width="238.30" height="2.00" fill="url(#c46)"/>
<rect x="194.20" y="214.00" width="238.30" height="2.00" fill="url(#c47)"/>
<rect x="194.20" y="215.00" width="238.30" height="2.00" fill="url(#c48)"/>
<rect x="194.20" y="216.00" width="238.30" height="2.00" fill="url(#c49)"/>
<rect x="194.20" y="217.00" width="238.30" height="2.00" fill="url(#c50)"/>
<rect x="194.20" y="218.00" width="238.30" height="2.00" fill="url(#c51)"/>
<rect x="194.20" y="219.00" width="238.30" height="2.00" fill="url(#c52)"/>
<rect x="194.20" y="220.00" width="238.30" height="2.00" fill="url(#c53)"/>
<rect x="194.20" y="221.00" width="238.30" height="2.00" fill="url(#c54)"/>
<rect x="194.20" y="222.00" width="238.30" height="2.00" fill="url(#c55)"/>
<rect x="194.20" y="223.00" width="238.30" height="2.00" fill="url(#c56)"/>
<rect x="194.20" y="224.00" width="238.30" height="2.00" fill="url(#c57)"/>
<rect x="194.20" y="225.00" width="238.30" height="2.00" fill="url(#c58)"/>
<rect x="194.20" y="226.00" width="238.30" height="2.00" fill="url(#c59)"/>
<rect x="194.20" y="227.00" width="238.30" height="2.00" fill="url(#c60)"/>
<rect x="194.20" y="228.00" width="238.30" height="2.00" fill="url(#c61)"/>
<rect x="194.20" y="229.00" width="238.30" height="2.00" fill="url(#c62)"/>
<rect x="194.20" y="230.00" width="238.30" height="2.00" fill="url(#c63)"/>
<rect x="194.20" y="231.00" width="238.30" height="2.00" fill="url(#c64)"/>
<rect x="194.20" y="232.00" width="238.30" height="2.00" fill="url(#c65)"/>
<rect x="194.20" y="233.00" width="238.30" height="2.00" fill="url(#c66)"/>
<rect x="194.20" y="234.00" width="238.30" height="2.00" fill="url(#c67)"/>
<rect x="194.20" y="235.00" width="238.30" height="2.00" fill="url(#c68)"/>
<rect x="194.20" y="236.00" width="238.30" height="2.00" fill="url(#c69)"/>
<rect x="194.20" y="237.00" width="238.30" height="2.00" fill="url(#c70)"/>
<rect x="194.20" y="238.00" width="238.30" height="2.00" fill="url(#c71)"/>
<rect x="194.20" y="239.00" width="238.30" height="2.00" fill="url(#c72)"/>
<rect x="194.20" y="240.00" width="238.30" height="2.00" fill="url(#c73)"/>
<rect x="194.20" y="241.00" width="238.30" height="2.00" fill="url(#c74)"/>
<rect x="194.20" y="242.00" width="238.30" height="2.00" fill="#352a87"/>
<rect x="194.20" y="243.00" width="238.30" height="2.00" fill="#352a87"/>
<rect x="194.20" y="244.00" width="238.30" height="2.00" fill="url(#c77)"/>
<rect x="194.20" y="245.00" width="238.30" height="2.00" fill="url(#c78)"/>
<rect x="194.20" y="246.00" width="238.30" height="2.00" fill="url(#c79)"/>
<rect x="194.20" y="247.00" width="238.30" height="2.00" fill="#352a87"/>
<rect x="194.20" y="248.00" width="238.30" height="2.00" fill="#352a87"/>
<rect x="194.20" y="249.00" width="238.30" height="2.00" fill="#352a87"/>
<rect x="194.20" y="250.00" width="238.30" height="2.00" fill="#352a87"/>
<rect x="194.20" y="251.00" width="238.30" height="2.00" fill="#352a87"/>
<rect x="194.20" y="252.00" width="238.30" height="2.00" fill="#352a87"/>
<rect x="194.20" y="253.00" width="238.30" height="2.00" fill="#352a87"/>
<rect x="194.20" y="254.00" width="238.30" height="2.00" fill="#352a87"/>
<rect x="194.20" y="255.00" width="238.30" height="2.00" fill="#352a87"/>
<rect x="194.20" y="256.00" width="238.30" height="2.00" fill="#352a87"/>
<rect x="194.20" y="257.00" width="238.30" height="2.00" fill="#352a87"/>
<rect x="194.20" y="258.00" width="238.30" height="2.00" fill="#352a87"/>
<rect x="194.20" y="259.00" width="238.30" height="2.00" fill="#352a87"/>
<rect x="194.20" y="260.00" width="238.30" height="2.00" fill="#352a87"/>
<rect x="194.20" y="261.00" width="238.30" height="2.00" fill="#352a87"/>
<rect x="194.20" y="262.00" width="238.30" height="2.00" fill="#352a87"/>
<rect x="194.20" y="263.00" width="238.30" height="2.00" fill="#352a87"/>
<rect x="194.20" y="264.00" width="238.30" height="2.00" fill="#352a87"/>
<rect x="194.20" y="265.00" width="238.30" height="2.00" fill="#352a87"/>
<rect x="194.20" y="266.00" width="238.30" height="1.00" fill="#352a87"/>
<text class="tk" x="194.2" y="276.7" text-anchor="middle">0</text>
<text class="tk" x="218.0" y="276.7" text-anchor="middle">0.1</text>
<text class="tk" x="241.9" y="276.7" text-anchor="middle">0.2</text>
<text class="tk" x="265.7" y="276.7" text-anchor="middle">0.3</text>
<text class="tk" x="289.5" y="276.7" text-anchor="middle">0.4</text>
<text class="tk" x="313.4" y="276.7" text-anchor="middle">0.5</text>
<text class="tk" x="337.2" y="276.7" text-anchor="middle">0.6</text>
<text class="tk" x="361.0" y="276.7" text-anchor="middle">0.7</text>
<text class="tk" x="384.8" y="276.7" text-anchor="middle">0.8</text>
<text class="tk" x="408.7" y="276.7" text-anchor="middle">0.9</text>
<text class="tk" x="432.5" y="276.7" text-anchor="middle">1</text>
<text class="tk" x="191.6" y="270.1" text-anchor="end">0</text>
<text class="tk" x="191.6" y="245.1" text-anchor="end">200</text>
<text class="tk" x="191.6" y="220.1" text-anchor="end">400</text>
<text class="tk" x="191.6" y="195.1" text-anchor="end">600</text>
<text class="tk" x="191.6" y="170.1" text-anchor="end">800</text>
<text class="ax" x="313" y="288.6" text-anchor="middle">t (s)</text>
<text class="ax" x="176.4" y="217" text-anchor="middle" transform="rotate(-90 176.4 217)">f (Hz)</text>
<text class="cap" x="325.8" y="312.2" text-anchor="middle">(<tspan>c</tspan>)</text>
</g>
</svg></body></html>
